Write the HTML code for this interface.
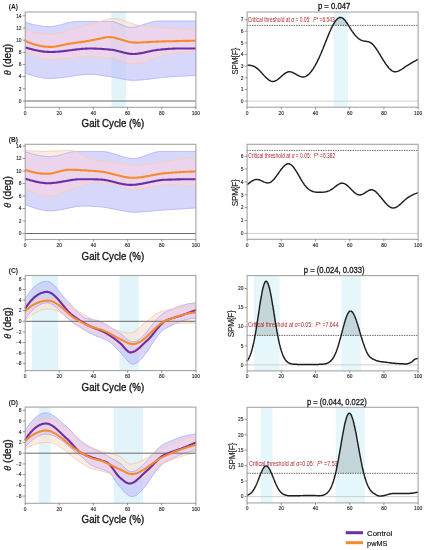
<!DOCTYPE html>
<html><head><meta charset="utf-8"><style>
html,body{margin:0;padding:0;background:#fff;}
body{width:425px;height:550px;overflow:hidden;}
svg{display:block;font-family:"Liberation Sans", sans-serif;filter:blur(0.25px);}
</style></head><body>
<svg width="425" height="550" viewBox="0 0 425 550">
<rect width="425" height="550" fill="#fff"/>
<rect x="111.5" y="12.0" width="14.5" height="95.3" fill="rgb(226,244,250)"/>
<clipPath id="clp1"><polygon points="25.0,22.0 25.7,22.2 26.3,22.5 27.0,22.7 27.7,22.9 28.3,23.1 29.0,23.3 29.7,23.6 30.3,23.7 31.0,23.9 31.7,24.1 32.3,24.3 33.0,24.5 33.6,24.6 34.3,24.8 35.0,24.9 35.6,25.1 36.3,25.2 37.0,25.3 37.6,25.5 38.3,25.6 39.0,25.7 39.6,25.8 40.3,25.9 41.0,26.0 41.6,26.1 42.3,26.2 43.0,26.2 43.6,26.3 44.3,26.4 45.0,26.4 45.6,26.5 46.3,26.5 47.0,26.5 47.6,26.6 48.3,26.6 49.0,26.6 49.6,26.6 50.3,26.6 50.9,26.6 51.6,26.5 52.3,26.5 52.9,26.4 53.6,26.3 54.3,26.2 54.9,26.1 55.6,26.0 56.3,25.9 56.9,25.7 57.6,25.6 58.3,25.4 58.9,25.3 59.6,25.1 60.3,24.9 60.9,24.7 61.6,24.5 62.3,24.3 62.9,24.1 63.6,24.0 64.3,23.8 64.9,23.6 65.6,23.4 66.3,23.2 66.9,23.0 67.6,22.8 68.2,22.7 68.9,22.5 69.6,22.4 70.2,22.2 70.9,22.1 71.6,22.0 72.2,21.9 72.9,21.8 73.6,21.7 74.2,21.6 74.9,21.6 75.6,21.5 76.2,21.5 76.9,21.5 77.6,21.5 78.2,21.5 78.9,21.5 79.6,21.5 80.2,21.5 80.9,21.5 81.6,21.5 82.2,21.5 82.9,21.5 83.6,21.5 84.2,21.5 84.9,21.5 85.5,21.5 86.2,21.5 86.9,21.5 87.5,21.5 88.2,21.5 88.9,21.5 89.5,21.5 90.2,21.5 90.9,21.5 91.5,21.5 92.2,21.5 92.9,21.5 93.5,21.5 94.2,21.5 94.9,21.5 95.5,21.5 96.2,21.5 96.9,21.5 97.5,21.5 98.2,21.5 98.9,21.5 99.5,21.5 100.2,21.5 100.9,21.5 101.5,21.5 102.2,21.5 102.8,21.5 103.5,21.5 104.2,21.5 104.8,21.5 105.5,21.5 106.2,21.5 106.8,21.5 107.5,21.5 108.2,21.5 108.8,21.5 109.5,21.5 110.2,21.5 110.8,21.5 111.5,21.5 112.2,21.6 112.8,21.6 113.5,21.8 114.2,21.9 114.8,22.1 115.5,22.3 116.2,22.5 116.8,22.8 117.5,23.0 118.2,23.3 118.8,23.6 119.5,23.9 120.1,24.2 120.8,24.5 121.5,24.8 122.1,25.1 122.8,25.3 123.5,25.6 124.1,25.9 124.8,26.2 125.5,26.4 126.1,26.6 126.8,26.8 127.5,27.0 128.1,27.1 128.8,27.3 129.5,27.3 130.1,27.4 130.8,27.4 131.5,27.4 132.1,27.3 132.8,27.3 133.5,27.2 134.1,27.1 134.8,27.0 135.5,26.9 136.1,26.8 136.8,26.6 137.4,26.5 138.1,26.3 138.8,26.1 139.4,25.9 140.1,25.7 140.8,25.5 141.4,25.3 142.1,25.1 142.8,24.9 143.4,24.6 144.1,24.4 144.8,24.2 145.4,24.0 146.1,23.7 146.8,23.5 147.4,23.3 148.1,23.1 148.8,22.9 149.4,22.7 150.1,22.5 150.8,22.3 151.4,22.1 152.1,21.9 152.8,21.8 153.4,21.6 154.1,21.5 154.7,21.4 155.4,21.3 156.1,21.2 156.7,21.1 157.4,21.0 158.1,21.0 158.7,21.0 159.4,21.0 160.1,21.0 160.7,21.0 161.4,21.0 162.1,21.0 162.7,21.0 163.4,21.0 164.1,21.0 164.7,21.0 165.4,21.0 166.1,21.0 166.7,21.0 167.4,21.0 168.1,21.0 168.7,21.0 169.4,21.0 170.1,21.0 170.7,21.0 171.4,21.0 172.0,21.0 172.7,21.0 173.4,21.0 174.0,21.0 174.7,21.0 175.4,21.0 176.0,21.0 176.7,21.0 177.4,21.0 178.0,21.0 178.7,21.0 179.4,21.0 180.0,21.0 180.7,21.0 181.4,21.0 182.0,21.0 182.7,21.0 183.4,21.0 184.0,21.0 184.7,21.0 185.4,21.0 186.0,21.0 186.7,21.0 187.4,21.0 188.0,21.0 188.7,21.0 189.3,21.0 190.0,21.0 190.7,21.0 191.3,21.0 192.0,21.0 192.7,21.0 193.3,21.0 194.0,21.0 194.7,21.0 195.3,21.0 196.0,21.0 196.0,75.6 195.3,75.6 194.7,75.6 194.0,75.7 193.3,75.7 192.7,75.7 192.0,75.7 191.3,75.7 190.7,75.8 190.0,75.8 189.3,75.8 188.7,75.8 188.0,75.9 187.4,75.9 186.7,75.9 186.0,76.0 185.4,76.0 184.7,76.0 184.0,76.0 183.4,76.1 182.7,76.1 182.0,76.1 181.4,76.2 180.7,76.2 180.0,76.2 179.4,76.3 178.7,76.3 178.0,76.3 177.4,76.4 176.7,76.4 176.0,76.4 175.4,76.5 174.7,76.5 174.0,76.6 173.4,76.6 172.7,76.6 172.0,76.7 171.4,76.7 170.7,76.8 170.1,76.8 169.4,76.8 168.7,76.9 168.1,76.9 167.4,77.0 166.7,77.0 166.1,77.1 165.4,77.2 164.7,77.2 164.1,77.3 163.4,77.4 162.7,77.4 162.1,77.5 161.4,77.6 160.7,77.7 160.1,77.7 159.4,77.8 158.7,77.9 158.1,78.0 157.4,78.1 156.7,78.2 156.1,78.2 155.4,78.3 154.7,78.4 154.1,78.5 153.4,78.6 152.8,78.7 152.1,78.8 151.4,78.8 150.8,78.9 150.1,79.0 149.4,79.1 148.8,79.2 148.1,79.2 147.4,79.3 146.8,79.4 146.1,79.5 145.4,79.5 144.8,79.6 144.1,79.7 143.4,79.8 142.8,79.8 142.1,79.9 141.4,79.9 140.8,80.0 140.1,80.0 139.4,80.1 138.8,80.1 138.1,80.2 137.4,80.2 136.8,80.2 136.1,80.2 135.5,80.3 134.8,80.3 134.1,80.3 133.5,80.3 132.8,80.3 132.1,80.3 131.5,80.3 130.8,80.2 130.1,80.2 129.5,80.1 128.8,80.1 128.1,80.0 127.5,79.9 126.8,79.8 126.1,79.7 125.5,79.6 124.8,79.5 124.1,79.3 123.5,79.2 122.8,79.1 122.1,78.9 121.5,78.8 120.8,78.7 120.1,78.5 119.5,78.4 118.8,78.2 118.2,78.1 117.5,78.0 116.8,77.8 116.2,77.7 115.5,77.6 114.8,77.4 114.2,77.3 113.5,77.2 112.8,77.1 112.2,77.0 111.5,76.9 110.8,76.8 110.2,76.7 109.5,76.6 108.8,76.5 108.2,76.4 107.5,76.3 106.8,76.2 106.2,76.1 105.5,76.0 104.8,75.9 104.2,75.8 103.5,75.7 102.8,75.6 102.2,75.5 101.5,75.4 100.9,75.3 100.2,75.2 99.5,75.1 98.9,75.0 98.2,75.0 97.5,74.9 96.9,74.8 96.2,74.7 95.5,74.7 94.9,74.6 94.2,74.6 93.5,74.5 92.9,74.5 92.2,74.4 91.5,74.4 90.9,74.4 90.2,74.4 89.5,74.4 88.9,74.4 88.2,74.4 87.5,74.4 86.9,74.5 86.2,74.5 85.5,74.5 84.9,74.6 84.2,74.6 83.6,74.7 82.9,74.7 82.2,74.8 81.6,74.9 80.9,74.9 80.2,75.0 79.6,75.1 78.9,75.2 78.2,75.2 77.6,75.3 76.9,75.4 76.2,75.5 75.6,75.6 74.9,75.7 74.2,75.8 73.6,75.9 72.9,76.0 72.2,76.1 71.6,76.2 70.9,76.3 70.2,76.4 69.6,76.5 68.9,76.6 68.2,76.7 67.6,76.8 66.9,76.9 66.3,77.0 65.6,77.1 64.9,77.1 64.3,77.2 63.6,77.3 62.9,77.4 62.3,77.5 61.6,77.6 60.9,77.7 60.3,77.7 59.6,77.8 58.9,77.9 58.3,78.0 57.6,78.0 56.9,78.1 56.3,78.1 55.6,78.2 54.9,78.2 54.3,78.3 53.6,78.3 52.9,78.3 52.3,78.4 51.6,78.4 50.9,78.4 50.3,78.4 49.6,78.4 49.0,78.4 48.3,78.4 47.6,78.3 47.0,78.3 46.3,78.2 45.6,78.2 45.0,78.1 44.3,78.0 43.6,78.0 43.0,77.9 42.3,77.8 41.6,77.7 41.0,77.5 40.3,77.4 39.6,77.3 39.0,77.1 38.3,77.0 37.6,76.9 37.0,76.7 36.3,76.5 35.6,76.4 35.0,76.2 34.3,76.0 33.6,75.8 33.0,75.7 32.3,75.5 31.7,75.3 31.0,75.1 30.3,74.9 29.7,74.7 29.0,74.5 28.3,74.3 27.7,74.1 27.0,73.8 26.3,73.6 25.7,73.4 25.0,73.2"/></clipPath>
<g opacity="0.65">
<polygon points="25.0,22.0 25.7,22.2 26.3,22.5 27.0,22.7 27.7,22.9 28.3,23.1 29.0,23.3 29.7,23.6 30.3,23.7 31.0,23.9 31.7,24.1 32.3,24.3 33.0,24.5 33.6,24.6 34.3,24.8 35.0,24.9 35.6,25.1 36.3,25.2 37.0,25.3 37.6,25.5 38.3,25.6 39.0,25.7 39.6,25.8 40.3,25.9 41.0,26.0 41.6,26.1 42.3,26.2 43.0,26.2 43.6,26.3 44.3,26.4 45.0,26.4 45.6,26.5 46.3,26.5 47.0,26.5 47.6,26.6 48.3,26.6 49.0,26.6 49.6,26.6 50.3,26.6 50.9,26.6 51.6,26.5 52.3,26.5 52.9,26.4 53.6,26.3 54.3,26.2 54.9,26.1 55.6,26.0 56.3,25.9 56.9,25.7 57.6,25.6 58.3,25.4 58.9,25.3 59.6,25.1 60.3,24.9 60.9,24.7 61.6,24.5 62.3,24.3 62.9,24.1 63.6,24.0 64.3,23.8 64.9,23.6 65.6,23.4 66.3,23.2 66.9,23.0 67.6,22.8 68.2,22.7 68.9,22.5 69.6,22.4 70.2,22.2 70.9,22.1 71.6,22.0 72.2,21.9 72.9,21.8 73.6,21.7 74.2,21.6 74.9,21.6 75.6,21.5 76.2,21.5 76.9,21.5 77.6,21.5 78.2,21.5 78.9,21.5 79.6,21.5 80.2,21.5 80.9,21.5 81.6,21.5 82.2,21.5 82.9,21.5 83.6,21.5 84.2,21.5 84.9,21.5 85.5,21.5 86.2,21.5 86.9,21.5 87.5,21.5 88.2,21.5 88.9,21.5 89.5,21.5 90.2,21.5 90.9,21.5 91.5,21.5 92.2,21.5 92.9,21.5 93.5,21.5 94.2,21.5 94.9,21.5 95.5,21.5 96.2,21.5 96.9,21.5 97.5,21.5 98.2,21.5 98.9,21.5 99.5,21.5 100.2,21.5 100.9,21.5 101.5,21.5 102.2,21.5 102.8,21.5 103.5,21.5 104.2,21.5 104.8,21.5 105.5,21.5 106.2,21.5 106.8,21.5 107.5,21.5 108.2,21.5 108.8,21.5 109.5,21.5 110.2,21.5 110.8,21.5 111.5,21.5 112.2,21.6 112.8,21.6 113.5,21.8 114.2,21.9 114.8,22.1 115.5,22.3 116.2,22.5 116.8,22.8 117.5,23.0 118.2,23.3 118.8,23.6 119.5,23.9 120.1,24.2 120.8,24.5 121.5,24.8 122.1,25.1 122.8,25.3 123.5,25.6 124.1,25.9 124.8,26.2 125.5,26.4 126.1,26.6 126.8,26.8 127.5,27.0 128.1,27.1 128.8,27.3 129.5,27.3 130.1,27.4 130.8,27.4 131.5,27.4 132.1,27.3 132.8,27.3 133.5,27.2 134.1,27.1 134.8,27.0 135.5,26.9 136.1,26.8 136.8,26.6 137.4,26.5 138.1,26.3 138.8,26.1 139.4,25.9 140.1,25.7 140.8,25.5 141.4,25.3 142.1,25.1 142.8,24.9 143.4,24.6 144.1,24.4 144.8,24.2 145.4,24.0 146.1,23.7 146.8,23.5 147.4,23.3 148.1,23.1 148.8,22.9 149.4,22.7 150.1,22.5 150.8,22.3 151.4,22.1 152.1,21.9 152.8,21.8 153.4,21.6 154.1,21.5 154.7,21.4 155.4,21.3 156.1,21.2 156.7,21.1 157.4,21.0 158.1,21.0 158.7,21.0 159.4,21.0 160.1,21.0 160.7,21.0 161.4,21.0 162.1,21.0 162.7,21.0 163.4,21.0 164.1,21.0 164.7,21.0 165.4,21.0 166.1,21.0 166.7,21.0 167.4,21.0 168.1,21.0 168.7,21.0 169.4,21.0 170.1,21.0 170.7,21.0 171.4,21.0 172.0,21.0 172.7,21.0 173.4,21.0 174.0,21.0 174.7,21.0 175.4,21.0 176.0,21.0 176.7,21.0 177.4,21.0 178.0,21.0 178.7,21.0 179.4,21.0 180.0,21.0 180.7,21.0 181.4,21.0 182.0,21.0 182.7,21.0 183.4,21.0 184.0,21.0 184.7,21.0 185.4,21.0 186.0,21.0 186.7,21.0 187.4,21.0 188.0,21.0 188.7,21.0 189.3,21.0 190.0,21.0 190.7,21.0 191.3,21.0 192.0,21.0 192.7,21.0 193.3,21.0 194.0,21.0 194.7,21.0 195.3,21.0 196.0,21.0 196.0,75.6 195.3,75.6 194.7,75.6 194.0,75.7 193.3,75.7 192.7,75.7 192.0,75.7 191.3,75.7 190.7,75.8 190.0,75.8 189.3,75.8 188.7,75.8 188.0,75.9 187.4,75.9 186.7,75.9 186.0,76.0 185.4,76.0 184.7,76.0 184.0,76.0 183.4,76.1 182.7,76.1 182.0,76.1 181.4,76.2 180.7,76.2 180.0,76.2 179.4,76.3 178.7,76.3 178.0,76.3 177.4,76.4 176.7,76.4 176.0,76.4 175.4,76.5 174.7,76.5 174.0,76.6 173.4,76.6 172.7,76.6 172.0,76.7 171.4,76.7 170.7,76.8 170.1,76.8 169.4,76.8 168.7,76.9 168.1,76.9 167.4,77.0 166.7,77.0 166.1,77.1 165.4,77.2 164.7,77.2 164.1,77.3 163.4,77.4 162.7,77.4 162.1,77.5 161.4,77.6 160.7,77.7 160.1,77.7 159.4,77.8 158.7,77.9 158.1,78.0 157.4,78.1 156.7,78.2 156.1,78.2 155.4,78.3 154.7,78.4 154.1,78.5 153.4,78.6 152.8,78.7 152.1,78.8 151.4,78.8 150.8,78.9 150.1,79.0 149.4,79.1 148.8,79.2 148.1,79.2 147.4,79.3 146.8,79.4 146.1,79.5 145.4,79.5 144.8,79.6 144.1,79.7 143.4,79.8 142.8,79.8 142.1,79.9 141.4,79.9 140.8,80.0 140.1,80.0 139.4,80.1 138.8,80.1 138.1,80.2 137.4,80.2 136.8,80.2 136.1,80.2 135.5,80.3 134.8,80.3 134.1,80.3 133.5,80.3 132.8,80.3 132.1,80.3 131.5,80.3 130.8,80.2 130.1,80.2 129.5,80.1 128.8,80.1 128.1,80.0 127.5,79.9 126.8,79.8 126.1,79.7 125.5,79.6 124.8,79.5 124.1,79.3 123.5,79.2 122.8,79.1 122.1,78.9 121.5,78.8 120.8,78.7 120.1,78.5 119.5,78.4 118.8,78.2 118.2,78.1 117.5,78.0 116.8,77.8 116.2,77.7 115.5,77.6 114.8,77.4 114.2,77.3 113.5,77.2 112.8,77.1 112.2,77.0 111.5,76.9 110.8,76.8 110.2,76.7 109.5,76.6 108.8,76.5 108.2,76.4 107.5,76.3 106.8,76.2 106.2,76.1 105.5,76.0 104.8,75.9 104.2,75.8 103.5,75.7 102.8,75.6 102.2,75.5 101.5,75.4 100.9,75.3 100.2,75.2 99.5,75.1 98.9,75.0 98.2,75.0 97.5,74.9 96.9,74.8 96.2,74.7 95.5,74.7 94.9,74.6 94.2,74.6 93.5,74.5 92.9,74.5 92.2,74.4 91.5,74.4 90.9,74.4 90.2,74.4 89.5,74.4 88.9,74.4 88.2,74.4 87.5,74.4 86.9,74.5 86.2,74.5 85.5,74.5 84.9,74.6 84.2,74.6 83.6,74.7 82.9,74.7 82.2,74.8 81.6,74.9 80.9,74.9 80.2,75.0 79.6,75.1 78.9,75.2 78.2,75.2 77.6,75.3 76.9,75.4 76.2,75.5 75.6,75.6 74.9,75.7 74.2,75.8 73.6,75.9 72.9,76.0 72.2,76.1 71.6,76.2 70.9,76.3 70.2,76.4 69.6,76.5 68.9,76.6 68.2,76.7 67.6,76.8 66.9,76.9 66.3,77.0 65.6,77.1 64.9,77.1 64.3,77.2 63.6,77.3 62.9,77.4 62.3,77.5 61.6,77.6 60.9,77.7 60.3,77.7 59.6,77.8 58.9,77.9 58.3,78.0 57.6,78.0 56.9,78.1 56.3,78.1 55.6,78.2 54.9,78.2 54.3,78.3 53.6,78.3 52.9,78.3 52.3,78.4 51.6,78.4 50.9,78.4 50.3,78.4 49.6,78.4 49.0,78.4 48.3,78.4 47.6,78.3 47.0,78.3 46.3,78.2 45.6,78.2 45.0,78.1 44.3,78.0 43.6,78.0 43.0,77.9 42.3,77.8 41.6,77.7 41.0,77.5 40.3,77.4 39.6,77.3 39.0,77.1 38.3,77.0 37.6,76.9 37.0,76.7 36.3,76.5 35.6,76.4 35.0,76.2 34.3,76.0 33.6,75.8 33.0,75.7 32.3,75.5 31.7,75.3 31.0,75.1 30.3,74.9 29.7,74.7 29.0,74.5 28.3,74.3 27.7,74.1 27.0,73.8 26.3,73.6 25.7,73.4 25.0,73.2" fill="rgb(195,195,249)"/>
<polygon points="25.0,29.7 25.7,30.0 26.3,30.2 27.0,30.4 27.7,30.7 28.3,30.9 29.0,31.1 29.7,31.3 30.3,31.5 31.0,31.7 31.7,31.9 32.3,32.1 33.0,32.3 33.6,32.5 34.3,32.6 35.0,32.8 35.6,32.9 36.3,33.0 37.0,33.2 37.6,33.3 38.3,33.4 39.0,33.5 39.6,33.6 40.3,33.7 41.0,33.8 41.6,33.9 42.3,34.0 43.0,34.1 43.6,34.1 44.3,34.2 45.0,34.2 45.6,34.3 46.3,34.3 47.0,34.3 47.6,34.4 48.3,34.4 49.0,34.4 49.6,34.4 50.3,34.4 50.9,34.4 51.6,34.4 52.3,34.3 52.9,34.3 53.6,34.2 54.3,34.1 54.9,34.0 55.6,33.9 56.3,33.8 56.9,33.7 57.6,33.6 58.3,33.4 58.9,33.3 59.6,33.1 60.3,33.0 60.9,32.8 61.6,32.6 62.3,32.4 62.9,32.2 63.6,32.1 64.3,31.9 64.9,31.7 65.6,31.5 66.3,31.3 66.9,31.1 67.6,30.8 68.2,30.6 68.9,30.4 69.6,30.2 70.2,30.0 70.9,29.8 71.6,29.6 72.2,29.4 72.9,29.2 73.6,29.0 74.2,28.8 74.9,28.6 75.6,28.4 76.2,28.3 76.9,28.1 77.6,27.9 78.2,27.7 78.9,27.6 79.6,27.4 80.2,27.2 80.9,27.0 81.6,26.8 82.2,26.6 82.9,26.4 83.6,26.2 84.2,26.0 84.9,25.8 85.5,25.6 86.2,25.4 86.9,25.2 87.5,25.0 88.2,24.8 88.9,24.6 89.5,24.4 90.2,24.2 90.9,24.1 91.5,23.9 92.2,23.7 92.9,23.5 93.5,23.3 94.2,23.1 94.9,22.9 95.5,22.7 96.2,22.5 96.9,22.3 97.5,22.1 98.2,22.0 98.9,21.8 99.5,21.6 100.2,21.5 100.9,21.3 101.5,21.1 102.2,20.9 102.8,20.7 103.5,20.5 104.2,20.3 104.8,20.1 105.5,19.9 106.2,19.7 106.8,19.5 107.5,19.3 108.2,19.1 108.8,19.0 109.5,18.9 110.2,18.7 110.8,18.6 111.5,18.6 112.2,18.5 112.8,18.5 113.5,18.5 114.2,18.5 114.8,18.6 115.5,18.6 116.2,18.7 116.8,18.8 117.5,18.9 118.2,19.1 118.8,19.2 119.5,19.4 120.1,19.6 120.8,19.7 121.5,19.9 122.1,20.1 122.8,20.4 123.5,20.6 124.1,20.8 124.8,21.0 125.5,21.3 126.1,21.5 126.8,21.8 127.5,22.0 128.1,22.2 128.8,22.5 129.5,22.7 130.1,23.0 130.8,23.2 131.5,23.5 132.1,23.7 132.8,23.9 133.5,24.1 134.1,24.3 134.8,24.5 135.5,24.7 136.1,24.9 136.8,25.1 137.4,25.2 138.1,25.4 138.8,25.5 139.4,25.6 140.1,25.7 140.8,25.8 141.4,25.9 142.1,26.0 142.8,26.1 143.4,26.1 144.1,26.2 144.8,26.3 145.4,26.4 146.1,26.4 146.8,26.5 147.4,26.6 148.1,26.6 148.8,26.7 149.4,26.8 150.1,26.8 150.8,26.9 151.4,27.0 152.1,27.0 152.8,27.1 153.4,27.1 154.1,27.2 154.7,27.2 155.4,27.3 156.1,27.4 156.7,27.4 157.4,27.5 158.1,27.5 158.7,27.6 159.4,27.6 160.1,27.7 160.7,27.7 161.4,27.7 162.1,27.8 162.7,27.8 163.4,27.9 164.1,27.9 164.7,28.0 165.4,28.0 166.1,28.1 166.7,28.1 167.4,28.2 168.1,28.2 168.7,28.3 169.4,28.3 170.1,28.3 170.7,28.4 171.4,28.4 172.0,28.5 172.7,28.5 173.4,28.6 174.0,28.6 174.7,28.6 175.4,28.7 176.0,28.7 176.7,28.8 177.4,28.8 178.0,28.8 178.7,28.9 179.4,28.9 180.0,29.0 180.7,29.0 181.4,29.0 182.0,29.1 182.7,29.1 183.4,29.1 184.0,29.2 184.7,29.2 185.4,29.2 186.0,29.3 186.7,29.3 187.4,29.3 188.0,29.4 188.7,29.4 189.3,29.4 190.0,29.5 190.7,29.5 191.3,29.5 192.0,29.5 192.7,29.6 193.3,29.6 194.0,29.6 194.7,29.7 195.3,29.7 196.0,29.7 196.0,50.9 195.3,50.9 194.7,51.0 194.0,51.0 193.3,51.1 192.7,51.1 192.0,51.2 191.3,51.3 190.7,51.3 190.0,51.4 189.3,51.4 188.7,51.5 188.0,51.6 187.4,51.6 186.7,51.7 186.0,51.8 185.4,51.9 184.7,52.0 184.0,52.0 183.4,52.1 182.7,52.2 182.0,52.3 181.4,52.4 180.7,52.5 180.0,52.6 179.4,52.7 178.7,52.8 178.0,52.9 177.4,53.0 176.7,53.1 176.0,53.2 175.4,53.3 174.7,53.4 174.0,53.5 173.4,53.6 172.7,53.7 172.0,53.8 171.4,53.9 170.7,54.0 170.1,54.1 169.4,54.2 168.7,54.3 168.1,54.5 167.4,54.6 166.7,54.7 166.1,54.8 165.4,54.9 164.7,55.0 164.1,55.2 163.4,55.3 162.7,55.5 162.1,55.6 161.4,55.8 160.7,56.0 160.1,56.2 159.4,56.4 158.7,56.6 158.1,56.8 157.4,57.0 156.7,57.3 156.1,57.5 155.4,57.7 154.7,58.0 154.1,58.2 153.4,58.5 152.8,58.7 152.1,59.0 151.4,59.2 150.8,59.5 150.1,59.7 149.4,60.0 148.8,60.2 148.1,60.4 147.4,60.7 146.8,60.9 146.1,61.1 145.4,61.4 144.8,61.6 144.1,61.8 143.4,62.0 142.8,62.2 142.1,62.4 141.4,62.6 140.8,62.7 140.1,62.9 139.4,63.1 138.8,63.2 138.1,63.3 137.4,63.4 136.8,63.5 136.1,63.6 135.5,63.7 134.8,63.7 134.1,63.8 133.5,63.8 132.8,63.8 132.1,63.8 131.5,63.7 130.8,63.7 130.1,63.6 129.5,63.5 128.8,63.3 128.1,63.2 127.5,63.0 126.8,62.8 126.1,62.6 125.5,62.4 124.8,62.2 124.1,62.0 123.5,61.8 122.8,61.5 122.1,61.3 121.5,61.0 120.8,60.8 120.1,60.6 119.5,60.3 118.8,60.1 118.2,59.8 117.5,59.6 116.8,59.4 116.2,59.2 115.5,59.0 114.8,58.8 114.2,58.6 113.5,58.4 112.8,58.3 112.2,58.2 111.5,58.1 110.8,58.0 110.2,57.9 109.5,57.8 108.8,57.7 108.2,57.7 107.5,57.6 106.8,57.5 106.2,57.4 105.5,57.3 104.8,57.3 104.2,57.2 103.5,57.1 102.8,57.1 102.2,57.0 101.5,56.9 100.9,56.9 100.2,56.8 99.5,56.7 98.9,56.7 98.2,56.6 97.5,56.6 96.9,56.5 96.2,56.5 95.5,56.5 94.9,56.4 94.2,56.4 93.5,56.4 92.9,56.3 92.2,56.3 91.5,56.3 90.9,56.3 90.2,56.3 89.5,56.3 88.9,56.3 88.2,56.3 87.5,56.3 86.9,56.4 86.2,56.4 85.5,56.4 84.9,56.4 84.2,56.5 83.6,56.5 82.9,56.6 82.2,56.6 81.6,56.7 80.9,56.7 80.2,56.8 79.6,56.9 78.9,56.9 78.2,57.0 77.6,57.1 76.9,57.1 76.2,57.2 75.6,57.3 74.9,57.4 74.2,57.4 73.6,57.5 72.9,57.6 72.2,57.7 71.6,57.8 70.9,57.8 70.2,57.9 69.6,58.0 68.9,58.1 68.2,58.2 67.6,58.2 66.9,58.3 66.3,58.4 65.6,58.5 64.9,58.6 64.3,58.6 63.6,58.7 62.9,58.8 62.3,58.9 61.6,58.9 60.9,59.0 60.3,59.1 59.6,59.1 58.9,59.2 58.3,59.2 57.6,59.3 56.9,59.3 56.3,59.4 55.6,59.4 54.9,59.5 54.3,59.5 53.6,59.5 52.9,59.5 52.3,59.6 51.6,59.6 50.9,59.6 50.3,59.6 49.6,59.6 49.0,59.6 48.3,59.5 47.6,59.5 47.0,59.4 46.3,59.3 45.6,59.2 45.0,59.1 44.3,59.0 43.6,58.8 43.0,58.7 42.3,58.5 41.6,58.3 41.0,58.1 40.3,57.9 39.6,57.6 39.0,57.4 38.3,57.2 37.6,56.9 37.0,56.6 36.3,56.4 35.6,56.1 35.0,55.8 34.3,55.5 33.6,55.2 33.0,54.9 32.3,54.6 31.7,54.3 31.0,53.9 30.3,53.6 29.7,53.3 29.0,52.9 28.3,52.6 27.7,52.3 27.0,51.9 26.3,51.6 25.7,51.2 25.0,50.9" fill="rgb(250,227,210)"/>
<polygon points="25.0,29.7 25.7,30.0 26.3,30.2 27.0,30.4 27.7,30.7 28.3,30.9 29.0,31.1 29.7,31.3 30.3,31.5 31.0,31.7 31.7,31.9 32.3,32.1 33.0,32.3 33.6,32.5 34.3,32.6 35.0,32.8 35.6,32.9 36.3,33.0 37.0,33.2 37.6,33.3 38.3,33.4 39.0,33.5 39.6,33.6 40.3,33.7 41.0,33.8 41.6,33.9 42.3,34.0 43.0,34.1 43.6,34.1 44.3,34.2 45.0,34.2 45.6,34.3 46.3,34.3 47.0,34.3 47.6,34.4 48.3,34.4 49.0,34.4 49.6,34.4 50.3,34.4 50.9,34.4 51.6,34.4 52.3,34.3 52.9,34.3 53.6,34.2 54.3,34.1 54.9,34.0 55.6,33.9 56.3,33.8 56.9,33.7 57.6,33.6 58.3,33.4 58.9,33.3 59.6,33.1 60.3,33.0 60.9,32.8 61.6,32.6 62.3,32.4 62.9,32.2 63.6,32.1 64.3,31.9 64.9,31.7 65.6,31.5 66.3,31.3 66.9,31.1 67.6,30.8 68.2,30.6 68.9,30.4 69.6,30.2 70.2,30.0 70.9,29.8 71.6,29.6 72.2,29.4 72.9,29.2 73.6,29.0 74.2,28.8 74.9,28.6 75.6,28.4 76.2,28.3 76.9,28.1 77.6,27.9 78.2,27.7 78.9,27.6 79.6,27.4 80.2,27.2 80.9,27.0 81.6,26.8 82.2,26.6 82.9,26.4 83.6,26.2 84.2,26.0 84.9,25.8 85.5,25.6 86.2,25.4 86.9,25.2 87.5,25.0 88.2,24.8 88.9,24.6 89.5,24.4 90.2,24.2 90.9,24.1 91.5,23.9 92.2,23.7 92.9,23.5 93.5,23.3 94.2,23.1 94.9,22.9 95.5,22.7 96.2,22.5 96.9,22.3 97.5,22.1 98.2,22.0 98.9,21.8 99.5,21.6 100.2,21.5 100.9,21.3 101.5,21.1 102.2,20.9 102.8,20.7 103.5,20.5 104.2,20.3 104.8,20.1 105.5,19.9 106.2,19.7 106.8,19.5 107.5,19.3 108.2,19.1 108.8,19.0 109.5,18.9 110.2,18.7 110.8,18.6 111.5,18.6 112.2,18.5 112.8,18.5 113.5,18.5 114.2,18.5 114.8,18.6 115.5,18.6 116.2,18.7 116.8,18.8 117.5,18.9 118.2,19.1 118.8,19.2 119.5,19.4 120.1,19.6 120.8,19.7 121.5,19.9 122.1,20.1 122.8,20.4 123.5,20.6 124.1,20.8 124.8,21.0 125.5,21.3 126.1,21.5 126.8,21.8 127.5,22.0 128.1,22.2 128.8,22.5 129.5,22.7 130.1,23.0 130.8,23.2 131.5,23.5 132.1,23.7 132.8,23.9 133.5,24.1 134.1,24.3 134.8,24.5 135.5,24.7 136.1,24.9 136.8,25.1 137.4,25.2 138.1,25.4 138.8,25.5 139.4,25.6 140.1,25.7 140.8,25.8 141.4,25.9 142.1,26.0 142.8,26.1 143.4,26.1 144.1,26.2 144.8,26.3 145.4,26.4 146.1,26.4 146.8,26.5 147.4,26.6 148.1,26.6 148.8,26.7 149.4,26.8 150.1,26.8 150.8,26.9 151.4,27.0 152.1,27.0 152.8,27.1 153.4,27.1 154.1,27.2 154.7,27.2 155.4,27.3 156.1,27.4 156.7,27.4 157.4,27.5 158.1,27.5 158.7,27.6 159.4,27.6 160.1,27.7 160.7,27.7 161.4,27.7 162.1,27.8 162.7,27.8 163.4,27.9 164.1,27.9 164.7,28.0 165.4,28.0 166.1,28.1 166.7,28.1 167.4,28.2 168.1,28.2 168.7,28.3 169.4,28.3 170.1,28.3 170.7,28.4 171.4,28.4 172.0,28.5 172.7,28.5 173.4,28.6 174.0,28.6 174.7,28.6 175.4,28.7 176.0,28.7 176.7,28.8 177.4,28.8 178.0,28.8 178.7,28.9 179.4,28.9 180.0,29.0 180.7,29.0 181.4,29.0 182.0,29.1 182.7,29.1 183.4,29.1 184.0,29.2 184.7,29.2 185.4,29.2 186.0,29.3 186.7,29.3 187.4,29.3 188.0,29.4 188.7,29.4 189.3,29.4 190.0,29.5 190.7,29.5 191.3,29.5 192.0,29.5 192.7,29.6 193.3,29.6 194.0,29.6 194.7,29.7 195.3,29.7 196.0,29.7 196.0,50.9 195.3,50.9 194.7,51.0 194.0,51.0 193.3,51.1 192.7,51.1 192.0,51.2 191.3,51.3 190.7,51.3 190.0,51.4 189.3,51.4 188.7,51.5 188.0,51.6 187.4,51.6 186.7,51.7 186.0,51.8 185.4,51.9 184.7,52.0 184.0,52.0 183.4,52.1 182.7,52.2 182.0,52.3 181.4,52.4 180.7,52.5 180.0,52.6 179.4,52.7 178.7,52.8 178.0,52.9 177.4,53.0 176.7,53.1 176.0,53.2 175.4,53.3 174.7,53.4 174.0,53.5 173.4,53.6 172.7,53.7 172.0,53.8 171.4,53.9 170.7,54.0 170.1,54.1 169.4,54.2 168.7,54.3 168.1,54.5 167.4,54.6 166.7,54.7 166.1,54.8 165.4,54.9 164.7,55.0 164.1,55.2 163.4,55.3 162.7,55.5 162.1,55.6 161.4,55.8 160.7,56.0 160.1,56.2 159.4,56.4 158.7,56.6 158.1,56.8 157.4,57.0 156.7,57.3 156.1,57.5 155.4,57.7 154.7,58.0 154.1,58.2 153.4,58.5 152.8,58.7 152.1,59.0 151.4,59.2 150.8,59.5 150.1,59.7 149.4,60.0 148.8,60.2 148.1,60.4 147.4,60.7 146.8,60.9 146.1,61.1 145.4,61.4 144.8,61.6 144.1,61.8 143.4,62.0 142.8,62.2 142.1,62.4 141.4,62.6 140.8,62.7 140.1,62.9 139.4,63.1 138.8,63.2 138.1,63.3 137.4,63.4 136.8,63.5 136.1,63.6 135.5,63.7 134.8,63.7 134.1,63.8 133.5,63.8 132.8,63.8 132.1,63.8 131.5,63.7 130.8,63.7 130.1,63.6 129.5,63.5 128.8,63.3 128.1,63.2 127.5,63.0 126.8,62.8 126.1,62.6 125.5,62.4 124.8,62.2 124.1,62.0 123.5,61.8 122.8,61.5 122.1,61.3 121.5,61.0 120.8,60.8 120.1,60.6 119.5,60.3 118.8,60.1 118.2,59.8 117.5,59.6 116.8,59.4 116.2,59.2 115.5,59.0 114.8,58.8 114.2,58.6 113.5,58.4 112.8,58.3 112.2,58.2 111.5,58.1 110.8,58.0 110.2,57.9 109.5,57.8 108.8,57.7 108.2,57.7 107.5,57.6 106.8,57.5 106.2,57.4 105.5,57.3 104.8,57.3 104.2,57.2 103.5,57.1 102.8,57.1 102.2,57.0 101.5,56.9 100.9,56.9 100.2,56.8 99.5,56.7 98.9,56.7 98.2,56.6 97.5,56.6 96.9,56.5 96.2,56.5 95.5,56.5 94.9,56.4 94.2,56.4 93.5,56.4 92.9,56.3 92.2,56.3 91.5,56.3 90.9,56.3 90.2,56.3 89.5,56.3 88.9,56.3 88.2,56.3 87.5,56.3 86.9,56.4 86.2,56.4 85.5,56.4 84.9,56.4 84.2,56.5 83.6,56.5 82.9,56.6 82.2,56.6 81.6,56.7 80.9,56.7 80.2,56.8 79.6,56.9 78.9,56.9 78.2,57.0 77.6,57.1 76.9,57.1 76.2,57.2 75.6,57.3 74.9,57.4 74.2,57.4 73.6,57.5 72.9,57.6 72.2,57.7 71.6,57.8 70.9,57.8 70.2,57.9 69.6,58.0 68.9,58.1 68.2,58.2 67.6,58.2 66.9,58.3 66.3,58.4 65.6,58.5 64.9,58.6 64.3,58.6 63.6,58.7 62.9,58.8 62.3,58.9 61.6,58.9 60.9,59.0 60.3,59.1 59.6,59.1 58.9,59.2 58.3,59.2 57.6,59.3 56.9,59.3 56.3,59.4 55.6,59.4 54.9,59.5 54.3,59.5 53.6,59.5 52.9,59.5 52.3,59.6 51.6,59.6 50.9,59.6 50.3,59.6 49.6,59.6 49.0,59.6 48.3,59.5 47.6,59.5 47.0,59.4 46.3,59.3 45.6,59.2 45.0,59.1 44.3,59.0 43.6,58.8 43.0,58.7 42.3,58.5 41.6,58.3 41.0,58.1 40.3,57.9 39.6,57.6 39.0,57.4 38.3,57.2 37.6,56.9 37.0,56.6 36.3,56.4 35.6,56.1 35.0,55.8 34.3,55.5 33.6,55.2 33.0,54.9 32.3,54.6 31.7,54.3 31.0,53.9 30.3,53.6 29.7,53.3 29.0,52.9 28.3,52.6 27.7,52.3 27.0,51.9 26.3,51.6 25.7,51.2 25.0,50.9" fill="rgb(226,192,226)" clip-path="url(#clp1)"/>
<polyline points="25.0,22.0 25.7,22.2 26.3,22.5 27.0,22.7 27.7,22.9 28.3,23.1 29.0,23.3 29.7,23.6 30.3,23.7 31.0,23.9 31.7,24.1 32.3,24.3 33.0,24.5 33.6,24.6 34.3,24.8 35.0,24.9 35.6,25.1 36.3,25.2 37.0,25.3 37.6,25.5 38.3,25.6 39.0,25.7 39.6,25.8 40.3,25.9 41.0,26.0 41.6,26.1 42.3,26.2 43.0,26.2 43.6,26.3 44.3,26.4 45.0,26.4 45.6,26.5 46.3,26.5 47.0,26.5 47.6,26.6 48.3,26.6 49.0,26.6 49.6,26.6 50.3,26.6 50.9,26.6 51.6,26.5 52.3,26.5 52.9,26.4 53.6,26.3 54.3,26.2 54.9,26.1 55.6,26.0 56.3,25.9 56.9,25.7 57.6,25.6 58.3,25.4 58.9,25.3 59.6,25.1 60.3,24.9 60.9,24.7 61.6,24.5 62.3,24.3 62.9,24.1 63.6,24.0 64.3,23.8 64.9,23.6 65.6,23.4 66.3,23.2 66.9,23.0 67.6,22.8 68.2,22.7 68.9,22.5 69.6,22.4 70.2,22.2 70.9,22.1 71.6,22.0 72.2,21.9 72.9,21.8 73.6,21.7 74.2,21.6 74.9,21.6 75.6,21.5 76.2,21.5 76.9,21.5 77.6,21.5 78.2,21.5 78.9,21.5 79.6,21.5 80.2,21.5 80.9,21.5 81.6,21.5 82.2,21.5 82.9,21.5 83.6,21.5 84.2,21.5 84.9,21.5 85.5,21.5 86.2,21.5 86.9,21.5 87.5,21.5 88.2,21.5 88.9,21.5 89.5,21.5 90.2,21.5 90.9,21.5 91.5,21.5 92.2,21.5 92.9,21.5 93.5,21.5 94.2,21.5 94.9,21.5 95.5,21.5 96.2,21.5 96.9,21.5 97.5,21.5 98.2,21.5 98.9,21.5 99.5,21.5 100.2,21.5 100.9,21.5 101.5,21.5 102.2,21.5 102.8,21.5 103.5,21.5 104.2,21.5 104.8,21.5 105.5,21.5 106.2,21.5 106.8,21.5 107.5,21.5 108.2,21.5 108.8,21.5 109.5,21.5 110.2,21.5 110.8,21.5 111.5,21.5 112.2,21.6 112.8,21.6 113.5,21.8 114.2,21.9 114.8,22.1 115.5,22.3 116.2,22.5 116.8,22.8 117.5,23.0 118.2,23.3 118.8,23.6 119.5,23.9 120.1,24.2 120.8,24.5 121.5,24.8 122.1,25.1 122.8,25.3 123.5,25.6 124.1,25.9 124.8,26.2 125.5,26.4 126.1,26.6 126.8,26.8 127.5,27.0 128.1,27.1 128.8,27.3 129.5,27.3 130.1,27.4 130.8,27.4 131.5,27.4 132.1,27.3 132.8,27.3 133.5,27.2 134.1,27.1 134.8,27.0 135.5,26.9 136.1,26.8 136.8,26.6 137.4,26.5 138.1,26.3 138.8,26.1 139.4,25.9 140.1,25.7 140.8,25.5 141.4,25.3 142.1,25.1 142.8,24.9 143.4,24.6 144.1,24.4 144.8,24.2 145.4,24.0 146.1,23.7 146.8,23.5 147.4,23.3 148.1,23.1 148.8,22.9 149.4,22.7 150.1,22.5 150.8,22.3 151.4,22.1 152.1,21.9 152.8,21.8 153.4,21.6 154.1,21.5 154.7,21.4 155.4,21.3 156.1,21.2 156.7,21.1 157.4,21.0 158.1,21.0 158.7,21.0 159.4,21.0 160.1,21.0 160.7,21.0 161.4,21.0 162.1,21.0 162.7,21.0 163.4,21.0 164.1,21.0 164.7,21.0 165.4,21.0 166.1,21.0 166.7,21.0 167.4,21.0 168.1,21.0 168.7,21.0 169.4,21.0 170.1,21.0 170.7,21.0 171.4,21.0 172.0,21.0 172.7,21.0 173.4,21.0 174.0,21.0 174.7,21.0 175.4,21.0 176.0,21.0 176.7,21.0 177.4,21.0 178.0,21.0 178.7,21.0 179.4,21.0 180.0,21.0 180.7,21.0 181.4,21.0 182.0,21.0 182.7,21.0 183.4,21.0 184.0,21.0 184.7,21.0 185.4,21.0 186.0,21.0 186.7,21.0 187.4,21.0 188.0,21.0 188.7,21.0 189.3,21.0 190.0,21.0 190.7,21.0 191.3,21.0 192.0,21.0 192.7,21.0 193.3,21.0 194.0,21.0 194.7,21.0 195.3,21.0 196.0,21.0" fill="none" stroke="rgb(135,135,246)" stroke-width="0.95"/>
<polyline points="25.0,73.2 25.7,73.4 26.3,73.6 27.0,73.8 27.7,74.1 28.3,74.3 29.0,74.5 29.7,74.7 30.3,74.9 31.0,75.1 31.7,75.3 32.3,75.5 33.0,75.7 33.6,75.8 34.3,76.0 35.0,76.2 35.6,76.4 36.3,76.5 37.0,76.7 37.6,76.9 38.3,77.0 39.0,77.1 39.6,77.3 40.3,77.4 41.0,77.5 41.6,77.7 42.3,77.8 43.0,77.9 43.6,78.0 44.3,78.0 45.0,78.1 45.6,78.2 46.3,78.2 47.0,78.3 47.6,78.3 48.3,78.4 49.0,78.4 49.6,78.4 50.3,78.4 50.9,78.4 51.6,78.4 52.3,78.4 52.9,78.3 53.6,78.3 54.3,78.3 54.9,78.2 55.6,78.2 56.3,78.1 56.9,78.1 57.6,78.0 58.3,78.0 58.9,77.9 59.6,77.8 60.3,77.7 60.9,77.7 61.6,77.6 62.3,77.5 62.9,77.4 63.6,77.3 64.3,77.2 64.9,77.1 65.6,77.1 66.3,77.0 66.9,76.9 67.6,76.8 68.2,76.7 68.9,76.6 69.6,76.5 70.2,76.4 70.9,76.3 71.6,76.2 72.2,76.1 72.9,76.0 73.6,75.9 74.2,75.8 74.9,75.7 75.6,75.6 76.2,75.5 76.9,75.4 77.6,75.3 78.2,75.2 78.9,75.2 79.6,75.1 80.2,75.0 80.9,74.9 81.6,74.9 82.2,74.8 82.9,74.7 83.6,74.7 84.2,74.6 84.9,74.6 85.5,74.5 86.2,74.5 86.9,74.5 87.5,74.4 88.2,74.4 88.9,74.4 89.5,74.4 90.2,74.4 90.9,74.4 91.5,74.4 92.2,74.4 92.9,74.5 93.5,74.5 94.2,74.6 94.9,74.6 95.5,74.7 96.2,74.7 96.9,74.8 97.5,74.9 98.2,75.0 98.9,75.0 99.5,75.1 100.2,75.2 100.9,75.3 101.5,75.4 102.2,75.5 102.8,75.6 103.5,75.7 104.2,75.8 104.8,75.9 105.5,76.0 106.2,76.1 106.8,76.2 107.5,76.3 108.2,76.4 108.8,76.5 109.5,76.6 110.2,76.7 110.8,76.8 111.5,76.9 112.2,77.0 112.8,77.1 113.5,77.2 114.2,77.3 114.8,77.4 115.5,77.6 116.2,77.7 116.8,77.8 117.5,78.0 118.2,78.1 118.8,78.2 119.5,78.4 120.1,78.5 120.8,78.7 121.5,78.8 122.1,78.9 122.8,79.1 123.5,79.2 124.1,79.3 124.8,79.5 125.5,79.6 126.1,79.7 126.8,79.8 127.5,79.9 128.1,80.0 128.8,80.1 129.5,80.1 130.1,80.2 130.8,80.2 131.5,80.3 132.1,80.3 132.8,80.3 133.5,80.3 134.1,80.3 134.8,80.3 135.5,80.3 136.1,80.2 136.8,80.2 137.4,80.2 138.1,80.2 138.8,80.1 139.4,80.1 140.1,80.0 140.8,80.0 141.4,79.9 142.1,79.9 142.8,79.8 143.4,79.8 144.1,79.7 144.8,79.6 145.4,79.5 146.1,79.5 146.8,79.4 147.4,79.3 148.1,79.2 148.8,79.2 149.4,79.1 150.1,79.0 150.8,78.9 151.4,78.8 152.1,78.8 152.8,78.7 153.4,78.6 154.1,78.5 154.7,78.4 155.4,78.3 156.1,78.2 156.7,78.2 157.4,78.1 158.1,78.0 158.7,77.9 159.4,77.8 160.1,77.7 160.7,77.7 161.4,77.6 162.1,77.5 162.7,77.4 163.4,77.4 164.1,77.3 164.7,77.2 165.4,77.2 166.1,77.1 166.7,77.0 167.4,77.0 168.1,76.9 168.7,76.9 169.4,76.8 170.1,76.8 170.7,76.8 171.4,76.7 172.0,76.7 172.7,76.6 173.4,76.6 174.0,76.6 174.7,76.5 175.4,76.5 176.0,76.4 176.7,76.4 177.4,76.4 178.0,76.3 178.7,76.3 179.4,76.3 180.0,76.2 180.7,76.2 181.4,76.2 182.0,76.1 182.7,76.1 183.4,76.1 184.0,76.0 184.7,76.0 185.4,76.0 186.0,76.0 186.7,75.9 187.4,75.9 188.0,75.9 188.7,75.8 189.3,75.8 190.0,75.8 190.7,75.8 191.3,75.7 192.0,75.7 192.7,75.7 193.3,75.7 194.0,75.7 194.7,75.6 195.3,75.6 196.0,75.6" fill="none" stroke="rgb(135,135,246)" stroke-width="0.95"/>
<polyline points="25.0,29.7 25.7,30.0 26.3,30.2 27.0,30.4 27.7,30.7 28.3,30.9 29.0,31.1 29.7,31.3 30.3,31.5 31.0,31.7 31.7,31.9 32.3,32.1 33.0,32.3 33.6,32.5 34.3,32.6 35.0,32.8 35.6,32.9 36.3,33.0 37.0,33.2 37.6,33.3 38.3,33.4 39.0,33.5 39.6,33.6 40.3,33.7 41.0,33.8 41.6,33.9 42.3,34.0 43.0,34.1 43.6,34.1 44.3,34.2 45.0,34.2 45.6,34.3 46.3,34.3 47.0,34.3 47.6,34.4 48.3,34.4 49.0,34.4 49.6,34.4 50.3,34.4 50.9,34.4 51.6,34.4 52.3,34.3 52.9,34.3 53.6,34.2 54.3,34.1 54.9,34.0 55.6,33.9 56.3,33.8 56.9,33.7 57.6,33.6 58.3,33.4 58.9,33.3 59.6,33.1 60.3,33.0 60.9,32.8 61.6,32.6 62.3,32.4 62.9,32.2 63.6,32.1 64.3,31.9 64.9,31.7 65.6,31.5 66.3,31.3 66.9,31.1 67.6,30.8 68.2,30.6 68.9,30.4 69.6,30.2 70.2,30.0 70.9,29.8 71.6,29.6 72.2,29.4 72.9,29.2 73.6,29.0 74.2,28.8 74.9,28.6 75.6,28.4 76.2,28.3 76.9,28.1 77.6,27.9 78.2,27.7 78.9,27.6 79.6,27.4 80.2,27.2 80.9,27.0 81.6,26.8 82.2,26.6 82.9,26.4 83.6,26.2 84.2,26.0 84.9,25.8 85.5,25.6 86.2,25.4 86.9,25.2 87.5,25.0 88.2,24.8 88.9,24.6 89.5,24.4 90.2,24.2 90.9,24.1 91.5,23.9 92.2,23.7 92.9,23.5 93.5,23.3 94.2,23.1 94.9,22.9 95.5,22.7 96.2,22.5 96.9,22.3 97.5,22.1 98.2,22.0 98.9,21.8 99.5,21.6 100.2,21.5 100.9,21.3 101.5,21.1 102.2,20.9 102.8,20.7 103.5,20.5 104.2,20.3 104.8,20.1 105.5,19.9 106.2,19.7 106.8,19.5 107.5,19.3 108.2,19.1 108.8,19.0 109.5,18.9 110.2,18.7 110.8,18.6 111.5,18.6 112.2,18.5 112.8,18.5 113.5,18.5 114.2,18.5 114.8,18.6 115.5,18.6 116.2,18.7 116.8,18.8 117.5,18.9 118.2,19.1 118.8,19.2 119.5,19.4 120.1,19.6 120.8,19.7 121.5,19.9 122.1,20.1 122.8,20.4 123.5,20.6 124.1,20.8 124.8,21.0 125.5,21.3 126.1,21.5 126.8,21.8 127.5,22.0 128.1,22.2 128.8,22.5 129.5,22.7 130.1,23.0 130.8,23.2 131.5,23.5 132.1,23.7 132.8,23.9 133.5,24.1 134.1,24.3 134.8,24.5 135.5,24.7 136.1,24.9 136.8,25.1 137.4,25.2 138.1,25.4 138.8,25.5 139.4,25.6 140.1,25.7 140.8,25.8 141.4,25.9 142.1,26.0 142.8,26.1 143.4,26.1 144.1,26.2 144.8,26.3 145.4,26.4 146.1,26.4 146.8,26.5 147.4,26.6 148.1,26.6 148.8,26.7 149.4,26.8 150.1,26.8 150.8,26.9 151.4,27.0 152.1,27.0 152.8,27.1 153.4,27.1 154.1,27.2 154.7,27.2 155.4,27.3 156.1,27.4 156.7,27.4 157.4,27.5 158.1,27.5 158.7,27.6 159.4,27.6 160.1,27.7 160.7,27.7 161.4,27.7 162.1,27.8 162.7,27.8 163.4,27.9 164.1,27.9 164.7,28.0 165.4,28.0 166.1,28.1 166.7,28.1 167.4,28.2 168.1,28.2 168.7,28.3 169.4,28.3 170.1,28.3 170.7,28.4 171.4,28.4 172.0,28.5 172.7,28.5 173.4,28.6 174.0,28.6 174.7,28.6 175.4,28.7 176.0,28.7 176.7,28.8 177.4,28.8 178.0,28.8 178.7,28.9 179.4,28.9 180.0,29.0 180.7,29.0 181.4,29.0 182.0,29.1 182.7,29.1 183.4,29.1 184.0,29.2 184.7,29.2 185.4,29.2 186.0,29.3 186.7,29.3 187.4,29.3 188.0,29.4 188.7,29.4 189.3,29.4 190.0,29.5 190.7,29.5 191.3,29.5 192.0,29.5 192.7,29.6 193.3,29.6 194.0,29.6 194.7,29.7 195.3,29.7 196.0,29.7" fill="none" stroke="rgb(247,175,135)" stroke-width="0.95"/>
<polyline points="25.0,50.9 25.7,51.2 26.3,51.6 27.0,51.9 27.7,52.3 28.3,52.6 29.0,52.9 29.7,53.3 30.3,53.6 31.0,53.9 31.7,54.3 32.3,54.6 33.0,54.9 33.6,55.2 34.3,55.5 35.0,55.8 35.6,56.1 36.3,56.4 37.0,56.6 37.6,56.9 38.3,57.2 39.0,57.4 39.6,57.6 40.3,57.9 41.0,58.1 41.6,58.3 42.3,58.5 43.0,58.7 43.6,58.8 44.3,59.0 45.0,59.1 45.6,59.2 46.3,59.3 47.0,59.4 47.6,59.5 48.3,59.5 49.0,59.6 49.6,59.6 50.3,59.6 50.9,59.6 51.6,59.6 52.3,59.6 52.9,59.5 53.6,59.5 54.3,59.5 54.9,59.5 55.6,59.4 56.3,59.4 56.9,59.3 57.6,59.3 58.3,59.2 58.9,59.2 59.6,59.1 60.3,59.1 60.9,59.0 61.6,58.9 62.3,58.9 62.9,58.8 63.6,58.7 64.3,58.6 64.9,58.6 65.6,58.5 66.3,58.4 66.9,58.3 67.6,58.2 68.2,58.2 68.9,58.1 69.6,58.0 70.2,57.9 70.9,57.8 71.6,57.8 72.2,57.7 72.9,57.6 73.6,57.5 74.2,57.4 74.9,57.4 75.6,57.3 76.2,57.2 76.9,57.1 77.6,57.1 78.2,57.0 78.9,56.9 79.6,56.9 80.2,56.8 80.9,56.7 81.6,56.7 82.2,56.6 82.9,56.6 83.6,56.5 84.2,56.5 84.9,56.4 85.5,56.4 86.2,56.4 86.9,56.4 87.5,56.3 88.2,56.3 88.9,56.3 89.5,56.3 90.2,56.3 90.9,56.3 91.5,56.3 92.2,56.3 92.9,56.3 93.5,56.4 94.2,56.4 94.9,56.4 95.5,56.5 96.2,56.5 96.9,56.5 97.5,56.6 98.2,56.6 98.9,56.7 99.5,56.7 100.2,56.8 100.9,56.9 101.5,56.9 102.2,57.0 102.8,57.1 103.5,57.1 104.2,57.2 104.8,57.3 105.5,57.3 106.2,57.4 106.8,57.5 107.5,57.6 108.2,57.7 108.8,57.7 109.5,57.8 110.2,57.9 110.8,58.0 111.5,58.1 112.2,58.2 112.8,58.3 113.5,58.4 114.2,58.6 114.8,58.8 115.5,59.0 116.2,59.2 116.8,59.4 117.5,59.6 118.2,59.8 118.8,60.1 119.5,60.3 120.1,60.6 120.8,60.8 121.5,61.0 122.1,61.3 122.8,61.5 123.5,61.8 124.1,62.0 124.8,62.2 125.5,62.4 126.1,62.6 126.8,62.8 127.5,63.0 128.1,63.2 128.8,63.3 129.5,63.5 130.1,63.6 130.8,63.7 131.5,63.7 132.1,63.8 132.8,63.8 133.5,63.8 134.1,63.8 134.8,63.7 135.5,63.7 136.1,63.6 136.8,63.5 137.4,63.4 138.1,63.3 138.8,63.2 139.4,63.1 140.1,62.9 140.8,62.7 141.4,62.6 142.1,62.4 142.8,62.2 143.4,62.0 144.1,61.8 144.8,61.6 145.4,61.4 146.1,61.1 146.8,60.9 147.4,60.7 148.1,60.4 148.8,60.2 149.4,60.0 150.1,59.7 150.8,59.5 151.4,59.2 152.1,59.0 152.8,58.7 153.4,58.5 154.1,58.2 154.7,58.0 155.4,57.7 156.1,57.5 156.7,57.3 157.4,57.0 158.1,56.8 158.7,56.6 159.4,56.4 160.1,56.2 160.7,56.0 161.4,55.8 162.1,55.6 162.7,55.5 163.4,55.3 164.1,55.2 164.7,55.0 165.4,54.9 166.1,54.8 166.7,54.7 167.4,54.6 168.1,54.5 168.7,54.3 169.4,54.2 170.1,54.1 170.7,54.0 171.4,53.9 172.0,53.8 172.7,53.7 173.4,53.6 174.0,53.5 174.7,53.4 175.4,53.3 176.0,53.2 176.7,53.1 177.4,53.0 178.0,52.9 178.7,52.8 179.4,52.7 180.0,52.6 180.7,52.5 181.4,52.4 182.0,52.3 182.7,52.2 183.4,52.1 184.0,52.0 184.7,52.0 185.4,51.9 186.0,51.8 186.7,51.7 187.4,51.6 188.0,51.6 188.7,51.5 189.3,51.4 190.0,51.4 190.7,51.3 191.3,51.3 192.0,51.2 192.7,51.1 193.3,51.1 194.0,51.0 194.7,51.0 195.3,50.9 196.0,50.9" fill="none" stroke="rgb(247,175,135)" stroke-width="0.95"/>
</g>
<line x1="25.2" y1="101.0" x2="195.9" y2="101.0" stroke="#6a6a6a" stroke-width="1.0"/>
<polyline points="25.0,47.4 25.7,47.6 26.3,47.8 27.0,48.0 27.7,48.1 28.3,48.3 29.0,48.5 29.7,48.7 30.3,48.9 31.0,49.0 31.7,49.2 32.3,49.4 33.0,49.5 33.6,49.7 34.3,49.9 35.0,50.0 35.6,50.2 36.3,50.3 37.0,50.4 37.6,50.6 38.3,50.7 39.0,50.8 39.6,51.0 40.3,51.1 41.0,51.2 41.6,51.3 42.3,51.4 43.0,51.5 43.6,51.6 44.3,51.6 45.0,51.7 45.6,51.8 46.3,51.8 47.0,51.9 47.6,51.9 48.3,51.9 49.0,52.0 49.6,52.0 50.3,52.0 50.9,52.0 51.6,52.0 52.3,52.0 52.9,52.0 53.6,51.9 54.3,51.9 54.9,51.9 55.6,51.8 56.3,51.8 56.9,51.8 57.6,51.7 58.3,51.7 58.9,51.6 59.6,51.5 60.3,51.5 60.9,51.4 61.6,51.3 62.3,51.3 62.9,51.2 63.6,51.1 64.3,51.0 64.9,50.9 65.6,50.9 66.3,50.8 66.9,50.7 67.6,50.6 68.2,50.5 68.9,50.4 69.6,50.3 70.2,50.3 70.9,50.2 71.6,50.1 72.2,50.0 72.9,49.9 73.6,49.8 74.2,49.7 74.9,49.6 75.6,49.6 76.2,49.5 76.9,49.4 77.6,49.3 78.2,49.3 78.9,49.2 79.6,49.1 80.2,49.0 80.9,49.0 81.6,48.9 82.2,48.9 82.9,48.8 83.6,48.8 84.2,48.7 84.9,48.7 85.5,48.6 86.2,48.6 86.9,48.6 87.5,48.5 88.2,48.5 88.9,48.5 89.5,48.5 90.2,48.5 90.9,48.5 91.5,48.5 92.2,48.5 92.9,48.5 93.5,48.5 94.2,48.6 94.9,48.6 95.5,48.6 96.2,48.6 96.9,48.7 97.5,48.7 98.2,48.7 98.9,48.8 99.5,48.8 100.2,48.8 100.9,48.9 101.5,48.9 102.2,49.0 102.8,49.0 103.5,49.1 104.2,49.1 104.8,49.2 105.5,49.2 106.2,49.3 106.8,49.3 107.5,49.4 108.2,49.5 108.8,49.5 109.5,49.6 110.2,49.6 110.8,49.7 111.5,49.7 112.2,49.8 112.8,49.9 113.5,50.0 114.2,50.1 114.8,50.3 115.5,50.4 116.2,50.6 116.8,50.7 117.5,50.9 118.2,51.1 118.8,51.2 119.5,51.4 120.1,51.6 120.8,51.8 121.5,52.0 122.1,52.1 122.8,52.3 123.5,52.5 124.1,52.7 124.8,52.8 125.5,53.0 126.1,53.1 126.8,53.3 127.5,53.4 128.1,53.5 128.8,53.6 129.5,53.7 130.1,53.8 130.8,53.9 131.5,53.9 132.1,54.0 132.8,54.0 133.5,54.0 134.1,54.0 134.8,54.0 135.5,53.9 136.1,53.9 136.8,53.8 137.4,53.7 138.1,53.6 138.8,53.5 139.4,53.4 140.1,53.3 140.8,53.2 141.4,53.1 142.1,53.0 142.8,52.8 143.4,52.7 144.1,52.6 144.8,52.4 145.4,52.3 146.1,52.1 146.8,52.0 147.4,51.8 148.1,51.7 148.8,51.5 149.4,51.4 150.1,51.2 150.8,51.1 151.4,50.9 152.1,50.8 152.8,50.6 153.4,50.5 154.1,50.4 154.7,50.3 155.4,50.2 156.1,50.1 156.7,50.0 157.4,49.9 158.1,49.8 158.7,49.7 159.4,49.7 160.1,49.6 160.7,49.5 161.4,49.5 162.1,49.4 162.7,49.4 163.4,49.3 164.1,49.2 164.7,49.2 165.4,49.1 166.1,49.1 166.7,49.0 167.4,49.0 168.1,48.9 168.7,48.9 169.4,48.8 170.1,48.8 170.7,48.7 171.4,48.7 172.0,48.7 172.7,48.6 173.4,48.6 174.0,48.6 174.7,48.6 175.4,48.5 176.0,48.5 176.7,48.5 177.4,48.5 178.0,48.5 178.7,48.5 179.4,48.5 180.0,48.5 180.7,48.5 181.4,48.5 182.0,48.5 182.7,48.5 183.4,48.5 184.0,48.5 184.7,48.5 185.4,48.5 186.0,48.5 186.7,48.5 187.4,48.5 188.0,48.5 188.7,48.5 189.3,48.5 190.0,48.5 190.7,48.5 191.3,48.5 192.0,48.5 192.7,48.5 193.3,48.5 194.0,48.5 194.7,48.5 195.3,48.5 196.0,48.5" fill="none" stroke="#6a2ea6" stroke-width="2.1" stroke-linejoin="round"/>
<polyline points="25.0,40.8 25.7,41.1 26.3,41.4 27.0,41.7 27.7,42.0 28.3,42.3 29.0,42.6 29.7,42.8 30.3,43.1 31.0,43.3 31.7,43.6 32.3,43.8 33.0,44.0 33.6,44.2 34.3,44.4 35.0,44.6 35.6,44.8 36.3,45.0 37.0,45.2 37.6,45.3 38.3,45.5 39.0,45.6 39.6,45.8 40.3,45.9 41.0,46.0 41.6,46.2 42.3,46.3 43.0,46.4 43.6,46.4 44.3,46.5 45.0,46.6 45.6,46.7 46.3,46.7 47.0,46.8 47.6,46.8 48.3,46.9 49.0,46.9 49.6,46.9 50.3,46.9 50.9,46.9 51.6,46.9 52.3,46.8 52.9,46.8 53.6,46.7 54.3,46.7 54.9,46.6 55.6,46.5 56.3,46.4 56.9,46.3 57.6,46.1 58.3,46.0 58.9,45.9 59.6,45.7 60.3,45.6 60.9,45.4 61.6,45.3 62.3,45.1 62.9,45.0 63.6,44.8 64.3,44.7 64.9,44.5 65.6,44.4 66.3,44.3 66.9,44.1 67.6,44.0 68.2,43.9 68.9,43.8 69.6,43.7 70.2,43.6 70.9,43.5 71.6,43.4 72.2,43.3 72.9,43.2 73.6,43.1 74.2,43.0 74.9,42.9 75.6,42.8 76.2,42.7 76.9,42.6 77.6,42.5 78.2,42.4 78.9,42.3 79.6,42.2 80.2,42.1 80.9,42.1 81.6,42.0 82.2,41.9 82.9,41.8 83.6,41.7 84.2,41.6 84.9,41.5 85.5,41.4 86.2,41.2 86.9,41.1 87.5,41.0 88.2,40.9 88.9,40.8 89.5,40.7 90.2,40.5 90.9,40.4 91.5,40.3 92.2,40.1 92.9,40.0 93.5,39.9 94.2,39.7 94.9,39.6 95.5,39.5 96.2,39.4 96.9,39.2 97.5,39.1 98.2,39.0 98.9,38.8 99.5,38.7 100.2,38.5 100.9,38.4 101.5,38.2 102.2,38.1 102.8,37.9 103.5,37.8 104.2,37.6 104.8,37.5 105.5,37.4 106.2,37.3 106.8,37.2 107.5,37.2 108.2,37.1 108.8,37.1 109.5,37.1 110.2,37.1 110.8,37.2 111.5,37.2 112.2,37.3 112.8,37.4 113.5,37.5 114.2,37.7 114.8,37.8 115.5,38.0 116.2,38.1 116.8,38.3 117.5,38.5 118.2,38.7 118.8,38.9 119.5,39.1 120.1,39.3 120.8,39.5 121.5,39.7 122.1,39.9 122.8,40.1 123.5,40.3 124.1,40.5 124.8,40.7 125.5,40.9 126.1,41.1 126.8,41.3 127.5,41.5 128.1,41.7 128.8,41.8 129.5,42.0 130.1,42.1 130.8,42.2 131.5,42.3 132.1,42.4 132.8,42.5 133.5,42.5 134.1,42.6 134.8,42.6 135.5,42.6 136.1,42.6 136.8,42.6 137.4,42.6 138.1,42.6 138.8,42.5 139.4,42.5 140.1,42.5 140.8,42.5 141.4,42.5 142.1,42.4 142.8,42.4 143.4,42.4 144.1,42.3 144.8,42.3 145.4,42.3 146.1,42.2 146.8,42.2 147.4,42.1 148.1,42.1 148.8,42.1 149.4,42.0 150.1,42.0 150.8,41.9 151.4,41.9 152.1,41.9 152.8,41.8 153.4,41.8 154.1,41.8 154.7,41.7 155.4,41.7 156.1,41.6 156.7,41.6 157.4,41.6 158.1,41.6 158.7,41.5 159.4,41.5 160.1,41.5 160.7,41.5 161.4,41.5 162.1,41.4 162.7,41.4 163.4,41.4 164.1,41.4 164.7,41.4 165.4,41.4 166.1,41.3 166.7,41.3 167.4,41.3 168.1,41.3 168.7,41.3 169.4,41.2 170.1,41.2 170.7,41.2 171.4,41.2 172.0,41.2 172.7,41.2 173.4,41.2 174.0,41.1 174.7,41.1 175.4,41.1 176.0,41.1 176.7,41.1 177.4,41.1 178.0,41.0 178.7,41.0 179.4,41.0 180.0,41.0 180.7,41.0 181.4,41.0 182.0,41.0 182.7,41.0 183.4,40.9 184.0,40.9 184.7,40.9 185.4,40.9 186.0,40.9 186.7,40.9 187.4,40.9 188.0,40.9 188.7,40.9 189.3,40.9 190.0,40.8 190.7,40.8 191.3,40.8 192.0,40.8 192.7,40.8 193.3,40.8 194.0,40.8 194.7,40.8 195.3,40.8 196.0,40.8" fill="none" stroke="#f7892e" stroke-width="2.1" stroke-linejoin="round"/>
<rect x="25.2" y="12.0" width="170.70000000000002" height="95.3" fill="none" stroke="#a4a4a4" stroke-width="1.1"/>
<line x1="22.7" y1="101.00" x2="25.2" y2="101.00" stroke="#555" stroke-width="0.6"/>
<text x="21.599999999999998" y="102.75" font-size="4.9" text-anchor="end" font-weight="normal" fill="#333" stroke="#333" stroke-width="0.15" >0</text>
<line x1="22.7" y1="88.83" x2="25.2" y2="88.83" stroke="#555" stroke-width="0.6"/>
<text x="21.599999999999998" y="90.578" font-size="4.9" text-anchor="end" font-weight="normal" fill="#333" stroke="#333" stroke-width="0.15" >2</text>
<line x1="22.7" y1="76.66" x2="25.2" y2="76.66" stroke="#555" stroke-width="0.6"/>
<text x="21.599999999999998" y="78.406" font-size="4.9" text-anchor="end" font-weight="normal" fill="#333" stroke="#333" stroke-width="0.15" >4</text>
<line x1="22.7" y1="64.48" x2="25.2" y2="64.48" stroke="#555" stroke-width="0.6"/>
<text x="21.599999999999998" y="66.234" font-size="4.9" text-anchor="end" font-weight="normal" fill="#333" stroke="#333" stroke-width="0.15" >6</text>
<line x1="22.7" y1="52.31" x2="25.2" y2="52.31" stroke="#555" stroke-width="0.6"/>
<text x="21.599999999999998" y="54.062" font-size="4.9" text-anchor="end" font-weight="normal" fill="#333" stroke="#333" stroke-width="0.15" >8</text>
<line x1="22.7" y1="40.14" x2="25.2" y2="40.14" stroke="#555" stroke-width="0.6"/>
<text x="21.599999999999998" y="41.89" font-size="4.9" text-anchor="end" font-weight="normal" fill="#333" stroke="#333" stroke-width="0.15" >10</text>
<line x1="22.7" y1="27.97" x2="25.2" y2="27.97" stroke="#555" stroke-width="0.6"/>
<text x="21.599999999999998" y="29.71799999999999" font-size="4.9" text-anchor="end" font-weight="normal" fill="#333" stroke="#333" stroke-width="0.15" >12</text>
<line x1="22.7" y1="15.80" x2="25.2" y2="15.80" stroke="#555" stroke-width="0.6"/>
<text x="21.599999999999998" y="17.545999999999992" font-size="4.9" text-anchor="end" font-weight="normal" fill="#333" stroke="#333" stroke-width="0.15" >14</text>
<line x1="25.20" y1="107.3" x2="25.20" y2="109.5" stroke="#555" stroke-width="0.6"/>
<text x="25.2" y="114.7" font-size="4.9" text-anchor="middle" font-weight="normal" fill="#333" stroke="#333" stroke-width="0.15" >0</text>
<line x1="59.34" y1="107.3" x2="59.34" y2="109.5" stroke="#555" stroke-width="0.6"/>
<text x="59.34" y="114.7" font-size="4.9" text-anchor="middle" font-weight="normal" fill="#333" stroke="#333" stroke-width="0.15" >20</text>
<line x1="93.48" y1="107.3" x2="93.48" y2="109.5" stroke="#555" stroke-width="0.6"/>
<text x="93.48000000000002" y="114.7" font-size="4.9" text-anchor="middle" font-weight="normal" fill="#333" stroke="#333" stroke-width="0.15" >40</text>
<line x1="127.62" y1="107.3" x2="127.62" y2="109.5" stroke="#555" stroke-width="0.6"/>
<text x="127.62000000000002" y="114.7" font-size="4.9" text-anchor="middle" font-weight="normal" fill="#333" stroke="#333" stroke-width="0.15" >60</text>
<line x1="161.76" y1="107.3" x2="161.76" y2="109.5" stroke="#555" stroke-width="0.6"/>
<text x="161.76000000000002" y="114.7" font-size="4.9" text-anchor="middle" font-weight="normal" fill="#333" stroke="#333" stroke-width="0.15" >80</text>
<line x1="195.90" y1="107.3" x2="195.90" y2="109.5" stroke="#555" stroke-width="0.6"/>
<text x="195.89999999999998" y="114.7" font-size="4.9" text-anchor="middle" font-weight="normal" fill="#333" stroke="#333" stroke-width="0.15" >100</text>
<text x="112.9" y="127.0" font-size="10.3" text-anchor="middle" font-weight="normal" fill="#1a1a1a" stroke="#1a1a1a" stroke-width="0.35" textLength="62.6" lengthAdjust="spacingAndGlyphs">Gait Cycle (%)</text>
<text x="8.7" y="9.200000000000001" font-size="7.6" text-anchor="start" font-weight="bold" fill="#1a1a1a" textLength="9.3" lengthAdjust="spacingAndGlyphs">(A)</text>
<text transform="translate(11.0,59.5) rotate(-90)" font-size="10.2" text-anchor="middle" fill="#1a1a1a" stroke="#1a1a1a" stroke-width="0.3" textLength="31.5" lengthAdjust="spacingAndGlyphs"><tspan font-style="italic" font-family="Liberation Serif">θ</tspan> (deg)</text>
<clipPath id="clp2"><polygon points="25.0,151.5 25.7,151.8 26.3,152.0 27.0,152.3 27.7,152.5 28.3,152.7 29.0,153.0 29.7,153.2 30.3,153.4 31.0,153.6 31.7,153.8 32.3,154.0 33.0,154.2 33.6,154.4 34.3,154.5 35.0,154.7 35.6,154.9 36.3,155.0 37.0,155.1 37.6,155.3 38.3,155.4 39.0,155.5 39.6,155.7 40.3,155.8 41.0,155.9 41.6,156.0 42.3,156.1 43.0,156.1 43.6,156.2 44.3,156.3 45.0,156.4 45.6,156.4 46.3,156.5 47.0,156.5 47.6,156.5 48.3,156.6 49.0,156.6 49.6,156.6 50.3,156.6 50.9,156.6 51.6,156.6 52.3,156.5 52.9,156.5 53.6,156.4 54.3,156.3 54.9,156.2 55.6,156.1 56.3,156.0 56.9,155.8 57.6,155.7 58.3,155.5 58.9,155.4 59.6,155.2 60.3,155.0 60.9,154.8 61.6,154.6 62.3,154.4 62.9,154.2 63.6,154.0 64.3,153.8 64.9,153.6 65.6,153.5 66.3,153.3 66.9,153.1 67.6,152.9 68.2,152.7 68.9,152.6 69.6,152.4 70.2,152.2 70.9,152.1 71.6,152.0 72.2,151.9 72.9,151.8 73.6,151.7 74.2,151.6 74.9,151.6 75.6,151.5 76.2,151.5 76.9,151.5 77.6,151.5 78.2,151.5 78.9,151.5 79.6,151.5 80.2,151.5 80.9,151.5 81.6,151.5 82.2,151.5 82.9,151.5 83.6,151.5 84.2,151.5 84.9,151.5 85.5,151.5 86.2,151.5 86.9,151.5 87.5,151.5 88.2,151.5 88.9,151.5 89.5,151.5 90.2,151.5 90.9,151.5 91.5,151.5 92.2,151.5 92.9,151.5 93.5,151.5 94.2,151.5 94.9,151.5 95.5,151.5 96.2,151.5 96.9,151.5 97.5,151.5 98.2,151.5 98.9,151.5 99.5,151.5 100.2,151.5 100.9,151.5 101.5,151.5 102.2,151.5 102.8,151.5 103.5,151.5 104.2,151.6 104.8,151.7 105.5,151.7 106.2,151.8 106.8,152.0 107.5,152.1 108.2,152.2 108.8,152.4 109.5,152.5 110.2,152.7 110.8,152.9 111.5,153.1 112.2,153.3 112.8,153.5 113.5,153.7 114.2,153.9 114.8,154.1 115.5,154.3 116.2,154.5 116.8,154.8 117.5,155.0 118.2,155.2 118.8,155.4 119.5,155.7 120.1,155.9 120.8,156.1 121.5,156.3 122.1,156.5 122.8,156.7 123.5,156.9 124.1,157.1 124.8,157.3 125.5,157.5 126.1,157.6 126.8,157.8 127.5,157.9 128.1,158.0 128.8,158.1 129.5,158.2 130.1,158.3 130.8,158.4 131.5,158.4 132.1,158.5 132.8,158.5 133.5,158.5 134.1,158.5 134.8,158.4 135.5,158.3 136.1,158.3 136.8,158.2 137.4,158.0 138.1,157.9 138.8,157.7 139.4,157.6 140.1,157.4 140.8,157.2 141.4,157.0 142.1,156.8 142.8,156.5 143.4,156.3 144.1,156.1 144.8,155.8 145.4,155.6 146.1,155.3 146.8,155.1 147.4,154.8 148.1,154.6 148.8,154.3 149.4,154.1 150.1,153.9 150.8,153.6 151.4,153.4 152.1,153.2 152.8,153.0 153.4,152.8 154.1,152.6 154.7,152.4 155.4,152.2 156.1,152.1 156.7,151.9 157.4,151.8 158.1,151.7 158.7,151.6 159.4,151.6 160.1,151.5 160.7,151.5 161.4,151.5 162.1,151.5 162.7,151.5 163.4,151.5 164.1,151.5 164.7,151.5 165.4,151.5 166.1,151.5 166.7,151.5 167.4,151.5 168.1,151.5 168.7,151.5 169.4,151.5 170.1,151.5 170.7,151.5 171.4,151.5 172.0,151.5 172.7,151.5 173.4,151.5 174.0,151.5 174.7,151.5 175.4,151.5 176.0,151.5 176.7,151.5 177.4,151.5 178.0,151.5 178.7,151.5 179.4,151.5 180.0,151.5 180.7,151.5 181.4,151.5 182.0,151.5 182.7,151.5 183.4,151.5 184.0,151.5 184.7,151.5 185.4,151.5 186.0,151.5 186.7,151.5 187.4,151.5 188.0,151.5 188.7,151.5 189.3,151.5 190.0,151.5 190.7,151.5 191.3,151.5 192.0,151.5 192.7,151.5 193.3,151.5 194.0,151.5 194.7,151.5 195.3,151.5 196.0,151.5 196.0,208.0 195.3,208.0 194.7,208.1 194.0,208.1 193.3,208.1 192.7,208.2 192.0,208.2 191.3,208.3 190.7,208.3 190.0,208.3 189.3,208.4 188.7,208.4 188.0,208.4 187.4,208.5 186.7,208.5 186.0,208.6 185.4,208.6 184.7,208.6 184.0,208.7 183.4,208.7 182.7,208.8 182.0,208.8 181.4,208.8 180.7,208.9 180.0,208.9 179.4,209.0 178.7,209.0 178.0,209.0 177.4,209.1 176.7,209.1 176.0,209.2 175.4,209.2 174.7,209.2 174.0,209.3 173.4,209.3 172.7,209.4 172.0,209.4 171.4,209.5 170.7,209.5 170.1,209.5 169.4,209.6 168.7,209.6 168.1,209.7 167.4,209.7 166.7,209.8 166.1,209.8 165.4,209.8 164.7,209.9 164.1,209.9 163.4,210.0 162.7,210.0 162.1,210.1 161.4,210.2 160.7,210.2 160.1,210.3 159.4,210.3 158.7,210.4 158.1,210.4 157.4,210.5 156.7,210.6 156.1,210.6 155.4,210.7 154.7,210.8 154.1,210.8 153.4,210.9 152.8,211.0 152.1,211.0 151.4,211.1 150.8,211.2 150.1,211.2 149.4,211.3 148.8,211.3 148.1,211.4 147.4,211.5 146.8,211.5 146.1,211.6 145.4,211.6 144.8,211.7 144.1,211.7 143.4,211.8 142.8,211.8 142.1,211.9 141.4,211.9 140.8,212.0 140.1,212.0 139.4,212.0 138.8,212.1 138.1,212.1 137.4,212.1 136.8,212.1 136.1,212.2 135.5,212.2 134.8,212.2 134.1,212.2 133.5,212.2 132.8,212.2 132.1,212.2 131.5,212.2 130.8,212.1 130.1,212.0 129.5,212.0 128.8,211.9 128.1,211.8 127.5,211.7 126.8,211.6 126.1,211.4 125.5,211.3 124.8,211.2 124.1,211.1 123.5,210.9 122.8,210.8 122.1,210.7 121.5,210.6 120.8,210.4 120.1,210.3 119.5,210.2 118.8,210.1 118.2,210.0 117.5,209.9 116.8,209.7 116.2,209.6 115.5,209.5 114.8,209.3 114.2,209.2 113.5,209.1 112.8,208.9 112.2,208.8 111.5,208.7 110.8,208.5 110.2,208.4 109.5,208.2 108.8,208.1 108.2,208.0 107.5,207.8 106.8,207.7 106.2,207.6 105.5,207.5 104.8,207.4 104.2,207.3 103.5,207.2 102.8,207.1 102.2,207.0 101.5,206.9 100.9,206.9 100.2,206.8 99.5,206.8 98.9,206.7 98.2,206.7 97.5,206.6 96.9,206.6 96.2,206.5 95.5,206.5 94.9,206.4 94.2,206.4 93.5,206.3 92.9,206.3 92.2,206.3 91.5,206.2 90.9,206.2 90.2,206.2 89.5,206.1 88.9,206.1 88.2,206.1 87.5,206.1 86.9,206.0 86.2,206.0 85.5,206.0 84.9,206.0 84.2,206.0 83.6,206.0 82.9,206.0 82.2,206.0 81.6,206.0 80.9,206.1 80.2,206.1 79.6,206.2 78.9,206.3 78.2,206.3 77.6,206.4 76.9,206.5 76.2,206.6 75.6,206.7 74.9,206.8 74.2,206.9 73.6,207.0 72.9,207.2 72.2,207.3 71.6,207.4 70.9,207.6 70.2,207.7 69.6,207.9 68.9,208.0 68.2,208.1 67.6,208.3 66.9,208.4 66.3,208.6 65.6,208.7 64.9,208.9 64.3,209.0 63.6,209.1 62.9,209.3 62.3,209.4 61.6,209.5 60.9,209.7 60.3,209.8 59.6,209.9 58.9,210.0 58.3,210.1 57.6,210.2 56.9,210.3 56.3,210.4 55.6,210.5 54.9,210.6 54.3,210.6 53.6,210.7 52.9,210.7 52.3,210.8 51.6,210.8 50.9,210.8 50.3,210.8 49.6,210.8 49.0,210.8 48.3,210.7 47.6,210.7 47.0,210.6 46.3,210.6 45.6,210.5 45.0,210.4 44.3,210.3 43.6,210.2 43.0,210.1 42.3,210.0 41.6,209.9 41.0,209.7 40.3,209.6 39.6,209.4 39.0,209.3 38.3,209.1 37.6,208.9 37.0,208.7 36.3,208.5 35.6,208.3 35.0,208.1 34.3,207.9 33.6,207.7 33.0,207.5 32.3,207.2 31.7,207.0 31.0,206.8 30.3,206.5 29.7,206.3 29.0,206.0 28.3,205.8 27.7,205.5 27.0,205.2 26.3,205.0 25.7,204.7 25.0,204.4"/></clipPath>
<g opacity="0.65">
<polygon points="25.0,151.5 25.7,151.8 26.3,152.0 27.0,152.3 27.7,152.5 28.3,152.7 29.0,153.0 29.7,153.2 30.3,153.4 31.0,153.6 31.7,153.8 32.3,154.0 33.0,154.2 33.6,154.4 34.3,154.5 35.0,154.7 35.6,154.9 36.3,155.0 37.0,155.1 37.6,155.3 38.3,155.4 39.0,155.5 39.6,155.7 40.3,155.8 41.0,155.9 41.6,156.0 42.3,156.1 43.0,156.1 43.6,156.2 44.3,156.3 45.0,156.4 45.6,156.4 46.3,156.5 47.0,156.5 47.6,156.5 48.3,156.6 49.0,156.6 49.6,156.6 50.3,156.6 50.9,156.6 51.6,156.6 52.3,156.5 52.9,156.5 53.6,156.4 54.3,156.3 54.9,156.2 55.6,156.1 56.3,156.0 56.9,155.8 57.6,155.7 58.3,155.5 58.9,155.4 59.6,155.2 60.3,155.0 60.9,154.8 61.6,154.6 62.3,154.4 62.9,154.2 63.6,154.0 64.3,153.8 64.9,153.6 65.6,153.5 66.3,153.3 66.9,153.1 67.6,152.9 68.2,152.7 68.9,152.6 69.6,152.4 70.2,152.2 70.9,152.1 71.6,152.0 72.2,151.9 72.9,151.8 73.6,151.7 74.2,151.6 74.9,151.6 75.6,151.5 76.2,151.5 76.9,151.5 77.6,151.5 78.2,151.5 78.9,151.5 79.6,151.5 80.2,151.5 80.9,151.5 81.6,151.5 82.2,151.5 82.9,151.5 83.6,151.5 84.2,151.5 84.9,151.5 85.5,151.5 86.2,151.5 86.9,151.5 87.5,151.5 88.2,151.5 88.9,151.5 89.5,151.5 90.2,151.5 90.9,151.5 91.5,151.5 92.2,151.5 92.9,151.5 93.5,151.5 94.2,151.5 94.9,151.5 95.5,151.5 96.2,151.5 96.9,151.5 97.5,151.5 98.2,151.5 98.9,151.5 99.5,151.5 100.2,151.5 100.9,151.5 101.5,151.5 102.2,151.5 102.8,151.5 103.5,151.5 104.2,151.6 104.8,151.7 105.5,151.7 106.2,151.8 106.8,152.0 107.5,152.1 108.2,152.2 108.8,152.4 109.5,152.5 110.2,152.7 110.8,152.9 111.5,153.1 112.2,153.3 112.8,153.5 113.5,153.7 114.2,153.9 114.8,154.1 115.5,154.3 116.2,154.5 116.8,154.8 117.5,155.0 118.2,155.2 118.8,155.4 119.5,155.7 120.1,155.9 120.8,156.1 121.5,156.3 122.1,156.5 122.8,156.7 123.5,156.9 124.1,157.1 124.8,157.3 125.5,157.5 126.1,157.6 126.8,157.8 127.5,157.9 128.1,158.0 128.8,158.1 129.5,158.2 130.1,158.3 130.8,158.4 131.5,158.4 132.1,158.5 132.8,158.5 133.5,158.5 134.1,158.5 134.8,158.4 135.5,158.3 136.1,158.3 136.8,158.2 137.4,158.0 138.1,157.9 138.8,157.7 139.4,157.6 140.1,157.4 140.8,157.2 141.4,157.0 142.1,156.8 142.8,156.5 143.4,156.3 144.1,156.1 144.8,155.8 145.4,155.6 146.1,155.3 146.8,155.1 147.4,154.8 148.1,154.6 148.8,154.3 149.4,154.1 150.1,153.9 150.8,153.6 151.4,153.4 152.1,153.2 152.8,153.0 153.4,152.8 154.1,152.6 154.7,152.4 155.4,152.2 156.1,152.1 156.7,151.9 157.4,151.8 158.1,151.7 158.7,151.6 159.4,151.6 160.1,151.5 160.7,151.5 161.4,151.5 162.1,151.5 162.7,151.5 163.4,151.5 164.1,151.5 164.7,151.5 165.4,151.5 166.1,151.5 166.7,151.5 167.4,151.5 168.1,151.5 168.7,151.5 169.4,151.5 170.1,151.5 170.7,151.5 171.4,151.5 172.0,151.5 172.7,151.5 173.4,151.5 174.0,151.5 174.7,151.5 175.4,151.5 176.0,151.5 176.7,151.5 177.4,151.5 178.0,151.5 178.7,151.5 179.4,151.5 180.0,151.5 180.7,151.5 181.4,151.5 182.0,151.5 182.7,151.5 183.4,151.5 184.0,151.5 184.7,151.5 185.4,151.5 186.0,151.5 186.7,151.5 187.4,151.5 188.0,151.5 188.7,151.5 189.3,151.5 190.0,151.5 190.7,151.5 191.3,151.5 192.0,151.5 192.7,151.5 193.3,151.5 194.0,151.5 194.7,151.5 195.3,151.5 196.0,151.5 196.0,208.0 195.3,208.0 194.7,208.1 194.0,208.1 193.3,208.1 192.7,208.2 192.0,208.2 191.3,208.3 190.7,208.3 190.0,208.3 189.3,208.4 188.7,208.4 188.0,208.4 187.4,208.5 186.7,208.5 186.0,208.6 185.4,208.6 184.7,208.6 184.0,208.7 183.4,208.7 182.7,208.8 182.0,208.8 181.4,208.8 180.7,208.9 180.0,208.9 179.4,209.0 178.7,209.0 178.0,209.0 177.4,209.1 176.7,209.1 176.0,209.2 175.4,209.2 174.7,209.2 174.0,209.3 173.4,209.3 172.7,209.4 172.0,209.4 171.4,209.5 170.7,209.5 170.1,209.5 169.4,209.6 168.7,209.6 168.1,209.7 167.4,209.7 166.7,209.8 166.1,209.8 165.4,209.8 164.7,209.9 164.1,209.9 163.4,210.0 162.7,210.0 162.1,210.1 161.4,210.2 160.7,210.2 160.1,210.3 159.4,210.3 158.7,210.4 158.1,210.4 157.4,210.5 156.7,210.6 156.1,210.6 155.4,210.7 154.7,210.8 154.1,210.8 153.4,210.9 152.8,211.0 152.1,211.0 151.4,211.1 150.8,211.2 150.1,211.2 149.4,211.3 148.8,211.3 148.1,211.4 147.4,211.5 146.8,211.5 146.1,211.6 145.4,211.6 144.8,211.7 144.1,211.7 143.4,211.8 142.8,211.8 142.1,211.9 141.4,211.9 140.8,212.0 140.1,212.0 139.4,212.0 138.8,212.1 138.1,212.1 137.4,212.1 136.8,212.1 136.1,212.2 135.5,212.2 134.8,212.2 134.1,212.2 133.5,212.2 132.8,212.2 132.1,212.2 131.5,212.2 130.8,212.1 130.1,212.0 129.5,212.0 128.8,211.9 128.1,211.8 127.5,211.7 126.8,211.6 126.1,211.4 125.5,211.3 124.8,211.2 124.1,211.1 123.5,210.9 122.8,210.8 122.1,210.7 121.5,210.6 120.8,210.4 120.1,210.3 119.5,210.2 118.8,210.1 118.2,210.0 117.5,209.9 116.8,209.7 116.2,209.6 115.5,209.5 114.8,209.3 114.2,209.2 113.5,209.1 112.8,208.9 112.2,208.8 111.5,208.7 110.8,208.5 110.2,208.4 109.5,208.2 108.8,208.1 108.2,208.0 107.5,207.8 106.8,207.7 106.2,207.6 105.5,207.5 104.8,207.4 104.2,207.3 103.5,207.2 102.8,207.1 102.2,207.0 101.5,206.9 100.9,206.9 100.2,206.8 99.5,206.8 98.9,206.7 98.2,206.7 97.5,206.6 96.9,206.6 96.2,206.5 95.5,206.5 94.9,206.4 94.2,206.4 93.5,206.3 92.9,206.3 92.2,206.3 91.5,206.2 90.9,206.2 90.2,206.2 89.5,206.1 88.9,206.1 88.2,206.1 87.5,206.1 86.9,206.0 86.2,206.0 85.5,206.0 84.9,206.0 84.2,206.0 83.6,206.0 82.9,206.0 82.2,206.0 81.6,206.0 80.9,206.1 80.2,206.1 79.6,206.2 78.9,206.3 78.2,206.3 77.6,206.4 76.9,206.5 76.2,206.6 75.6,206.7 74.9,206.8 74.2,206.9 73.6,207.0 72.9,207.2 72.2,207.3 71.6,207.4 70.9,207.6 70.2,207.7 69.6,207.9 68.9,208.0 68.2,208.1 67.6,208.3 66.9,208.4 66.3,208.6 65.6,208.7 64.9,208.9 64.3,209.0 63.6,209.1 62.9,209.3 62.3,209.4 61.6,209.5 60.9,209.7 60.3,209.8 59.6,209.9 58.9,210.0 58.3,210.1 57.6,210.2 56.9,210.3 56.3,210.4 55.6,210.5 54.9,210.6 54.3,210.6 53.6,210.7 52.9,210.7 52.3,210.8 51.6,210.8 50.9,210.8 50.3,210.8 49.6,210.8 49.0,210.8 48.3,210.7 47.6,210.7 47.0,210.6 46.3,210.6 45.6,210.5 45.0,210.4 44.3,210.3 43.6,210.2 43.0,210.1 42.3,210.0 41.6,209.9 41.0,209.7 40.3,209.6 39.6,209.4 39.0,209.3 38.3,209.1 37.6,208.9 37.0,208.7 36.3,208.5 35.6,208.3 35.0,208.1 34.3,207.9 33.6,207.7 33.0,207.5 32.3,207.2 31.7,207.0 31.0,206.8 30.3,206.5 29.7,206.3 29.0,206.0 28.3,205.8 27.7,205.5 27.0,205.2 26.3,205.0 25.7,204.7 25.0,204.4" fill="rgb(195,195,249)"/>
<polygon points="25.0,150.3 25.7,150.4 26.3,150.4 27.0,150.5 27.7,150.6 28.3,150.6 29.0,150.7 29.7,150.8 30.3,150.8 31.0,150.9 31.7,150.9 32.3,151.0 33.0,151.0 33.6,151.1 34.3,151.1 35.0,151.2 35.6,151.2 36.3,151.3 37.0,151.3 37.6,151.3 38.3,151.3 39.0,151.4 39.6,151.4 40.3,151.4 41.0,151.4 41.6,151.5 42.3,151.5 43.0,151.5 43.6,151.5 44.3,151.5 45.0,151.5 45.6,151.5 46.3,151.5 47.0,151.5 47.6,151.5 48.3,151.4 49.0,151.4 49.6,151.4 50.3,151.4 50.9,151.3 51.6,151.3 52.3,151.2 52.9,151.2 53.6,151.2 54.3,151.1 54.9,151.1 55.6,151.0 56.3,151.0 56.9,150.9 57.6,150.9 58.3,150.8 58.9,150.8 59.6,150.7 60.3,150.7 60.9,150.6 61.6,150.6 62.3,150.5 62.9,150.5 63.6,150.5 64.3,150.4 64.9,150.4 65.6,150.4 66.3,150.4 66.9,150.3 67.6,150.3 68.2,150.3 68.9,150.3 69.6,150.3 70.2,150.3 70.9,150.4 71.6,150.5 72.2,150.6 72.9,150.8 73.6,151.0 74.2,151.2 74.9,151.4 75.6,151.7 76.2,152.0 76.9,152.3 77.6,152.6 78.2,152.9 78.9,153.2 79.6,153.6 80.2,153.9 80.9,154.3 81.6,154.7 82.2,155.0 82.9,155.4 83.6,155.7 84.2,156.1 84.9,156.5 85.5,156.8 86.2,157.1 86.9,157.5 87.5,157.8 88.2,158.1 88.9,158.3 89.5,158.6 90.2,158.8 90.9,159.0 91.5,159.2 92.2,159.3 92.9,159.5 93.5,159.6 94.2,159.8 94.9,159.9 95.5,160.0 96.2,160.1 96.9,160.2 97.5,160.4 98.2,160.5 98.9,160.6 99.5,160.7 100.2,160.8 100.9,160.9 101.5,161.0 102.2,161.1 102.8,161.1 103.5,161.2 104.2,161.3 104.8,161.4 105.5,161.5 106.2,161.6 106.8,161.7 107.5,161.7 108.2,161.8 108.8,161.9 109.5,162.0 110.2,162.1 110.8,162.2 111.5,162.2 112.2,162.3 112.8,162.4 113.5,162.5 114.2,162.6 114.8,162.7 115.5,162.7 116.2,162.8 116.8,162.9 117.5,163.0 118.2,163.1 118.8,163.2 119.5,163.3 120.1,163.4 120.8,163.5 121.5,163.7 122.1,163.8 122.8,163.9 123.5,164.1 124.1,164.2 124.8,164.4 125.5,164.5 126.1,164.7 126.8,164.8 127.5,165.0 128.1,165.1 128.8,165.2 129.5,165.3 130.1,165.4 130.8,165.5 131.5,165.5 132.1,165.6 132.8,165.6 133.5,165.6 134.1,165.6 134.8,165.6 135.5,165.6 136.1,165.5 136.8,165.5 137.4,165.5 138.1,165.4 138.8,165.4 139.4,165.3 140.1,165.3 140.8,165.2 141.4,165.1 142.1,165.1 142.8,165.0 143.4,164.9 144.1,164.8 144.8,164.7 145.4,164.6 146.1,164.5 146.8,164.5 147.4,164.4 148.1,164.3 148.8,164.2 149.4,164.0 150.1,163.9 150.8,163.8 151.4,163.7 152.1,163.6 152.8,163.5 153.4,163.4 154.1,163.3 154.7,163.2 155.4,163.1 156.1,162.9 156.7,162.8 157.4,162.7 158.1,162.6 158.7,162.5 159.4,162.4 160.1,162.3 160.7,162.2 161.4,162.1 162.1,162.0 162.7,161.9 163.4,161.8 164.1,161.7 164.7,161.6 165.4,161.5 166.1,161.4 166.7,161.3 167.4,161.2 168.1,161.1 168.7,161.0 169.4,161.0 170.1,160.9 170.7,160.8 171.4,160.7 172.0,160.6 172.7,160.5 173.4,160.4 174.0,160.3 174.7,160.3 175.4,160.2 176.0,160.1 176.7,160.0 177.4,159.9 178.0,159.8 178.7,159.7 179.4,159.6 180.0,159.6 180.7,159.5 181.4,159.4 182.0,159.3 182.7,159.2 183.4,159.1 184.0,159.0 184.7,158.9 185.4,158.8 186.0,158.8 186.7,158.7 187.4,158.6 188.0,158.5 188.7,158.4 189.3,158.3 190.0,158.2 190.7,158.1 191.3,158.0 192.0,157.9 192.7,157.9 193.3,157.8 194.0,157.7 194.7,157.6 195.3,157.5 196.0,157.4 196.0,186.8 195.3,186.7 194.7,186.6 194.0,186.5 193.3,186.4 192.7,186.3 192.0,186.2 191.3,186.1 190.7,186.1 190.0,186.0 189.3,185.9 188.7,185.8 188.0,185.8 187.4,185.7 186.7,185.6 186.0,185.6 185.4,185.5 184.7,185.5 184.0,185.4 183.4,185.4 182.7,185.3 182.0,185.3 181.4,185.3 180.7,185.2 180.0,185.2 179.4,185.2 178.7,185.1 178.0,185.1 177.4,185.1 176.7,185.1 176.0,185.0 175.4,185.0 174.7,185.0 174.0,185.0 173.4,185.0 172.7,185.0 172.0,184.9 171.4,184.9 170.7,184.9 170.1,184.9 169.4,184.9 168.7,184.9 168.1,184.9 167.4,184.9 166.7,184.9 166.1,184.9 165.4,184.9 164.7,184.9 164.1,184.9 163.4,185.0 162.7,185.0 162.1,185.1 161.4,185.1 160.7,185.2 160.1,185.3 159.4,185.4 158.7,185.5 158.1,185.6 157.4,185.7 156.7,185.8 156.1,185.9 155.4,186.0 154.7,186.2 154.1,186.3 153.4,186.4 152.8,186.6 152.1,186.7 151.4,186.8 150.8,187.0 150.1,187.1 149.4,187.3 148.8,187.4 148.1,187.5 147.4,187.7 146.8,187.8 146.1,188.0 145.4,188.1 144.8,188.2 144.1,188.4 143.4,188.5 142.8,188.6 142.1,188.7 141.4,188.8 140.8,188.9 140.1,189.0 139.4,189.1 138.8,189.2 138.1,189.3 137.4,189.4 136.8,189.4 136.1,189.5 135.5,189.5 134.8,189.6 134.1,189.6 133.5,189.6 132.8,189.6 132.1,189.6 131.5,189.5 130.8,189.4 130.1,189.2 129.5,189.0 128.8,188.8 128.1,188.6 127.5,188.3 126.8,188.1 126.1,187.8 125.5,187.5 124.8,187.3 124.1,187.0 123.5,186.7 122.8,186.5 122.1,186.2 121.5,186.0 120.8,185.8 120.1,185.6 119.5,185.5 118.8,185.3 118.2,185.2 117.5,185.0 116.8,184.9 116.2,184.7 115.5,184.6 114.8,184.4 114.2,184.3 113.5,184.1 112.8,184.0 112.2,183.9 111.5,183.7 110.8,183.6 110.2,183.5 109.5,183.3 108.8,183.2 108.2,183.1 107.5,183.0 106.8,182.9 106.2,182.8 105.5,182.7 104.8,182.6 104.2,182.5 103.5,182.4 102.8,182.4 102.2,182.3 101.5,182.3 100.9,182.2 100.2,182.2 99.5,182.2 98.9,182.2 98.2,182.2 97.5,182.2 96.9,182.3 96.2,182.3 95.5,182.4 94.9,182.5 94.2,182.6 93.5,182.7 92.9,182.8 92.2,183.0 91.5,183.1 90.9,183.3 90.2,183.4 89.5,183.6 88.9,183.8 88.2,183.9 87.5,184.1 86.9,184.3 86.2,184.5 85.5,184.7 84.9,184.9 84.2,185.2 83.6,185.4 82.9,185.6 82.2,185.8 81.6,186.0 80.9,186.2 80.2,186.4 79.6,186.7 78.9,186.9 78.2,187.1 77.6,187.3 76.9,187.5 76.2,187.7 75.6,187.8 74.9,188.0 74.2,188.2 73.6,188.4 72.9,188.6 72.2,188.8 71.6,189.1 70.9,189.3 70.2,189.5 69.6,189.8 68.9,190.0 68.2,190.3 67.6,190.6 66.9,190.8 66.3,191.1 65.6,191.4 64.9,191.6 64.3,191.9 63.6,192.2 62.9,192.4 62.3,192.7 61.6,192.9 60.9,193.2 60.3,193.4 59.6,193.7 58.9,193.9 58.3,194.1 57.6,194.3 56.9,194.5 56.3,194.7 55.6,194.9 54.9,195.0 54.3,195.2 53.6,195.3 52.9,195.4 52.3,195.5 51.6,195.6 50.9,195.6 50.3,195.7 49.6,195.7 49.0,195.7 48.3,195.7 47.6,195.7 47.0,195.6 46.3,195.6 45.6,195.5 45.0,195.4 44.3,195.4 43.6,195.3 43.0,195.1 42.3,195.0 41.6,194.9 41.0,194.8 40.3,194.6 39.6,194.4 39.0,194.3 38.3,194.1 37.6,193.9 37.0,193.7 36.3,193.4 35.6,193.2 35.0,193.0 34.3,192.7 33.6,192.4 33.0,192.2 32.3,191.9 31.7,191.6 31.0,191.3 30.3,190.9 29.7,190.6 29.0,190.3 28.3,189.9 27.7,189.6 27.0,189.2 26.3,188.8 25.7,188.4 25.0,188.0" fill="rgb(250,227,210)"/>
<polygon points="25.0,150.3 25.7,150.4 26.3,150.4 27.0,150.5 27.7,150.6 28.3,150.6 29.0,150.7 29.7,150.8 30.3,150.8 31.0,150.9 31.7,150.9 32.3,151.0 33.0,151.0 33.6,151.1 34.3,151.1 35.0,151.2 35.6,151.2 36.3,151.3 37.0,151.3 37.6,151.3 38.3,151.3 39.0,151.4 39.6,151.4 40.3,151.4 41.0,151.4 41.6,151.5 42.3,151.5 43.0,151.5 43.6,151.5 44.3,151.5 45.0,151.5 45.6,151.5 46.3,151.5 47.0,151.5 47.6,151.5 48.3,151.4 49.0,151.4 49.6,151.4 50.3,151.4 50.9,151.3 51.6,151.3 52.3,151.2 52.9,151.2 53.6,151.2 54.3,151.1 54.9,151.1 55.6,151.0 56.3,151.0 56.9,150.9 57.6,150.9 58.3,150.8 58.9,150.8 59.6,150.7 60.3,150.7 60.9,150.6 61.6,150.6 62.3,150.5 62.9,150.5 63.6,150.5 64.3,150.4 64.9,150.4 65.6,150.4 66.3,150.4 66.9,150.3 67.6,150.3 68.2,150.3 68.9,150.3 69.6,150.3 70.2,150.3 70.9,150.4 71.6,150.5 72.2,150.6 72.9,150.8 73.6,151.0 74.2,151.2 74.9,151.4 75.6,151.7 76.2,152.0 76.9,152.3 77.6,152.6 78.2,152.9 78.9,153.2 79.6,153.6 80.2,153.9 80.9,154.3 81.6,154.7 82.2,155.0 82.9,155.4 83.6,155.7 84.2,156.1 84.9,156.5 85.5,156.8 86.2,157.1 86.9,157.5 87.5,157.8 88.2,158.1 88.9,158.3 89.5,158.6 90.2,158.8 90.9,159.0 91.5,159.2 92.2,159.3 92.9,159.5 93.5,159.6 94.2,159.8 94.9,159.9 95.5,160.0 96.2,160.1 96.9,160.2 97.5,160.4 98.2,160.5 98.9,160.6 99.5,160.7 100.2,160.8 100.9,160.9 101.5,161.0 102.2,161.1 102.8,161.1 103.5,161.2 104.2,161.3 104.8,161.4 105.5,161.5 106.2,161.6 106.8,161.7 107.5,161.7 108.2,161.8 108.8,161.9 109.5,162.0 110.2,162.1 110.8,162.2 111.5,162.2 112.2,162.3 112.8,162.4 113.5,162.5 114.2,162.6 114.8,162.7 115.5,162.7 116.2,162.8 116.8,162.9 117.5,163.0 118.2,163.1 118.8,163.2 119.5,163.3 120.1,163.4 120.8,163.5 121.5,163.7 122.1,163.8 122.8,163.9 123.5,164.1 124.1,164.2 124.8,164.4 125.5,164.5 126.1,164.7 126.8,164.8 127.5,165.0 128.1,165.1 128.8,165.2 129.5,165.3 130.1,165.4 130.8,165.5 131.5,165.5 132.1,165.6 132.8,165.6 133.5,165.6 134.1,165.6 134.8,165.6 135.5,165.6 136.1,165.5 136.8,165.5 137.4,165.5 138.1,165.4 138.8,165.4 139.4,165.3 140.1,165.3 140.8,165.2 141.4,165.1 142.1,165.1 142.8,165.0 143.4,164.9 144.1,164.8 144.8,164.7 145.4,164.6 146.1,164.5 146.8,164.5 147.4,164.4 148.1,164.3 148.8,164.2 149.4,164.0 150.1,163.9 150.8,163.8 151.4,163.7 152.1,163.6 152.8,163.5 153.4,163.4 154.1,163.3 154.7,163.2 155.4,163.1 156.1,162.9 156.7,162.8 157.4,162.7 158.1,162.6 158.7,162.5 159.4,162.4 160.1,162.3 160.7,162.2 161.4,162.1 162.1,162.0 162.7,161.9 163.4,161.8 164.1,161.7 164.7,161.6 165.4,161.5 166.1,161.4 166.7,161.3 167.4,161.2 168.1,161.1 168.7,161.0 169.4,161.0 170.1,160.9 170.7,160.8 171.4,160.7 172.0,160.6 172.7,160.5 173.4,160.4 174.0,160.3 174.7,160.3 175.4,160.2 176.0,160.1 176.7,160.0 177.4,159.9 178.0,159.8 178.7,159.7 179.4,159.6 180.0,159.6 180.7,159.5 181.4,159.4 182.0,159.3 182.7,159.2 183.4,159.1 184.0,159.0 184.7,158.9 185.4,158.8 186.0,158.8 186.7,158.7 187.4,158.6 188.0,158.5 188.7,158.4 189.3,158.3 190.0,158.2 190.7,158.1 191.3,158.0 192.0,157.9 192.7,157.9 193.3,157.8 194.0,157.7 194.7,157.6 195.3,157.5 196.0,157.4 196.0,186.8 195.3,186.7 194.7,186.6 194.0,186.5 193.3,186.4 192.7,186.3 192.0,186.2 191.3,186.1 190.7,186.1 190.0,186.0 189.3,185.9 188.7,185.8 188.0,185.8 187.4,185.7 186.7,185.6 186.0,185.6 185.4,185.5 184.7,185.5 184.0,185.4 183.4,185.4 182.7,185.3 182.0,185.3 181.4,185.3 180.7,185.2 180.0,185.2 179.4,185.2 178.7,185.1 178.0,185.1 177.4,185.1 176.7,185.1 176.0,185.0 175.4,185.0 174.7,185.0 174.0,185.0 173.4,185.0 172.7,185.0 172.0,184.9 171.4,184.9 170.7,184.9 170.1,184.9 169.4,184.9 168.7,184.9 168.1,184.9 167.4,184.9 166.7,184.9 166.1,184.9 165.4,184.9 164.7,184.9 164.1,184.9 163.4,185.0 162.7,185.0 162.1,185.1 161.4,185.1 160.7,185.2 160.1,185.3 159.4,185.4 158.7,185.5 158.1,185.6 157.4,185.7 156.7,185.8 156.1,185.9 155.4,186.0 154.7,186.2 154.1,186.3 153.4,186.4 152.8,186.6 152.1,186.7 151.4,186.8 150.8,187.0 150.1,187.1 149.4,187.3 148.8,187.4 148.1,187.5 147.4,187.7 146.8,187.8 146.1,188.0 145.4,188.1 144.8,188.2 144.1,188.4 143.4,188.5 142.8,188.6 142.1,188.7 141.4,188.8 140.8,188.9 140.1,189.0 139.4,189.1 138.8,189.2 138.1,189.3 137.4,189.4 136.8,189.4 136.1,189.5 135.5,189.5 134.8,189.6 134.1,189.6 133.5,189.6 132.8,189.6 132.1,189.6 131.5,189.5 130.8,189.4 130.1,189.2 129.5,189.0 128.8,188.8 128.1,188.6 127.5,188.3 126.8,188.1 126.1,187.8 125.5,187.5 124.8,187.3 124.1,187.0 123.5,186.7 122.8,186.5 122.1,186.2 121.5,186.0 120.8,185.8 120.1,185.6 119.5,185.5 118.8,185.3 118.2,185.2 117.5,185.0 116.8,184.9 116.2,184.7 115.5,184.6 114.8,184.4 114.2,184.3 113.5,184.1 112.8,184.0 112.2,183.9 111.5,183.7 110.8,183.6 110.2,183.5 109.5,183.3 108.8,183.2 108.2,183.1 107.5,183.0 106.8,182.9 106.2,182.8 105.5,182.7 104.8,182.6 104.2,182.5 103.5,182.4 102.8,182.4 102.2,182.3 101.5,182.3 100.9,182.2 100.2,182.2 99.5,182.2 98.9,182.2 98.2,182.2 97.5,182.2 96.9,182.3 96.2,182.3 95.5,182.4 94.9,182.5 94.2,182.6 93.5,182.7 92.9,182.8 92.2,183.0 91.5,183.1 90.9,183.3 90.2,183.4 89.5,183.6 88.9,183.8 88.2,183.9 87.5,184.1 86.9,184.3 86.2,184.5 85.5,184.7 84.9,184.9 84.2,185.2 83.6,185.4 82.9,185.6 82.2,185.8 81.6,186.0 80.9,186.2 80.2,186.4 79.6,186.7 78.9,186.9 78.2,187.1 77.6,187.3 76.9,187.5 76.2,187.7 75.6,187.8 74.9,188.0 74.2,188.2 73.6,188.4 72.9,188.6 72.2,188.8 71.6,189.1 70.9,189.3 70.2,189.5 69.6,189.8 68.9,190.0 68.2,190.3 67.6,190.6 66.9,190.8 66.3,191.1 65.6,191.4 64.9,191.6 64.3,191.9 63.6,192.2 62.9,192.4 62.3,192.7 61.6,192.9 60.9,193.2 60.3,193.4 59.6,193.7 58.9,193.9 58.3,194.1 57.6,194.3 56.9,194.5 56.3,194.7 55.6,194.9 54.9,195.0 54.3,195.2 53.6,195.3 52.9,195.4 52.3,195.5 51.6,195.6 50.9,195.6 50.3,195.7 49.6,195.7 49.0,195.7 48.3,195.7 47.6,195.7 47.0,195.6 46.3,195.6 45.6,195.5 45.0,195.4 44.3,195.4 43.6,195.3 43.0,195.1 42.3,195.0 41.6,194.9 41.0,194.8 40.3,194.6 39.6,194.4 39.0,194.3 38.3,194.1 37.6,193.9 37.0,193.7 36.3,193.4 35.6,193.2 35.0,193.0 34.3,192.7 33.6,192.4 33.0,192.2 32.3,191.9 31.7,191.6 31.0,191.3 30.3,190.9 29.7,190.6 29.0,190.3 28.3,189.9 27.7,189.6 27.0,189.2 26.3,188.8 25.7,188.4 25.0,188.0" fill="rgb(226,192,226)" clip-path="url(#clp2)"/>
<polyline points="25.0,151.5 25.7,151.8 26.3,152.0 27.0,152.3 27.7,152.5 28.3,152.7 29.0,153.0 29.7,153.2 30.3,153.4 31.0,153.6 31.7,153.8 32.3,154.0 33.0,154.2 33.6,154.4 34.3,154.5 35.0,154.7 35.6,154.9 36.3,155.0 37.0,155.1 37.6,155.3 38.3,155.4 39.0,155.5 39.6,155.7 40.3,155.8 41.0,155.9 41.6,156.0 42.3,156.1 43.0,156.1 43.6,156.2 44.3,156.3 45.0,156.4 45.6,156.4 46.3,156.5 47.0,156.5 47.6,156.5 48.3,156.6 49.0,156.6 49.6,156.6 50.3,156.6 50.9,156.6 51.6,156.6 52.3,156.5 52.9,156.5 53.6,156.4 54.3,156.3 54.9,156.2 55.6,156.1 56.3,156.0 56.9,155.8 57.6,155.7 58.3,155.5 58.9,155.4 59.6,155.2 60.3,155.0 60.9,154.8 61.6,154.6 62.3,154.4 62.9,154.2 63.6,154.0 64.3,153.8 64.9,153.6 65.6,153.5 66.3,153.3 66.9,153.1 67.6,152.9 68.2,152.7 68.9,152.6 69.6,152.4 70.2,152.2 70.9,152.1 71.6,152.0 72.2,151.9 72.9,151.8 73.6,151.7 74.2,151.6 74.9,151.6 75.6,151.5 76.2,151.5 76.9,151.5 77.6,151.5 78.2,151.5 78.9,151.5 79.6,151.5 80.2,151.5 80.9,151.5 81.6,151.5 82.2,151.5 82.9,151.5 83.6,151.5 84.2,151.5 84.9,151.5 85.5,151.5 86.2,151.5 86.9,151.5 87.5,151.5 88.2,151.5 88.9,151.5 89.5,151.5 90.2,151.5 90.9,151.5 91.5,151.5 92.2,151.5 92.9,151.5 93.5,151.5 94.2,151.5 94.9,151.5 95.5,151.5 96.2,151.5 96.9,151.5 97.5,151.5 98.2,151.5 98.9,151.5 99.5,151.5 100.2,151.5 100.9,151.5 101.5,151.5 102.2,151.5 102.8,151.5 103.5,151.5 104.2,151.6 104.8,151.7 105.5,151.7 106.2,151.8 106.8,152.0 107.5,152.1 108.2,152.2 108.8,152.4 109.5,152.5 110.2,152.7 110.8,152.9 111.5,153.1 112.2,153.3 112.8,153.5 113.5,153.7 114.2,153.9 114.8,154.1 115.5,154.3 116.2,154.5 116.8,154.8 117.5,155.0 118.2,155.2 118.8,155.4 119.5,155.7 120.1,155.9 120.8,156.1 121.5,156.3 122.1,156.5 122.8,156.7 123.5,156.9 124.1,157.1 124.8,157.3 125.5,157.5 126.1,157.6 126.8,157.8 127.5,157.9 128.1,158.0 128.8,158.1 129.5,158.2 130.1,158.3 130.8,158.4 131.5,158.4 132.1,158.5 132.8,158.5 133.5,158.5 134.1,158.5 134.8,158.4 135.5,158.3 136.1,158.3 136.8,158.2 137.4,158.0 138.1,157.9 138.8,157.7 139.4,157.6 140.1,157.4 140.8,157.2 141.4,157.0 142.1,156.8 142.8,156.5 143.4,156.3 144.1,156.1 144.8,155.8 145.4,155.6 146.1,155.3 146.8,155.1 147.4,154.8 148.1,154.6 148.8,154.3 149.4,154.1 150.1,153.9 150.8,153.6 151.4,153.4 152.1,153.2 152.8,153.0 153.4,152.8 154.1,152.6 154.7,152.4 155.4,152.2 156.1,152.1 156.7,151.9 157.4,151.8 158.1,151.7 158.7,151.6 159.4,151.6 160.1,151.5 160.7,151.5 161.4,151.5 162.1,151.5 162.7,151.5 163.4,151.5 164.1,151.5 164.7,151.5 165.4,151.5 166.1,151.5 166.7,151.5 167.4,151.5 168.1,151.5 168.7,151.5 169.4,151.5 170.1,151.5 170.7,151.5 171.4,151.5 172.0,151.5 172.7,151.5 173.4,151.5 174.0,151.5 174.7,151.5 175.4,151.5 176.0,151.5 176.7,151.5 177.4,151.5 178.0,151.5 178.7,151.5 179.4,151.5 180.0,151.5 180.7,151.5 181.4,151.5 182.0,151.5 182.7,151.5 183.4,151.5 184.0,151.5 184.7,151.5 185.4,151.5 186.0,151.5 186.7,151.5 187.4,151.5 188.0,151.5 188.7,151.5 189.3,151.5 190.0,151.5 190.7,151.5 191.3,151.5 192.0,151.5 192.7,151.5 193.3,151.5 194.0,151.5 194.7,151.5 195.3,151.5 196.0,151.5" fill="none" stroke="rgb(135,135,246)" stroke-width="0.95"/>
<polyline points="25.0,204.4 25.7,204.7 26.3,205.0 27.0,205.2 27.7,205.5 28.3,205.8 29.0,206.0 29.7,206.3 30.3,206.5 31.0,206.8 31.7,207.0 32.3,207.2 33.0,207.5 33.6,207.7 34.3,207.9 35.0,208.1 35.6,208.3 36.3,208.5 37.0,208.7 37.6,208.9 38.3,209.1 39.0,209.3 39.6,209.4 40.3,209.6 41.0,209.7 41.6,209.9 42.3,210.0 43.0,210.1 43.6,210.2 44.3,210.3 45.0,210.4 45.6,210.5 46.3,210.6 47.0,210.6 47.6,210.7 48.3,210.7 49.0,210.8 49.6,210.8 50.3,210.8 50.9,210.8 51.6,210.8 52.3,210.8 52.9,210.7 53.6,210.7 54.3,210.6 54.9,210.6 55.6,210.5 56.3,210.4 56.9,210.3 57.6,210.2 58.3,210.1 58.9,210.0 59.6,209.9 60.3,209.8 60.9,209.7 61.6,209.5 62.3,209.4 62.9,209.3 63.6,209.1 64.3,209.0 64.9,208.9 65.6,208.7 66.3,208.6 66.9,208.4 67.6,208.3 68.2,208.1 68.9,208.0 69.6,207.9 70.2,207.7 70.9,207.6 71.6,207.4 72.2,207.3 72.9,207.2 73.6,207.0 74.2,206.9 74.9,206.8 75.6,206.7 76.2,206.6 76.9,206.5 77.6,206.4 78.2,206.3 78.9,206.3 79.6,206.2 80.2,206.1 80.9,206.1 81.6,206.0 82.2,206.0 82.9,206.0 83.6,206.0 84.2,206.0 84.9,206.0 85.5,206.0 86.2,206.0 86.9,206.0 87.5,206.1 88.2,206.1 88.9,206.1 89.5,206.1 90.2,206.2 90.9,206.2 91.5,206.2 92.2,206.3 92.9,206.3 93.5,206.3 94.2,206.4 94.9,206.4 95.5,206.5 96.2,206.5 96.9,206.6 97.5,206.6 98.2,206.7 98.9,206.7 99.5,206.8 100.2,206.8 100.9,206.9 101.5,206.9 102.2,207.0 102.8,207.1 103.5,207.2 104.2,207.3 104.8,207.4 105.5,207.5 106.2,207.6 106.8,207.7 107.5,207.8 108.2,208.0 108.8,208.1 109.5,208.2 110.2,208.4 110.8,208.5 111.5,208.7 112.2,208.8 112.8,208.9 113.5,209.1 114.2,209.2 114.8,209.3 115.5,209.5 116.2,209.6 116.8,209.7 117.5,209.9 118.2,210.0 118.8,210.1 119.5,210.2 120.1,210.3 120.8,210.4 121.5,210.6 122.1,210.7 122.8,210.8 123.5,210.9 124.1,211.1 124.8,211.2 125.5,211.3 126.1,211.4 126.8,211.6 127.5,211.7 128.1,211.8 128.8,211.9 129.5,212.0 130.1,212.0 130.8,212.1 131.5,212.2 132.1,212.2 132.8,212.2 133.5,212.2 134.1,212.2 134.8,212.2 135.5,212.2 136.1,212.2 136.8,212.1 137.4,212.1 138.1,212.1 138.8,212.1 139.4,212.0 140.1,212.0 140.8,212.0 141.4,211.9 142.1,211.9 142.8,211.8 143.4,211.8 144.1,211.7 144.8,211.7 145.4,211.6 146.1,211.6 146.8,211.5 147.4,211.5 148.1,211.4 148.8,211.3 149.4,211.3 150.1,211.2 150.8,211.2 151.4,211.1 152.1,211.0 152.8,211.0 153.4,210.9 154.1,210.8 154.7,210.8 155.4,210.7 156.1,210.6 156.7,210.6 157.4,210.5 158.1,210.4 158.7,210.4 159.4,210.3 160.1,210.3 160.7,210.2 161.4,210.2 162.1,210.1 162.7,210.0 163.4,210.0 164.1,209.9 164.7,209.9 165.4,209.8 166.1,209.8 166.7,209.8 167.4,209.7 168.1,209.7 168.7,209.6 169.4,209.6 170.1,209.5 170.7,209.5 171.4,209.5 172.0,209.4 172.7,209.4 173.4,209.3 174.0,209.3 174.7,209.2 175.4,209.2 176.0,209.2 176.7,209.1 177.4,209.1 178.0,209.0 178.7,209.0 179.4,209.0 180.0,208.9 180.7,208.9 181.4,208.8 182.0,208.8 182.7,208.8 183.4,208.7 184.0,208.7 184.7,208.6 185.4,208.6 186.0,208.6 186.7,208.5 187.4,208.5 188.0,208.4 188.7,208.4 189.3,208.4 190.0,208.3 190.7,208.3 191.3,208.3 192.0,208.2 192.7,208.2 193.3,208.1 194.0,208.1 194.7,208.1 195.3,208.0 196.0,208.0" fill="none" stroke="rgb(135,135,246)" stroke-width="0.95"/>
<polyline points="25.0,150.3 25.7,150.4 26.3,150.4 27.0,150.5 27.7,150.6 28.3,150.6 29.0,150.7 29.7,150.8 30.3,150.8 31.0,150.9 31.7,150.9 32.3,151.0 33.0,151.0 33.6,151.1 34.3,151.1 35.0,151.2 35.6,151.2 36.3,151.3 37.0,151.3 37.6,151.3 38.3,151.3 39.0,151.4 39.6,151.4 40.3,151.4 41.0,151.4 41.6,151.5 42.3,151.5 43.0,151.5 43.6,151.5 44.3,151.5 45.0,151.5 45.6,151.5 46.3,151.5 47.0,151.5 47.6,151.5 48.3,151.4 49.0,151.4 49.6,151.4 50.3,151.4 50.9,151.3 51.6,151.3 52.3,151.2 52.9,151.2 53.6,151.2 54.3,151.1 54.9,151.1 55.6,151.0 56.3,151.0 56.9,150.9 57.6,150.9 58.3,150.8 58.9,150.8 59.6,150.7 60.3,150.7 60.9,150.6 61.6,150.6 62.3,150.5 62.9,150.5 63.6,150.5 64.3,150.4 64.9,150.4 65.6,150.4 66.3,150.4 66.9,150.3 67.6,150.3 68.2,150.3 68.9,150.3 69.6,150.3 70.2,150.3 70.9,150.4 71.6,150.5 72.2,150.6 72.9,150.8 73.6,151.0 74.2,151.2 74.9,151.4 75.6,151.7 76.2,152.0 76.9,152.3 77.6,152.6 78.2,152.9 78.9,153.2 79.6,153.6 80.2,153.9 80.9,154.3 81.6,154.7 82.2,155.0 82.9,155.4 83.6,155.7 84.2,156.1 84.9,156.5 85.5,156.8 86.2,157.1 86.9,157.5 87.5,157.8 88.2,158.1 88.9,158.3 89.5,158.6 90.2,158.8 90.9,159.0 91.5,159.2 92.2,159.3 92.9,159.5 93.5,159.6 94.2,159.8 94.9,159.9 95.5,160.0 96.2,160.1 96.9,160.2 97.5,160.4 98.2,160.5 98.9,160.6 99.5,160.7 100.2,160.8 100.9,160.9 101.5,161.0 102.2,161.1 102.8,161.1 103.5,161.2 104.2,161.3 104.8,161.4 105.5,161.5 106.2,161.6 106.8,161.7 107.5,161.7 108.2,161.8 108.8,161.9 109.5,162.0 110.2,162.1 110.8,162.2 111.5,162.2 112.2,162.3 112.8,162.4 113.5,162.5 114.2,162.6 114.8,162.7 115.5,162.7 116.2,162.8 116.8,162.9 117.5,163.0 118.2,163.1 118.8,163.2 119.5,163.3 120.1,163.4 120.8,163.5 121.5,163.7 122.1,163.8 122.8,163.9 123.5,164.1 124.1,164.2 124.8,164.4 125.5,164.5 126.1,164.7 126.8,164.8 127.5,165.0 128.1,165.1 128.8,165.2 129.5,165.3 130.1,165.4 130.8,165.5 131.5,165.5 132.1,165.6 132.8,165.6 133.5,165.6 134.1,165.6 134.8,165.6 135.5,165.6 136.1,165.5 136.8,165.5 137.4,165.5 138.1,165.4 138.8,165.4 139.4,165.3 140.1,165.3 140.8,165.2 141.4,165.1 142.1,165.1 142.8,165.0 143.4,164.9 144.1,164.8 144.8,164.7 145.4,164.6 146.1,164.5 146.8,164.5 147.4,164.4 148.1,164.3 148.8,164.2 149.4,164.0 150.1,163.9 150.8,163.8 151.4,163.7 152.1,163.6 152.8,163.5 153.4,163.4 154.1,163.3 154.7,163.2 155.4,163.1 156.1,162.9 156.7,162.8 157.4,162.7 158.1,162.6 158.7,162.5 159.4,162.4 160.1,162.3 160.7,162.2 161.4,162.1 162.1,162.0 162.7,161.9 163.4,161.8 164.1,161.7 164.7,161.6 165.4,161.5 166.1,161.4 166.7,161.3 167.4,161.2 168.1,161.1 168.7,161.0 169.4,161.0 170.1,160.9 170.7,160.8 171.4,160.7 172.0,160.6 172.7,160.5 173.4,160.4 174.0,160.3 174.7,160.3 175.4,160.2 176.0,160.1 176.7,160.0 177.4,159.9 178.0,159.8 178.7,159.7 179.4,159.6 180.0,159.6 180.7,159.5 181.4,159.4 182.0,159.3 182.7,159.2 183.4,159.1 184.0,159.0 184.7,158.9 185.4,158.8 186.0,158.8 186.7,158.7 187.4,158.6 188.0,158.5 188.7,158.4 189.3,158.3 190.0,158.2 190.7,158.1 191.3,158.0 192.0,157.9 192.7,157.9 193.3,157.8 194.0,157.7 194.7,157.6 195.3,157.5 196.0,157.4" fill="none" stroke="rgb(247,175,135)" stroke-width="0.95"/>
<polyline points="25.0,188.0 25.7,188.4 26.3,188.8 27.0,189.2 27.7,189.6 28.3,189.9 29.0,190.3 29.7,190.6 30.3,190.9 31.0,191.3 31.7,191.6 32.3,191.9 33.0,192.2 33.6,192.4 34.3,192.7 35.0,193.0 35.6,193.2 36.3,193.4 37.0,193.7 37.6,193.9 38.3,194.1 39.0,194.3 39.6,194.4 40.3,194.6 41.0,194.8 41.6,194.9 42.3,195.0 43.0,195.1 43.6,195.3 44.3,195.4 45.0,195.4 45.6,195.5 46.3,195.6 47.0,195.6 47.6,195.7 48.3,195.7 49.0,195.7 49.6,195.7 50.3,195.7 50.9,195.6 51.6,195.6 52.3,195.5 52.9,195.4 53.6,195.3 54.3,195.2 54.9,195.0 55.6,194.9 56.3,194.7 56.9,194.5 57.6,194.3 58.3,194.1 58.9,193.9 59.6,193.7 60.3,193.4 60.9,193.2 61.6,192.9 62.3,192.7 62.9,192.4 63.6,192.2 64.3,191.9 64.9,191.6 65.6,191.4 66.3,191.1 66.9,190.8 67.6,190.6 68.2,190.3 68.9,190.0 69.6,189.8 70.2,189.5 70.9,189.3 71.6,189.1 72.2,188.8 72.9,188.6 73.6,188.4 74.2,188.2 74.9,188.0 75.6,187.8 76.2,187.7 76.9,187.5 77.6,187.3 78.2,187.1 78.9,186.9 79.6,186.7 80.2,186.4 80.9,186.2 81.6,186.0 82.2,185.8 82.9,185.6 83.6,185.4 84.2,185.2 84.9,184.9 85.5,184.7 86.2,184.5 86.9,184.3 87.5,184.1 88.2,183.9 88.9,183.8 89.5,183.6 90.2,183.4 90.9,183.3 91.5,183.1 92.2,183.0 92.9,182.8 93.5,182.7 94.2,182.6 94.9,182.5 95.5,182.4 96.2,182.3 96.9,182.3 97.5,182.2 98.2,182.2 98.9,182.2 99.5,182.2 100.2,182.2 100.9,182.2 101.5,182.3 102.2,182.3 102.8,182.4 103.5,182.4 104.2,182.5 104.8,182.6 105.5,182.7 106.2,182.8 106.8,182.9 107.5,183.0 108.2,183.1 108.8,183.2 109.5,183.3 110.2,183.5 110.8,183.6 111.5,183.7 112.2,183.9 112.8,184.0 113.5,184.1 114.2,184.3 114.8,184.4 115.5,184.6 116.2,184.7 116.8,184.9 117.5,185.0 118.2,185.2 118.8,185.3 119.5,185.5 120.1,185.6 120.8,185.8 121.5,186.0 122.1,186.2 122.8,186.5 123.5,186.7 124.1,187.0 124.8,187.3 125.5,187.5 126.1,187.8 126.8,188.1 127.5,188.3 128.1,188.6 128.8,188.8 129.5,189.0 130.1,189.2 130.8,189.4 131.5,189.5 132.1,189.6 132.8,189.6 133.5,189.6 134.1,189.6 134.8,189.6 135.5,189.5 136.1,189.5 136.8,189.4 137.4,189.4 138.1,189.3 138.8,189.2 139.4,189.1 140.1,189.0 140.8,188.9 141.4,188.8 142.1,188.7 142.8,188.6 143.4,188.5 144.1,188.4 144.8,188.2 145.4,188.1 146.1,188.0 146.8,187.8 147.4,187.7 148.1,187.5 148.8,187.4 149.4,187.3 150.1,187.1 150.8,187.0 151.4,186.8 152.1,186.7 152.8,186.6 153.4,186.4 154.1,186.3 154.7,186.2 155.4,186.0 156.1,185.9 156.7,185.8 157.4,185.7 158.1,185.6 158.7,185.5 159.4,185.4 160.1,185.3 160.7,185.2 161.4,185.1 162.1,185.1 162.7,185.0 163.4,185.0 164.1,184.9 164.7,184.9 165.4,184.9 166.1,184.9 166.7,184.9 167.4,184.9 168.1,184.9 168.7,184.9 169.4,184.9 170.1,184.9 170.7,184.9 171.4,184.9 172.0,184.9 172.7,185.0 173.4,185.0 174.0,185.0 174.7,185.0 175.4,185.0 176.0,185.0 176.7,185.1 177.4,185.1 178.0,185.1 178.7,185.1 179.4,185.2 180.0,185.2 180.7,185.2 181.4,185.3 182.0,185.3 182.7,185.3 183.4,185.4 184.0,185.4 184.7,185.5 185.4,185.5 186.0,185.6 186.7,185.6 187.4,185.7 188.0,185.8 188.7,185.8 189.3,185.9 190.0,186.0 190.7,186.1 191.3,186.1 192.0,186.2 192.7,186.3 193.3,186.4 194.0,186.5 194.7,186.6 195.3,186.7 196.0,186.8" fill="none" stroke="rgb(247,175,135)" stroke-width="0.95"/>
</g>
<line x1="25.2" y1="233.5" x2="195.9" y2="233.5" stroke="#6a6a6a" stroke-width="1.0"/>
<polyline points="25.0,178.5 25.7,178.7 26.3,178.9 27.0,179.2 27.7,179.4 28.3,179.6 29.0,179.8 29.7,180.0 30.3,180.2 31.0,180.4 31.7,180.6 32.3,180.8 33.0,180.9 33.6,181.1 34.3,181.3 35.0,181.5 35.6,181.6 36.3,181.8 37.0,181.9 37.6,182.0 38.3,182.2 39.0,182.3 39.6,182.4 40.3,182.5 41.0,182.6 41.6,182.7 42.3,182.8 43.0,182.9 43.6,183.0 44.3,183.0 45.0,183.1 45.6,183.1 46.3,183.2 47.0,183.2 47.6,183.2 48.3,183.2 49.0,183.2 49.6,183.2 50.3,183.2 50.9,183.1 51.6,183.1 52.3,183.0 52.9,183.0 53.6,182.9 54.3,182.8 54.9,182.8 55.6,182.7 56.3,182.6 56.9,182.5 57.6,182.4 58.3,182.3 58.9,182.2 59.6,182.1 60.3,182.0 60.9,181.9 61.6,181.8 62.3,181.6 62.9,181.5 63.6,181.4 64.3,181.3 64.9,181.2 65.6,181.0 66.3,180.9 66.9,180.8 67.6,180.7 68.2,180.6 68.9,180.5 69.6,180.3 70.2,180.2 70.9,180.1 71.6,180.0 72.2,179.9 72.9,179.8 73.6,179.7 74.2,179.7 74.9,179.6 75.6,179.5 76.2,179.4 76.9,179.4 77.6,179.3 78.2,179.3 78.9,179.3 79.6,179.2 80.2,179.2 80.9,179.2 81.6,179.2 82.2,179.2 82.9,179.2 83.6,179.2 84.2,179.2 84.9,179.2 85.5,179.2 86.2,179.2 86.9,179.2 87.5,179.2 88.2,179.2 88.9,179.3 89.5,179.3 90.2,179.3 90.9,179.3 91.5,179.3 92.2,179.3 92.9,179.3 93.5,179.3 94.2,179.4 94.9,179.4 95.5,179.4 96.2,179.4 96.9,179.4 97.5,179.4 98.2,179.5 98.9,179.5 99.5,179.5 100.2,179.5 100.9,179.5 101.5,179.6 102.2,179.6 102.8,179.7 103.5,179.8 104.2,179.9 104.8,180.0 105.5,180.1 106.2,180.2 106.8,180.3 107.5,180.4 108.2,180.6 108.8,180.7 109.5,180.9 110.2,181.0 110.8,181.2 111.5,181.3 112.2,181.5 112.8,181.7 113.5,181.8 114.2,182.0 114.8,182.2 115.5,182.4 116.2,182.5 116.8,182.7 117.5,182.9 118.2,183.0 118.8,183.2 119.5,183.4 120.1,183.5 120.8,183.7 121.5,183.8 122.1,183.9 122.8,184.1 123.5,184.2 124.1,184.3 124.8,184.4 125.5,184.5 126.1,184.6 126.8,184.7 127.5,184.7 128.1,184.8 128.8,184.8 129.5,184.9 130.1,184.9 130.8,184.9 131.5,184.9 132.1,184.9 132.8,184.8 133.5,184.8 134.1,184.8 134.8,184.7 135.5,184.7 136.1,184.6 136.8,184.5 137.4,184.4 138.1,184.3 138.8,184.2 139.4,184.1 140.1,184.0 140.8,183.9 141.4,183.8 142.1,183.7 142.8,183.6 143.4,183.4 144.1,183.3 144.8,183.2 145.4,183.0 146.1,182.9 146.8,182.8 147.4,182.6 148.1,182.5 148.8,182.3 149.4,182.2 150.1,182.0 150.8,181.9 151.4,181.8 152.1,181.6 152.8,181.5 153.4,181.4 154.1,181.2 154.7,181.1 155.4,181.0 156.1,180.8 156.7,180.7 157.4,180.6 158.1,180.5 158.7,180.4 159.4,180.3 160.1,180.2 160.7,180.1 161.4,180.0 162.1,180.0 162.7,179.9 163.4,179.8 164.1,179.8 164.7,179.8 165.4,179.7 166.1,179.7 166.7,179.7 167.4,179.7 168.1,179.6 168.7,179.6 169.4,179.6 170.1,179.6 170.7,179.6 171.4,179.6 172.0,179.5 172.7,179.5 173.4,179.5 174.0,179.5 174.7,179.5 175.4,179.5 176.0,179.4 176.7,179.4 177.4,179.4 178.0,179.4 178.7,179.4 179.4,179.4 180.0,179.4 180.7,179.3 181.4,179.3 182.0,179.3 182.7,179.3 183.4,179.3 184.0,179.3 184.7,179.3 185.4,179.3 186.0,179.3 186.7,179.3 187.4,179.2 188.0,179.2 188.7,179.2 189.3,179.2 190.0,179.2 190.7,179.2 191.3,179.2 192.0,179.2 192.7,179.2 193.3,179.2 194.0,179.2 194.7,179.2 195.3,179.2 196.0,179.2" fill="none" stroke="#6a2ea6" stroke-width="2.1" stroke-linejoin="round"/>
<polyline points="25.0,169.8 25.7,170.0 26.3,170.3 27.0,170.5 27.7,170.7 28.3,170.9 29.0,171.1 29.7,171.3 30.3,171.5 31.0,171.7 31.7,171.8 32.3,172.0 33.0,172.2 33.6,172.3 34.3,172.5 35.0,172.6 35.6,172.7 36.3,172.8 37.0,173.0 37.6,173.1 38.3,173.2 39.0,173.3 39.6,173.3 40.3,173.4 41.0,173.5 41.6,173.6 42.3,173.6 43.0,173.7 43.6,173.7 44.3,173.7 45.0,173.8 45.6,173.8 46.3,173.8 47.0,173.8 47.6,173.8 48.3,173.8 49.0,173.7 49.6,173.6 50.3,173.6 50.9,173.5 51.6,173.4 52.3,173.2 52.9,173.1 53.6,173.0 54.3,172.8 54.9,172.6 55.6,172.5 56.3,172.3 56.9,172.1 57.6,172.0 58.3,171.8 58.9,171.6 59.6,171.4 60.3,171.3 60.9,171.1 61.6,170.9 62.3,170.8 62.9,170.6 63.6,170.5 64.3,170.3 64.9,170.2 65.6,170.1 66.3,170.0 66.9,169.9 67.6,169.9 68.2,169.8 68.9,169.8 69.6,169.8 70.2,169.8 70.9,169.8 71.6,169.8 72.2,169.8 72.9,169.8 73.6,169.8 74.2,169.9 74.9,169.9 75.6,169.9 76.2,169.9 76.9,169.9 77.6,170.0 78.2,170.0 78.9,170.0 79.6,170.0 80.2,170.1 80.9,170.1 81.6,170.1 82.2,170.2 82.9,170.2 83.6,170.3 84.2,170.3 84.9,170.3 85.5,170.4 86.2,170.4 86.9,170.5 87.5,170.5 88.2,170.6 88.9,170.6 89.5,170.7 90.2,170.7 90.9,170.8 91.5,170.8 92.2,170.9 92.9,170.9 93.5,171.0 94.2,171.0 94.9,171.1 95.5,171.1 96.2,171.2 96.9,171.2 97.5,171.3 98.2,171.3 98.9,171.4 99.5,171.5 100.2,171.5 100.9,171.6 101.5,171.7 102.2,171.7 102.8,171.8 103.5,171.9 104.2,172.0 104.8,172.2 105.5,172.3 106.2,172.4 106.8,172.6 107.5,172.7 108.2,172.9 108.8,173.0 109.5,173.2 110.2,173.3 110.8,173.5 111.5,173.7 112.2,173.9 112.8,174.0 113.5,174.2 114.2,174.4 114.8,174.6 115.5,174.7 116.2,174.9 116.8,175.1 117.5,175.3 118.2,175.4 118.8,175.6 119.5,175.8 120.1,175.9 120.8,176.1 121.5,176.3 122.1,176.4 122.8,176.6 123.5,176.7 124.1,176.8 124.8,177.0 125.5,177.1 126.1,177.2 126.8,177.3 127.5,177.4 128.1,177.5 128.8,177.6 129.5,177.6 130.1,177.7 130.8,177.7 131.5,177.8 132.1,177.8 132.8,177.8 133.5,177.8 134.1,177.8 134.8,177.8 135.5,177.7 136.1,177.7 136.8,177.7 137.4,177.6 138.1,177.5 138.8,177.5 139.4,177.4 140.1,177.3 140.8,177.2 141.4,177.2 142.1,177.1 142.8,177.0 143.4,176.9 144.1,176.8 144.8,176.6 145.4,176.5 146.1,176.4 146.8,176.3 147.4,176.2 148.1,176.0 148.8,175.9 149.4,175.8 150.1,175.7 150.8,175.5 151.4,175.4 152.1,175.3 152.8,175.1 153.4,175.0 154.1,174.9 154.7,174.7 155.4,174.6 156.1,174.5 156.7,174.4 157.4,174.3 158.1,174.1 158.7,174.0 159.4,173.9 160.1,173.8 160.7,173.7 161.4,173.6 162.1,173.5 162.7,173.4 163.4,173.4 164.1,173.3 164.7,173.2 165.4,173.1 166.1,173.1 166.7,173.0 167.4,173.0 168.1,172.9 168.7,172.9 169.4,172.8 170.1,172.8 170.7,172.7 171.4,172.7 172.0,172.6 172.7,172.6 173.4,172.5 174.0,172.5 174.7,172.5 175.4,172.4 176.0,172.4 176.7,172.3 177.4,172.3 178.0,172.2 178.7,172.2 179.4,172.1 180.0,172.1 180.7,172.1 181.4,172.0 182.0,172.0 182.7,172.0 183.4,171.9 184.0,171.9 184.7,171.9 185.4,171.8 186.0,171.8 186.7,171.8 187.4,171.7 188.0,171.7 188.7,171.7 189.3,171.7 190.0,171.6 190.7,171.6 191.3,171.6 192.0,171.6 192.7,171.6 193.3,171.5 194.0,171.5 194.7,171.5 195.3,171.5 196.0,171.5" fill="none" stroke="#f7892e" stroke-width="2.1" stroke-linejoin="round"/>
<rect x="25.2" y="144.3" width="170.70000000000002" height="95.19999999999999" fill="none" stroke="#a4a4a4" stroke-width="1.1"/>
<line x1="22.7" y1="233.50" x2="25.2" y2="233.50" stroke="#555" stroke-width="0.6"/>
<text x="21.599999999999998" y="235.25" font-size="4.9" text-anchor="end" font-weight="normal" fill="#333" stroke="#333" stroke-width="0.15" >0</text>
<line x1="22.7" y1="221.00" x2="25.2" y2="221.00" stroke="#555" stroke-width="0.6"/>
<text x="21.599999999999998" y="222.75" font-size="4.9" text-anchor="end" font-weight="normal" fill="#333" stroke="#333" stroke-width="0.15" >2</text>
<line x1="22.7" y1="208.50" x2="25.2" y2="208.50" stroke="#555" stroke-width="0.6"/>
<text x="21.599999999999998" y="210.25" font-size="4.9" text-anchor="end" font-weight="normal" fill="#333" stroke="#333" stroke-width="0.15" >4</text>
<line x1="22.7" y1="196.00" x2="25.2" y2="196.00" stroke="#555" stroke-width="0.6"/>
<text x="21.599999999999998" y="197.75" font-size="4.9" text-anchor="end" font-weight="normal" fill="#333" stroke="#333" stroke-width="0.15" >6</text>
<line x1="22.7" y1="183.50" x2="25.2" y2="183.50" stroke="#555" stroke-width="0.6"/>
<text x="21.599999999999998" y="185.25" font-size="4.9" text-anchor="end" font-weight="normal" fill="#333" stroke="#333" stroke-width="0.15" >8</text>
<line x1="22.7" y1="171.00" x2="25.2" y2="171.00" stroke="#555" stroke-width="0.6"/>
<text x="21.599999999999998" y="172.75" font-size="4.9" text-anchor="end" font-weight="normal" fill="#333" stroke="#333" stroke-width="0.15" >10</text>
<line x1="22.7" y1="158.50" x2="25.2" y2="158.50" stroke="#555" stroke-width="0.6"/>
<text x="21.599999999999998" y="160.25" font-size="4.9" text-anchor="end" font-weight="normal" fill="#333" stroke="#333" stroke-width="0.15" >12</text>
<line x1="22.7" y1="146.00" x2="25.2" y2="146.00" stroke="#555" stroke-width="0.6"/>
<text x="21.599999999999998" y="147.75" font-size="4.9" text-anchor="end" font-weight="normal" fill="#333" stroke="#333" stroke-width="0.15" >14</text>
<line x1="25.20" y1="239.5" x2="25.20" y2="241.7" stroke="#555" stroke-width="0.6"/>
<text x="25.2" y="246.9" font-size="4.9" text-anchor="middle" font-weight="normal" fill="#333" stroke="#333" stroke-width="0.15" >0</text>
<line x1="59.34" y1="239.5" x2="59.34" y2="241.7" stroke="#555" stroke-width="0.6"/>
<text x="59.34" y="246.9" font-size="4.9" text-anchor="middle" font-weight="normal" fill="#333" stroke="#333" stroke-width="0.15" >20</text>
<line x1="93.48" y1="239.5" x2="93.48" y2="241.7" stroke="#555" stroke-width="0.6"/>
<text x="93.48000000000002" y="246.9" font-size="4.9" text-anchor="middle" font-weight="normal" fill="#333" stroke="#333" stroke-width="0.15" >40</text>
<line x1="127.62" y1="239.5" x2="127.62" y2="241.7" stroke="#555" stroke-width="0.6"/>
<text x="127.62000000000002" y="246.9" font-size="4.9" text-anchor="middle" font-weight="normal" fill="#333" stroke="#333" stroke-width="0.15" >60</text>
<line x1="161.76" y1="239.5" x2="161.76" y2="241.7" stroke="#555" stroke-width="0.6"/>
<text x="161.76000000000002" y="246.9" font-size="4.9" text-anchor="middle" font-weight="normal" fill="#333" stroke="#333" stroke-width="0.15" >80</text>
<line x1="195.90" y1="239.5" x2="195.90" y2="241.7" stroke="#555" stroke-width="0.6"/>
<text x="195.89999999999998" y="246.9" font-size="4.9" text-anchor="middle" font-weight="normal" fill="#333" stroke="#333" stroke-width="0.15" >100</text>
<text x="112.9" y="259.6" font-size="10.3" text-anchor="middle" font-weight="normal" fill="#1a1a1a" stroke="#1a1a1a" stroke-width="0.35" textLength="62.6" lengthAdjust="spacingAndGlyphs">Gait Cycle (%)</text>
<text x="8.7" y="142.20000000000002" font-size="7.6" text-anchor="start" font-weight="bold" fill="#1a1a1a" textLength="9.3" lengthAdjust="spacingAndGlyphs">(B)</text>
<text transform="translate(11.0,191.9) rotate(-90)" font-size="10.2" text-anchor="middle" fill="#1a1a1a" stroke="#1a1a1a" stroke-width="0.3" textLength="31.5" lengthAdjust="spacingAndGlyphs"><tspan font-style="italic" font-family="Liberation Serif">θ</tspan> (deg)</text>
<rect x="31.8" y="275.5" width="26.3" height="95.10000000000002" fill="rgb(226,244,250)"/>
<rect x="119.5" y="275.5" width="19.30000000000001" height="95.10000000000002" fill="rgb(226,244,250)"/>
<clipPath id="clp3"><polygon points="25.0,299.4 25.7,298.3 26.3,297.1 27.0,296.1 27.7,295.1 28.3,294.1 29.0,293.1 29.7,292.2 30.3,291.4 31.0,290.5 31.7,289.7 32.3,289.0 33.0,288.3 33.6,287.6 34.3,287.0 35.0,286.4 35.6,285.8 36.3,285.3 37.0,284.8 37.6,284.3 38.3,283.9 39.0,283.5 39.6,283.1 40.3,282.8 41.0,282.5 41.6,282.3 42.3,282.0 43.0,281.8 43.6,281.7 44.3,281.5 45.0,281.4 45.6,281.4 46.3,281.3 47.0,281.3 47.6,281.3 48.3,281.5 49.0,281.7 49.6,281.9 50.3,282.3 50.9,282.7 51.6,283.1 52.3,283.7 52.9,284.2 53.6,284.8 54.3,285.5 54.9,286.2 55.6,286.9 56.3,287.7 56.9,288.5 57.6,289.3 58.3,290.1 58.9,291.0 59.6,291.8 60.3,292.7 60.9,293.6 61.6,294.4 62.3,295.2 62.9,296.1 63.6,296.9 64.3,297.7 64.9,298.4 65.6,299.2 66.3,299.9 66.9,300.5 67.6,301.2 68.2,301.8 68.9,302.5 69.6,303.2 70.2,303.9 70.9,304.7 71.6,305.4 72.2,306.2 72.9,306.9 73.6,307.7 74.2,308.4 74.9,309.2 75.6,309.9 76.2,310.6 76.9,311.4 77.6,312.1 78.2,312.7 78.9,313.4 79.6,314.0 80.2,314.6 80.9,315.2 81.6,315.7 82.2,316.2 82.9,316.7 83.6,317.1 84.2,317.5 84.9,317.8 85.5,318.1 86.2,318.3 86.9,318.5 87.5,318.7 88.2,318.8 88.9,319.0 89.5,319.1 90.2,319.2 90.9,319.3 91.5,319.4 92.2,319.5 92.9,319.6 93.5,319.7 94.2,319.8 94.9,320.0 95.5,320.1 96.2,320.2 96.9,320.4 97.5,320.6 98.2,320.8 98.9,321.0 99.5,321.2 100.2,321.5 100.9,321.8 101.5,322.1 102.2,322.4 102.8,322.7 103.5,323.0 104.2,323.4 104.8,323.8 105.5,324.1 106.2,324.5 106.8,324.9 107.5,325.3 108.2,325.8 108.8,326.2 109.5,326.6 110.2,327.0 110.8,327.5 111.5,327.9 112.2,328.4 112.8,328.8 113.5,329.3 114.2,329.7 114.8,330.2 115.5,330.6 116.2,331.0 116.8,331.5 117.5,331.9 118.2,332.3 118.8,332.8 119.5,333.2 120.1,333.6 120.8,334.0 121.5,334.5 122.1,335.0 122.8,335.5 123.5,336.1 124.1,336.7 124.8,337.2 125.5,337.8 126.1,338.3 126.8,338.9 127.5,339.4 128.1,339.9 128.8,340.3 129.5,340.7 130.1,341.1 130.8,341.4 131.5,341.6 132.1,341.7 132.8,341.8 133.5,341.8 134.1,341.7 134.8,341.6 135.5,341.4 136.1,341.1 136.8,340.8 137.4,340.5 138.1,340.1 138.8,339.7 139.4,339.2 140.1,338.7 140.8,338.1 141.4,337.5 142.1,336.9 142.8,336.2 143.4,335.5 144.1,334.8 144.8,334.0 145.4,333.3 146.1,332.5 146.8,331.7 147.4,330.9 148.1,330.1 148.8,329.2 149.4,328.4 150.1,327.5 150.8,326.7 151.4,325.8 152.1,325.0 152.8,324.1 153.4,323.3 154.1,322.5 154.7,321.7 155.4,320.9 156.1,320.1 156.7,319.3 157.4,318.6 158.1,317.9 158.7,317.2 159.4,316.5 160.1,315.9 160.7,315.3 161.4,314.7 162.1,314.2 162.7,313.7 163.4,313.3 164.1,312.9 164.7,312.5 165.4,312.2 166.1,311.9 166.7,311.6 167.4,311.3 168.1,311.0 168.7,310.7 169.4,310.4 170.1,310.1 170.7,309.8 171.4,309.5 172.0,309.3 172.7,309.0 173.4,308.7 174.0,308.4 174.7,308.1 175.4,307.9 176.0,307.6 176.7,307.3 177.4,307.1 178.0,306.8 178.7,306.6 179.4,306.3 180.0,306.1 180.7,305.9 181.4,305.7 182.0,305.4 182.7,305.2 183.4,305.0 184.0,304.8 184.7,304.7 185.4,304.5 186.0,304.3 186.7,304.1 187.4,304.0 188.0,303.9 188.7,303.7 189.3,303.6 190.0,303.5 190.7,303.4 191.3,303.3 192.0,303.2 192.7,303.2 193.3,303.1 194.0,303.1 194.7,303.0 195.3,303.0 196.0,303.0 196.0,318.2 195.3,318.2 194.7,318.2 194.0,318.3 193.3,318.3 192.7,318.4 192.0,318.4 191.3,318.5 190.7,318.6 190.0,318.7 189.3,318.9 188.7,319.0 188.0,319.2 187.4,319.3 186.7,319.5 186.0,319.7 185.4,319.8 184.7,320.0 184.0,320.2 183.4,320.5 182.7,320.7 182.0,320.9 181.4,321.2 180.7,321.4 180.0,321.7 179.4,321.9 178.7,322.2 178.0,322.5 177.4,322.8 176.7,323.0 176.0,323.3 175.4,323.6 174.7,323.9 174.0,324.3 173.4,324.6 172.7,324.9 172.0,325.2 171.4,325.5 170.7,325.9 170.1,326.2 169.4,326.5 168.7,326.9 168.1,327.2 167.4,327.6 166.7,327.9 166.1,328.2 165.4,328.6 164.7,328.9 164.1,329.3 163.4,329.8 162.7,330.3 162.1,330.9 161.4,331.5 160.7,332.2 160.1,332.9 159.4,333.6 158.7,334.4 158.1,335.3 157.4,336.1 156.7,337.0 156.1,337.9 155.4,338.9 154.7,339.8 154.1,340.8 153.4,341.8 152.8,342.8 152.1,343.8 151.4,344.8 150.8,345.8 150.1,346.9 149.4,347.9 148.8,348.9 148.1,349.9 147.4,350.9 146.8,351.9 146.1,352.8 145.4,353.8 144.8,354.7 144.1,355.6 143.4,356.5 142.8,357.3 142.1,358.1 141.4,358.9 140.8,359.6 140.1,360.3 139.4,360.9 138.8,361.5 138.1,362.0 137.4,362.5 136.8,362.9 136.1,363.3 135.5,363.6 134.8,363.8 134.1,364.0 133.5,364.1 132.8,364.1 132.1,364.0 131.5,363.8 130.8,363.5 130.1,363.1 129.5,362.6 128.8,362.0 128.1,361.4 127.5,360.7 126.8,359.9 126.1,359.2 125.5,358.4 124.8,357.5 124.1,356.7 123.5,355.9 122.8,355.1 122.1,354.3 121.5,353.5 120.8,352.8 120.1,352.1 119.5,351.5 118.8,350.8 118.2,350.2 117.5,349.5 116.8,348.7 116.2,348.0 115.5,347.3 114.8,346.6 114.2,345.9 113.5,345.2 112.8,344.6 112.2,344.0 111.5,343.4 110.8,342.8 110.2,342.3 109.5,341.9 108.8,341.5 108.2,341.1 107.5,340.7 106.8,340.3 106.2,340.0 105.5,339.7 104.8,339.4 104.2,339.1 103.5,338.8 102.8,338.5 102.2,338.2 101.5,338.0 100.9,337.7 100.2,337.5 99.5,337.2 98.9,337.0 98.2,336.7 97.5,336.5 96.9,336.2 96.2,336.0 95.5,335.7 94.9,335.4 94.2,335.2 93.5,334.9 92.9,334.6 92.2,334.3 91.5,334.0 90.9,333.6 90.2,333.3 89.5,332.9 88.9,332.6 88.2,332.2 87.5,331.9 86.9,331.5 86.2,331.1 85.5,330.7 84.9,330.3 84.2,329.9 83.6,329.5 82.9,329.1 82.2,328.7 81.6,328.3 80.9,327.8 80.2,327.4 79.6,327.0 78.9,326.6 78.2,326.1 77.6,325.7 76.9,325.2 76.2,324.8 75.6,324.4 74.9,323.9 74.2,323.5 73.6,323.0 72.9,322.6 72.2,322.1 71.6,321.6 70.9,321.2 70.2,320.7 69.6,320.1 68.9,319.6 68.2,319.0 67.6,318.4 66.9,317.7 66.3,317.1 65.6,316.5 64.9,315.8 64.3,315.1 63.6,314.5 62.9,313.8 62.3,313.1 61.6,312.4 60.9,311.8 60.3,311.1 59.6,310.4 58.9,309.8 58.3,309.2 57.6,308.5 56.9,307.9 56.3,307.4 55.6,306.8 54.9,306.3 54.3,305.8 53.6,305.3 52.9,304.9 52.3,304.5 51.6,304.1 50.9,303.8 50.3,303.5 49.6,303.3 49.0,303.1 48.3,303.0 47.6,302.9 47.0,302.9 46.3,302.9 45.6,303.0 45.0,303.0 44.3,303.2 43.6,303.3 43.0,303.5 42.3,303.7 41.6,303.9 41.0,304.2 40.3,304.5 39.6,304.8 39.0,305.2 38.3,305.6 37.6,306.0 37.0,306.4 36.3,306.9 35.6,307.4 35.0,307.9 34.3,308.5 33.6,309.1 33.0,309.7 32.3,310.4 31.7,311.1 31.0,311.8 30.3,312.5 29.7,313.3 29.0,314.1 28.3,314.9 27.7,315.7 27.0,316.6 26.3,317.5 25.7,318.4 25.0,319.4"/></clipPath>
<g opacity="0.65">
<polygon points="25.0,299.4 25.7,298.3 26.3,297.1 27.0,296.1 27.7,295.1 28.3,294.1 29.0,293.1 29.7,292.2 30.3,291.4 31.0,290.5 31.7,289.7 32.3,289.0 33.0,288.3 33.6,287.6 34.3,287.0 35.0,286.4 35.6,285.8 36.3,285.3 37.0,284.8 37.6,284.3 38.3,283.9 39.0,283.5 39.6,283.1 40.3,282.8 41.0,282.5 41.6,282.3 42.3,282.0 43.0,281.8 43.6,281.7 44.3,281.5 45.0,281.4 45.6,281.4 46.3,281.3 47.0,281.3 47.6,281.3 48.3,281.5 49.0,281.7 49.6,281.9 50.3,282.3 50.9,282.7 51.6,283.1 52.3,283.7 52.9,284.2 53.6,284.8 54.3,285.5 54.9,286.2 55.6,286.9 56.3,287.7 56.9,288.5 57.6,289.3 58.3,290.1 58.9,291.0 59.6,291.8 60.3,292.7 60.9,293.6 61.6,294.4 62.3,295.2 62.9,296.1 63.6,296.9 64.3,297.7 64.9,298.4 65.6,299.2 66.3,299.9 66.9,300.5 67.6,301.2 68.2,301.8 68.9,302.5 69.6,303.2 70.2,303.9 70.9,304.7 71.6,305.4 72.2,306.2 72.9,306.9 73.6,307.7 74.2,308.4 74.9,309.2 75.6,309.9 76.2,310.6 76.9,311.4 77.6,312.1 78.2,312.7 78.9,313.4 79.6,314.0 80.2,314.6 80.9,315.2 81.6,315.7 82.2,316.2 82.9,316.7 83.6,317.1 84.2,317.5 84.9,317.8 85.5,318.1 86.2,318.3 86.9,318.5 87.5,318.7 88.2,318.8 88.9,319.0 89.5,319.1 90.2,319.2 90.9,319.3 91.5,319.4 92.2,319.5 92.9,319.6 93.5,319.7 94.2,319.8 94.9,320.0 95.5,320.1 96.2,320.2 96.9,320.4 97.5,320.6 98.2,320.8 98.9,321.0 99.5,321.2 100.2,321.5 100.9,321.8 101.5,322.1 102.2,322.4 102.8,322.7 103.5,323.0 104.2,323.4 104.8,323.8 105.5,324.1 106.2,324.5 106.8,324.9 107.5,325.3 108.2,325.8 108.8,326.2 109.5,326.6 110.2,327.0 110.8,327.5 111.5,327.9 112.2,328.4 112.8,328.8 113.5,329.3 114.2,329.7 114.8,330.2 115.5,330.6 116.2,331.0 116.8,331.5 117.5,331.9 118.2,332.3 118.8,332.8 119.5,333.2 120.1,333.6 120.8,334.0 121.5,334.5 122.1,335.0 122.8,335.5 123.5,336.1 124.1,336.7 124.8,337.2 125.5,337.8 126.1,338.3 126.8,338.9 127.5,339.4 128.1,339.9 128.8,340.3 129.5,340.7 130.1,341.1 130.8,341.4 131.5,341.6 132.1,341.7 132.8,341.8 133.5,341.8 134.1,341.7 134.8,341.6 135.5,341.4 136.1,341.1 136.8,340.8 137.4,340.5 138.1,340.1 138.8,339.7 139.4,339.2 140.1,338.7 140.8,338.1 141.4,337.5 142.1,336.9 142.8,336.2 143.4,335.5 144.1,334.8 144.8,334.0 145.4,333.3 146.1,332.5 146.8,331.7 147.4,330.9 148.1,330.1 148.8,329.2 149.4,328.4 150.1,327.5 150.8,326.7 151.4,325.8 152.1,325.0 152.8,324.1 153.4,323.3 154.1,322.5 154.7,321.7 155.4,320.9 156.1,320.1 156.7,319.3 157.4,318.6 158.1,317.9 158.7,317.2 159.4,316.5 160.1,315.9 160.7,315.3 161.4,314.7 162.1,314.2 162.7,313.7 163.4,313.3 164.1,312.9 164.7,312.5 165.4,312.2 166.1,311.9 166.7,311.6 167.4,311.3 168.1,311.0 168.7,310.7 169.4,310.4 170.1,310.1 170.7,309.8 171.4,309.5 172.0,309.3 172.7,309.0 173.4,308.7 174.0,308.4 174.7,308.1 175.4,307.9 176.0,307.6 176.7,307.3 177.4,307.1 178.0,306.8 178.7,306.6 179.4,306.3 180.0,306.1 180.7,305.9 181.4,305.7 182.0,305.4 182.7,305.2 183.4,305.0 184.0,304.8 184.7,304.7 185.4,304.5 186.0,304.3 186.7,304.1 187.4,304.0 188.0,303.9 188.7,303.7 189.3,303.6 190.0,303.5 190.7,303.4 191.3,303.3 192.0,303.2 192.7,303.2 193.3,303.1 194.0,303.1 194.7,303.0 195.3,303.0 196.0,303.0 196.0,318.2 195.3,318.2 194.7,318.2 194.0,318.3 193.3,318.3 192.7,318.4 192.0,318.4 191.3,318.5 190.7,318.6 190.0,318.7 189.3,318.9 188.7,319.0 188.0,319.2 187.4,319.3 186.7,319.5 186.0,319.7 185.4,319.8 184.7,320.0 184.0,320.2 183.4,320.5 182.7,320.7 182.0,320.9 181.4,321.2 180.7,321.4 180.0,321.7 179.4,321.9 178.7,322.2 178.0,322.5 177.4,322.8 176.7,323.0 176.0,323.3 175.4,323.6 174.7,323.9 174.0,324.3 173.4,324.6 172.7,324.9 172.0,325.2 171.4,325.5 170.7,325.9 170.1,326.2 169.4,326.5 168.7,326.9 168.1,327.2 167.4,327.6 166.7,327.9 166.1,328.2 165.4,328.6 164.7,328.9 164.1,329.3 163.4,329.8 162.7,330.3 162.1,330.9 161.4,331.5 160.7,332.2 160.1,332.9 159.4,333.6 158.7,334.4 158.1,335.3 157.4,336.1 156.7,337.0 156.1,337.9 155.4,338.9 154.7,339.8 154.1,340.8 153.4,341.8 152.8,342.8 152.1,343.8 151.4,344.8 150.8,345.8 150.1,346.9 149.4,347.9 148.8,348.9 148.1,349.9 147.4,350.9 146.8,351.9 146.1,352.8 145.4,353.8 144.8,354.7 144.1,355.6 143.4,356.5 142.8,357.3 142.1,358.1 141.4,358.9 140.8,359.6 140.1,360.3 139.4,360.9 138.8,361.5 138.1,362.0 137.4,362.5 136.8,362.9 136.1,363.3 135.5,363.6 134.8,363.8 134.1,364.0 133.5,364.1 132.8,364.1 132.1,364.0 131.5,363.8 130.8,363.5 130.1,363.1 129.5,362.6 128.8,362.0 128.1,361.4 127.5,360.7 126.8,359.9 126.1,359.2 125.5,358.4 124.8,357.5 124.1,356.7 123.5,355.9 122.8,355.1 122.1,354.3 121.5,353.5 120.8,352.8 120.1,352.1 119.5,351.5 118.8,350.8 118.2,350.2 117.5,349.5 116.8,348.7 116.2,348.0 115.5,347.3 114.8,346.6 114.2,345.9 113.5,345.2 112.8,344.6 112.2,344.0 111.5,343.4 110.8,342.8 110.2,342.3 109.5,341.9 108.8,341.5 108.2,341.1 107.5,340.7 106.8,340.3 106.2,340.0 105.5,339.7 104.8,339.4 104.2,339.1 103.5,338.8 102.8,338.5 102.2,338.2 101.5,338.0 100.9,337.7 100.2,337.5 99.5,337.2 98.9,337.0 98.2,336.7 97.5,336.5 96.9,336.2 96.2,336.0 95.5,335.7 94.9,335.4 94.2,335.2 93.5,334.9 92.9,334.6 92.2,334.3 91.5,334.0 90.9,333.6 90.2,333.3 89.5,332.9 88.9,332.6 88.2,332.2 87.5,331.9 86.9,331.5 86.2,331.1 85.5,330.7 84.9,330.3 84.2,329.9 83.6,329.5 82.9,329.1 82.2,328.7 81.6,328.3 80.9,327.8 80.2,327.4 79.6,327.0 78.9,326.6 78.2,326.1 77.6,325.7 76.9,325.2 76.2,324.8 75.6,324.4 74.9,323.9 74.2,323.5 73.6,323.0 72.9,322.6 72.2,322.1 71.6,321.6 70.9,321.2 70.2,320.7 69.6,320.1 68.9,319.6 68.2,319.0 67.6,318.4 66.9,317.7 66.3,317.1 65.6,316.5 64.9,315.8 64.3,315.1 63.6,314.5 62.9,313.8 62.3,313.1 61.6,312.4 60.9,311.8 60.3,311.1 59.6,310.4 58.9,309.8 58.3,309.2 57.6,308.5 56.9,307.9 56.3,307.4 55.6,306.8 54.9,306.3 54.3,305.8 53.6,305.3 52.9,304.9 52.3,304.5 51.6,304.1 50.9,303.8 50.3,303.5 49.6,303.3 49.0,303.1 48.3,303.0 47.6,302.9 47.0,302.9 46.3,302.9 45.6,303.0 45.0,303.0 44.3,303.2 43.6,303.3 43.0,303.5 42.3,303.7 41.6,303.9 41.0,304.2 40.3,304.5 39.6,304.8 39.0,305.2 38.3,305.6 37.6,306.0 37.0,306.4 36.3,306.9 35.6,307.4 35.0,307.9 34.3,308.5 33.6,309.1 33.0,309.7 32.3,310.4 31.7,311.1 31.0,311.8 30.3,312.5 29.7,313.3 29.0,314.1 28.3,314.9 27.7,315.7 27.0,316.6 26.3,317.5 25.7,318.4 25.0,319.4" fill="rgb(195,195,249)"/>
<polygon points="25.0,304.1 25.7,303.7 26.3,303.4 27.0,303.1 27.7,302.7 28.3,302.4 29.0,302.1 29.7,301.8 30.3,301.5 31.0,301.3 31.7,301.0 32.3,300.8 33.0,300.5 33.6,300.3 34.3,300.1 35.0,299.8 35.6,299.6 36.3,299.4 37.0,299.3 37.6,299.1 38.3,298.9 39.0,298.8 39.6,298.6 40.3,298.5 41.0,298.4 41.6,298.3 42.3,298.2 43.0,298.1 43.6,298.0 44.3,298.0 45.0,297.9 45.6,297.9 46.3,297.8 47.0,297.8 47.6,297.8 48.3,297.8 49.0,297.8 49.6,297.9 50.3,297.9 50.9,298.0 51.6,298.1 52.3,298.2 52.9,298.3 53.6,298.5 54.3,298.6 54.9,298.8 55.6,299.0 56.3,299.2 56.9,299.4 57.6,299.7 58.3,299.9 58.9,300.2 59.6,300.4 60.3,300.7 60.9,301.0 61.6,301.3 62.3,301.6 62.9,302.0 63.6,302.3 64.3,302.6 64.9,303.0 65.6,303.4 66.3,303.7 66.9,304.1 67.6,304.5 68.2,304.9 68.9,305.3 69.6,305.7 70.2,306.1 70.9,306.5 71.6,306.9 72.2,307.3 72.9,307.7 73.6,308.1 74.2,308.6 74.9,309.0 75.6,309.4 76.2,309.8 76.9,310.3 77.6,310.7 78.2,311.1 78.9,311.6 79.6,312.0 80.2,312.4 80.9,312.8 81.6,313.2 82.2,313.6 82.9,314.0 83.6,314.4 84.2,314.8 84.9,315.2 85.5,315.6 86.2,316.0 86.9,316.4 87.5,316.7 88.2,317.1 88.9,317.4 89.5,317.8 90.2,318.1 90.9,318.4 91.5,318.8 92.2,319.1 92.9,319.5 93.5,319.8 94.2,320.2 94.9,320.5 95.5,320.9 96.2,321.2 96.9,321.6 97.5,321.9 98.2,322.2 98.9,322.5 99.5,322.8 100.2,323.1 100.9,323.4 101.5,323.6 102.2,323.9 102.8,324.2 103.5,324.5 104.2,324.8 104.8,325.1 105.5,325.4 106.2,325.7 106.8,326.0 107.5,326.3 108.2,326.6 108.8,326.9 109.5,327.2 110.2,327.5 110.8,327.8 111.5,328.1 112.2,328.4 112.8,328.7 113.5,328.9 114.2,329.2 114.8,329.5 115.5,329.7 116.2,330.0 116.8,330.2 117.5,330.5 118.2,330.7 118.8,330.9 119.5,331.2 120.1,331.4 120.8,331.6 121.5,331.8 122.1,331.9 122.8,332.1 123.5,332.2 124.1,332.4 124.8,332.5 125.5,332.6 126.1,332.7 126.8,332.8 127.5,332.9 128.1,332.9 128.8,333.0 129.5,333.0 130.1,333.0 130.8,332.9 131.5,332.8 132.1,332.6 132.8,332.4 133.5,332.1 134.1,331.8 134.8,331.4 135.5,330.9 136.1,330.4 136.8,329.9 137.4,329.4 138.1,328.8 138.8,328.2 139.4,327.6 140.1,327.0 140.8,326.4 141.4,325.8 142.1,325.1 142.8,324.5 143.4,323.9 144.1,323.3 144.8,322.7 145.4,322.2 146.1,321.7 146.8,321.2 147.4,320.7 148.1,320.2 148.8,319.7 149.4,319.2 150.1,318.7 150.8,318.1 151.4,317.6 152.1,317.1 152.8,316.5 153.4,316.0 154.1,315.5 154.7,315.0 155.4,314.5 156.1,314.1 156.7,313.6 157.4,313.2 158.1,312.9 158.7,312.5 159.4,312.2 160.1,312.0 160.7,311.7 161.4,311.5 162.1,311.3 162.7,311.1 163.4,310.9 164.1,310.7 164.7,310.5 165.4,310.4 166.1,310.2 166.7,310.0 167.4,309.9 168.1,309.7 168.7,309.6 169.4,309.4 170.1,309.3 170.7,309.1 171.4,309.0 172.0,308.9 172.7,308.8 173.4,308.6 174.0,308.5 174.7,308.4 175.4,308.3 176.0,308.2 176.7,308.1 177.4,307.9 178.0,307.8 178.7,307.7 179.4,307.6 180.0,307.5 180.7,307.4 181.4,307.3 182.0,307.2 182.7,307.1 183.4,307.0 184.0,306.8 184.7,306.7 185.4,306.6 186.0,306.5 186.7,306.4 187.4,306.4 188.0,306.3 188.7,306.2 189.3,306.1 190.0,306.0 190.7,305.9 191.3,305.8 192.0,305.7 192.7,305.7 193.3,305.6 194.0,305.5 194.7,305.4 195.3,305.4 196.0,305.3 196.0,323.0 195.3,323.0 194.7,323.0 194.0,323.0 193.3,323.0 192.7,323.0 192.0,323.0 191.3,323.0 190.7,323.0 190.0,323.0 189.3,323.1 188.7,323.1 188.0,323.1 187.4,323.1 186.7,323.1 186.0,323.1 185.4,323.1 184.7,323.2 184.0,323.2 183.4,323.2 182.7,323.2 182.0,323.2 181.4,323.3 180.7,323.3 180.0,323.3 179.4,323.3 178.7,323.4 178.0,323.4 177.4,323.4 176.7,323.4 176.0,323.5 175.4,323.5 174.7,323.5 174.0,323.6 173.4,323.6 172.7,323.6 172.0,323.7 171.4,323.7 170.7,323.7 170.1,323.8 169.4,323.8 168.7,323.9 168.1,323.9 167.4,323.9 166.7,324.0 166.1,324.0 165.4,324.1 164.7,324.1 164.1,324.2 163.4,324.4 162.7,324.7 162.1,325.0 161.4,325.3 160.7,325.7 160.1,326.2 159.4,326.7 158.7,327.3 158.1,327.9 157.4,328.6 156.7,329.3 156.1,330.0 155.4,330.8 154.7,331.5 154.1,332.4 153.4,333.2 152.8,334.0 152.1,334.9 151.4,335.8 150.8,336.7 150.1,337.6 149.4,338.5 148.8,339.4 148.1,340.3 147.4,341.2 146.8,342.1 146.1,343.0 145.4,343.8 144.8,344.7 144.1,345.5 143.4,346.3 142.8,347.1 142.1,347.8 141.4,348.6 140.8,349.2 140.1,349.9 139.4,350.5 138.8,351.0 138.1,351.5 137.4,352.0 136.8,352.4 136.1,352.7 135.5,353.0 134.8,353.2 134.1,353.4 133.5,353.5 132.8,353.5 132.1,353.4 131.5,353.3 130.8,353.1 130.1,352.9 129.5,352.6 128.8,352.3 128.1,352.0 127.5,351.6 126.8,351.1 126.1,350.7 125.5,350.2 124.8,349.8 124.1,349.3 123.5,348.8 122.8,348.3 122.1,347.9 121.5,347.4 120.8,347.0 120.1,346.6 119.5,346.2 118.8,345.8 118.2,345.4 117.5,344.9 116.8,344.4 116.2,344.0 115.5,343.5 114.8,343.0 114.2,342.5 113.5,342.0 112.8,341.5 112.2,341.0 111.5,340.5 110.8,340.0 110.2,339.5 109.5,339.0 108.8,338.5 108.2,338.1 107.5,337.6 106.8,337.1 106.2,336.7 105.5,336.3 104.8,335.9 104.2,335.5 103.5,335.1 102.8,334.7 102.2,334.4 101.5,334.1 100.9,333.8 100.2,333.6 99.5,333.3 98.9,333.1 98.2,333.0 97.5,332.8 96.9,332.6 96.2,332.5 95.5,332.3 94.9,332.2 94.2,332.0 93.5,331.9 92.9,331.8 92.2,331.6 91.5,331.4 90.9,331.3 90.2,331.1 89.5,330.9 88.9,330.6 88.2,330.4 87.5,330.1 86.9,329.8 86.2,329.5 85.5,329.2 84.9,328.8 84.2,328.5 83.6,328.1 82.9,327.8 82.2,327.4 81.6,327.0 80.9,326.6 80.2,326.1 79.6,325.7 78.9,325.3 78.2,324.8 77.6,324.4 76.9,323.9 76.2,323.4 75.6,323.0 74.9,322.5 74.2,322.0 73.6,321.5 72.9,321.1 72.2,320.6 71.6,320.1 70.9,319.6 70.2,319.1 69.6,318.7 68.9,318.2 68.2,317.7 67.6,317.2 66.9,316.8 66.3,316.3 65.6,315.9 64.9,315.4 64.3,315.0 63.6,314.6 62.9,314.1 62.3,313.7 61.6,313.3 60.9,312.9 60.3,312.6 59.6,312.2 58.9,311.9 58.3,311.5 57.6,311.2 56.9,310.9 56.3,310.6 55.6,310.4 54.9,310.1 54.3,309.9 53.6,309.7 52.9,309.5 52.3,309.3 51.6,309.2 50.9,309.1 50.3,309.0 49.6,308.9 49.0,308.8 48.3,308.8 47.6,308.8 47.0,308.8 46.3,308.9 45.6,309.0 45.0,309.1 44.3,309.2 43.6,309.3 43.0,309.5 42.3,309.7 41.6,309.9 41.0,310.1 40.3,310.4 39.6,310.6 39.0,310.9 38.3,311.2 37.6,311.6 37.0,311.9 36.3,312.3 35.6,312.6 35.0,313.0 34.3,313.5 33.6,313.9 33.0,314.3 32.3,314.8 31.7,315.2 31.0,315.7 30.3,316.2 29.7,316.7 29.0,317.3 28.3,317.8 27.7,318.3 27.0,318.9 26.3,319.4 25.7,320.0 25.0,320.6" fill="rgb(250,227,210)"/>
<polygon points="25.0,304.1 25.7,303.7 26.3,303.4 27.0,303.1 27.7,302.7 28.3,302.4 29.0,302.1 29.7,301.8 30.3,301.5 31.0,301.3 31.7,301.0 32.3,300.8 33.0,300.5 33.6,300.3 34.3,300.1 35.0,299.8 35.6,299.6 36.3,299.4 37.0,299.3 37.6,299.1 38.3,298.9 39.0,298.8 39.6,298.6 40.3,298.5 41.0,298.4 41.6,298.3 42.3,298.2 43.0,298.1 43.6,298.0 44.3,298.0 45.0,297.9 45.6,297.9 46.3,297.8 47.0,297.8 47.6,297.8 48.3,297.8 49.0,297.8 49.6,297.9 50.3,297.9 50.9,298.0 51.6,298.1 52.3,298.2 52.9,298.3 53.6,298.5 54.3,298.6 54.9,298.8 55.6,299.0 56.3,299.2 56.9,299.4 57.6,299.7 58.3,299.9 58.9,300.2 59.6,300.4 60.3,300.7 60.9,301.0 61.6,301.3 62.3,301.6 62.9,302.0 63.6,302.3 64.3,302.6 64.9,303.0 65.6,303.4 66.3,303.7 66.9,304.1 67.6,304.5 68.2,304.9 68.9,305.3 69.6,305.7 70.2,306.1 70.9,306.5 71.6,306.9 72.2,307.3 72.9,307.7 73.6,308.1 74.2,308.6 74.9,309.0 75.6,309.4 76.2,309.8 76.9,310.3 77.6,310.7 78.2,311.1 78.9,311.6 79.6,312.0 80.2,312.4 80.9,312.8 81.6,313.2 82.2,313.6 82.9,314.0 83.6,314.4 84.2,314.8 84.9,315.2 85.5,315.6 86.2,316.0 86.9,316.4 87.5,316.7 88.2,317.1 88.9,317.4 89.5,317.8 90.2,318.1 90.9,318.4 91.5,318.8 92.2,319.1 92.9,319.5 93.5,319.8 94.2,320.2 94.9,320.5 95.5,320.9 96.2,321.2 96.9,321.6 97.5,321.9 98.2,322.2 98.9,322.5 99.5,322.8 100.2,323.1 100.9,323.4 101.5,323.6 102.2,323.9 102.8,324.2 103.5,324.5 104.2,324.8 104.8,325.1 105.5,325.4 106.2,325.7 106.8,326.0 107.5,326.3 108.2,326.6 108.8,326.9 109.5,327.2 110.2,327.5 110.8,327.8 111.5,328.1 112.2,328.4 112.8,328.7 113.5,328.9 114.2,329.2 114.8,329.5 115.5,329.7 116.2,330.0 116.8,330.2 117.5,330.5 118.2,330.7 118.8,330.9 119.5,331.2 120.1,331.4 120.8,331.6 121.5,331.8 122.1,331.9 122.8,332.1 123.5,332.2 124.1,332.4 124.8,332.5 125.5,332.6 126.1,332.7 126.8,332.8 127.5,332.9 128.1,332.9 128.8,333.0 129.5,333.0 130.1,333.0 130.8,332.9 131.5,332.8 132.1,332.6 132.8,332.4 133.5,332.1 134.1,331.8 134.8,331.4 135.5,330.9 136.1,330.4 136.8,329.9 137.4,329.4 138.1,328.8 138.8,328.2 139.4,327.6 140.1,327.0 140.8,326.4 141.4,325.8 142.1,325.1 142.8,324.5 143.4,323.9 144.1,323.3 144.8,322.7 145.4,322.2 146.1,321.7 146.8,321.2 147.4,320.7 148.1,320.2 148.8,319.7 149.4,319.2 150.1,318.7 150.8,318.1 151.4,317.6 152.1,317.1 152.8,316.5 153.4,316.0 154.1,315.5 154.7,315.0 155.4,314.5 156.1,314.1 156.7,313.6 157.4,313.2 158.1,312.9 158.7,312.5 159.4,312.2 160.1,312.0 160.7,311.7 161.4,311.5 162.1,311.3 162.7,311.1 163.4,310.9 164.1,310.7 164.7,310.5 165.4,310.4 166.1,310.2 166.7,310.0 167.4,309.9 168.1,309.7 168.7,309.6 169.4,309.4 170.1,309.3 170.7,309.1 171.4,309.0 172.0,308.9 172.7,308.8 173.4,308.6 174.0,308.5 174.7,308.4 175.4,308.3 176.0,308.2 176.7,308.1 177.4,307.9 178.0,307.8 178.7,307.7 179.4,307.6 180.0,307.5 180.7,307.4 181.4,307.3 182.0,307.2 182.7,307.1 183.4,307.0 184.0,306.8 184.7,306.7 185.4,306.6 186.0,306.5 186.7,306.4 187.4,306.4 188.0,306.3 188.7,306.2 189.3,306.1 190.0,306.0 190.7,305.9 191.3,305.8 192.0,305.7 192.7,305.7 193.3,305.6 194.0,305.5 194.7,305.4 195.3,305.4 196.0,305.3 196.0,323.0 195.3,323.0 194.7,323.0 194.0,323.0 193.3,323.0 192.7,323.0 192.0,323.0 191.3,323.0 190.7,323.0 190.0,323.0 189.3,323.1 188.7,323.1 188.0,323.1 187.4,323.1 186.7,323.1 186.0,323.1 185.4,323.1 184.7,323.2 184.0,323.2 183.4,323.2 182.7,323.2 182.0,323.2 181.4,323.3 180.7,323.3 180.0,323.3 179.4,323.3 178.7,323.4 178.0,323.4 177.4,323.4 176.7,323.4 176.0,323.5 175.4,323.5 174.7,323.5 174.0,323.6 173.4,323.6 172.7,323.6 172.0,323.7 171.4,323.7 170.7,323.7 170.1,323.8 169.4,323.8 168.7,323.9 168.1,323.9 167.4,323.9 166.7,324.0 166.1,324.0 165.4,324.1 164.7,324.1 164.1,324.2 163.4,324.4 162.7,324.7 162.1,325.0 161.4,325.3 160.7,325.7 160.1,326.2 159.4,326.7 158.7,327.3 158.1,327.9 157.4,328.6 156.7,329.3 156.1,330.0 155.4,330.8 154.7,331.5 154.1,332.4 153.4,333.2 152.8,334.0 152.1,334.9 151.4,335.8 150.8,336.7 150.1,337.6 149.4,338.5 148.8,339.4 148.1,340.3 147.4,341.2 146.8,342.1 146.1,343.0 145.4,343.8 144.8,344.7 144.1,345.5 143.4,346.3 142.8,347.1 142.1,347.8 141.4,348.6 140.8,349.2 140.1,349.9 139.4,350.5 138.8,351.0 138.1,351.5 137.4,352.0 136.8,352.4 136.1,352.7 135.5,353.0 134.8,353.2 134.1,353.4 133.5,353.5 132.8,353.5 132.1,353.4 131.5,353.3 130.8,353.1 130.1,352.9 129.5,352.6 128.8,352.3 128.1,352.0 127.5,351.6 126.8,351.1 126.1,350.7 125.5,350.2 124.8,349.8 124.1,349.3 123.5,348.8 122.8,348.3 122.1,347.9 121.5,347.4 120.8,347.0 120.1,346.6 119.5,346.2 118.8,345.8 118.2,345.4 117.5,344.9 116.8,344.4 116.2,344.0 115.5,343.5 114.8,343.0 114.2,342.5 113.5,342.0 112.8,341.5 112.2,341.0 111.5,340.5 110.8,340.0 110.2,339.5 109.5,339.0 108.8,338.5 108.2,338.1 107.5,337.6 106.8,337.1 106.2,336.7 105.5,336.3 104.8,335.9 104.2,335.5 103.5,335.1 102.8,334.7 102.2,334.4 101.5,334.1 100.9,333.8 100.2,333.6 99.5,333.3 98.9,333.1 98.2,333.0 97.5,332.8 96.9,332.6 96.2,332.5 95.5,332.3 94.9,332.2 94.2,332.0 93.5,331.9 92.9,331.8 92.2,331.6 91.5,331.4 90.9,331.3 90.2,331.1 89.5,330.9 88.9,330.6 88.2,330.4 87.5,330.1 86.9,329.8 86.2,329.5 85.5,329.2 84.9,328.8 84.2,328.5 83.6,328.1 82.9,327.8 82.2,327.4 81.6,327.0 80.9,326.6 80.2,326.1 79.6,325.7 78.9,325.3 78.2,324.8 77.6,324.4 76.9,323.9 76.2,323.4 75.6,323.0 74.9,322.5 74.2,322.0 73.6,321.5 72.9,321.1 72.2,320.6 71.6,320.1 70.9,319.6 70.2,319.1 69.6,318.7 68.9,318.2 68.2,317.7 67.6,317.2 66.9,316.8 66.3,316.3 65.6,315.9 64.9,315.4 64.3,315.0 63.6,314.6 62.9,314.1 62.3,313.7 61.6,313.3 60.9,312.9 60.3,312.6 59.6,312.2 58.9,311.9 58.3,311.5 57.6,311.2 56.9,310.9 56.3,310.6 55.6,310.4 54.9,310.1 54.3,309.9 53.6,309.7 52.9,309.5 52.3,309.3 51.6,309.2 50.9,309.1 50.3,309.0 49.6,308.9 49.0,308.8 48.3,308.8 47.6,308.8 47.0,308.8 46.3,308.9 45.6,309.0 45.0,309.1 44.3,309.2 43.6,309.3 43.0,309.5 42.3,309.7 41.6,309.9 41.0,310.1 40.3,310.4 39.6,310.6 39.0,310.9 38.3,311.2 37.6,311.6 37.0,311.9 36.3,312.3 35.6,312.6 35.0,313.0 34.3,313.5 33.6,313.9 33.0,314.3 32.3,314.8 31.7,315.2 31.0,315.7 30.3,316.2 29.7,316.7 29.0,317.3 28.3,317.8 27.7,318.3 27.0,318.9 26.3,319.4 25.7,320.0 25.0,320.6" fill="rgb(226,192,226)" clip-path="url(#clp3)"/>
<polyline points="25.0,299.4 25.7,298.3 26.3,297.1 27.0,296.1 27.7,295.1 28.3,294.1 29.0,293.1 29.7,292.2 30.3,291.4 31.0,290.5 31.7,289.7 32.3,289.0 33.0,288.3 33.6,287.6 34.3,287.0 35.0,286.4 35.6,285.8 36.3,285.3 37.0,284.8 37.6,284.3 38.3,283.9 39.0,283.5 39.6,283.1 40.3,282.8 41.0,282.5 41.6,282.3 42.3,282.0 43.0,281.8 43.6,281.7 44.3,281.5 45.0,281.4 45.6,281.4 46.3,281.3 47.0,281.3 47.6,281.3 48.3,281.5 49.0,281.7 49.6,281.9 50.3,282.3 50.9,282.7 51.6,283.1 52.3,283.7 52.9,284.2 53.6,284.8 54.3,285.5 54.9,286.2 55.6,286.9 56.3,287.7 56.9,288.5 57.6,289.3 58.3,290.1 58.9,291.0 59.6,291.8 60.3,292.7 60.9,293.6 61.6,294.4 62.3,295.2 62.9,296.1 63.6,296.9 64.3,297.7 64.9,298.4 65.6,299.2 66.3,299.9 66.9,300.5 67.6,301.2 68.2,301.8 68.9,302.5 69.6,303.2 70.2,303.9 70.9,304.7 71.6,305.4 72.2,306.2 72.9,306.9 73.6,307.7 74.2,308.4 74.9,309.2 75.6,309.9 76.2,310.6 76.9,311.4 77.6,312.1 78.2,312.7 78.9,313.4 79.6,314.0 80.2,314.6 80.9,315.2 81.6,315.7 82.2,316.2 82.9,316.7 83.6,317.1 84.2,317.5 84.9,317.8 85.5,318.1 86.2,318.3 86.9,318.5 87.5,318.7 88.2,318.8 88.9,319.0 89.5,319.1 90.2,319.2 90.9,319.3 91.5,319.4 92.2,319.5 92.9,319.6 93.5,319.7 94.2,319.8 94.9,320.0 95.5,320.1 96.2,320.2 96.9,320.4 97.5,320.6 98.2,320.8 98.9,321.0 99.5,321.2 100.2,321.5 100.9,321.8 101.5,322.1 102.2,322.4 102.8,322.7 103.5,323.0 104.2,323.4 104.8,323.8 105.5,324.1 106.2,324.5 106.8,324.9 107.5,325.3 108.2,325.8 108.8,326.2 109.5,326.6 110.2,327.0 110.8,327.5 111.5,327.9 112.2,328.4 112.8,328.8 113.5,329.3 114.2,329.7 114.8,330.2 115.5,330.6 116.2,331.0 116.8,331.5 117.5,331.9 118.2,332.3 118.8,332.8 119.5,333.2 120.1,333.6 120.8,334.0 121.5,334.5 122.1,335.0 122.8,335.5 123.5,336.1 124.1,336.7 124.8,337.2 125.5,337.8 126.1,338.3 126.8,338.9 127.5,339.4 128.1,339.9 128.8,340.3 129.5,340.7 130.1,341.1 130.8,341.4 131.5,341.6 132.1,341.7 132.8,341.8 133.5,341.8 134.1,341.7 134.8,341.6 135.5,341.4 136.1,341.1 136.8,340.8 137.4,340.5 138.1,340.1 138.8,339.7 139.4,339.2 140.1,338.7 140.8,338.1 141.4,337.5 142.1,336.9 142.8,336.2 143.4,335.5 144.1,334.8 144.8,334.0 145.4,333.3 146.1,332.5 146.8,331.7 147.4,330.9 148.1,330.1 148.8,329.2 149.4,328.4 150.1,327.5 150.8,326.7 151.4,325.8 152.1,325.0 152.8,324.1 153.4,323.3 154.1,322.5 154.7,321.7 155.4,320.9 156.1,320.1 156.7,319.3 157.4,318.6 158.1,317.9 158.7,317.2 159.4,316.5 160.1,315.9 160.7,315.3 161.4,314.7 162.1,314.2 162.7,313.7 163.4,313.3 164.1,312.9 164.7,312.5 165.4,312.2 166.1,311.9 166.7,311.6 167.4,311.3 168.1,311.0 168.7,310.7 169.4,310.4 170.1,310.1 170.7,309.8 171.4,309.5 172.0,309.3 172.7,309.0 173.4,308.7 174.0,308.4 174.7,308.1 175.4,307.9 176.0,307.6 176.7,307.3 177.4,307.1 178.0,306.8 178.7,306.6 179.4,306.3 180.0,306.1 180.7,305.9 181.4,305.7 182.0,305.4 182.7,305.2 183.4,305.0 184.0,304.8 184.7,304.7 185.4,304.5 186.0,304.3 186.7,304.1 187.4,304.0 188.0,303.9 188.7,303.7 189.3,303.6 190.0,303.5 190.7,303.4 191.3,303.3 192.0,303.2 192.7,303.2 193.3,303.1 194.0,303.1 194.7,303.0 195.3,303.0 196.0,303.0" fill="none" stroke="rgb(135,135,246)" stroke-width="0.95"/>
<polyline points="25.0,319.4 25.7,318.4 26.3,317.5 27.0,316.6 27.7,315.7 28.3,314.9 29.0,314.1 29.7,313.3 30.3,312.5 31.0,311.8 31.7,311.1 32.3,310.4 33.0,309.7 33.6,309.1 34.3,308.5 35.0,307.9 35.6,307.4 36.3,306.9 37.0,306.4 37.6,306.0 38.3,305.6 39.0,305.2 39.6,304.8 40.3,304.5 41.0,304.2 41.6,303.9 42.3,303.7 43.0,303.5 43.6,303.3 44.3,303.2 45.0,303.0 45.6,303.0 46.3,302.9 47.0,302.9 47.6,302.9 48.3,303.0 49.0,303.1 49.6,303.3 50.3,303.5 50.9,303.8 51.6,304.1 52.3,304.5 52.9,304.9 53.6,305.3 54.3,305.8 54.9,306.3 55.6,306.8 56.3,307.4 56.9,307.9 57.6,308.5 58.3,309.2 58.9,309.8 59.6,310.4 60.3,311.1 60.9,311.8 61.6,312.4 62.3,313.1 62.9,313.8 63.6,314.5 64.3,315.1 64.9,315.8 65.6,316.5 66.3,317.1 66.9,317.7 67.6,318.4 68.2,319.0 68.9,319.6 69.6,320.1 70.2,320.7 70.9,321.2 71.6,321.6 72.2,322.1 72.9,322.6 73.6,323.0 74.2,323.5 74.9,323.9 75.6,324.4 76.2,324.8 76.9,325.2 77.6,325.7 78.2,326.1 78.9,326.6 79.6,327.0 80.2,327.4 80.9,327.8 81.6,328.3 82.2,328.7 82.9,329.1 83.6,329.5 84.2,329.9 84.9,330.3 85.5,330.7 86.2,331.1 86.9,331.5 87.5,331.9 88.2,332.2 88.9,332.6 89.5,332.9 90.2,333.3 90.9,333.6 91.5,334.0 92.2,334.3 92.9,334.6 93.5,334.9 94.2,335.2 94.9,335.4 95.5,335.7 96.2,336.0 96.9,336.2 97.5,336.5 98.2,336.7 98.9,337.0 99.5,337.2 100.2,337.5 100.9,337.7 101.5,338.0 102.2,338.2 102.8,338.5 103.5,338.8 104.2,339.1 104.8,339.4 105.5,339.7 106.2,340.0 106.8,340.3 107.5,340.7 108.2,341.1 108.8,341.5 109.5,341.9 110.2,342.3 110.8,342.8 111.5,343.4 112.2,344.0 112.8,344.6 113.5,345.2 114.2,345.9 114.8,346.6 115.5,347.3 116.2,348.0 116.8,348.7 117.5,349.5 118.2,350.2 118.8,350.8 119.5,351.5 120.1,352.1 120.8,352.8 121.5,353.5 122.1,354.3 122.8,355.1 123.5,355.9 124.1,356.7 124.8,357.5 125.5,358.4 126.1,359.2 126.8,359.9 127.5,360.7 128.1,361.4 128.8,362.0 129.5,362.6 130.1,363.1 130.8,363.5 131.5,363.8 132.1,364.0 132.8,364.1 133.5,364.1 134.1,364.0 134.8,363.8 135.5,363.6 136.1,363.3 136.8,362.9 137.4,362.5 138.1,362.0 138.8,361.5 139.4,360.9 140.1,360.3 140.8,359.6 141.4,358.9 142.1,358.1 142.8,357.3 143.4,356.5 144.1,355.6 144.8,354.7 145.4,353.8 146.1,352.8 146.8,351.9 147.4,350.9 148.1,349.9 148.8,348.9 149.4,347.9 150.1,346.9 150.8,345.8 151.4,344.8 152.1,343.8 152.8,342.8 153.4,341.8 154.1,340.8 154.7,339.8 155.4,338.9 156.1,337.9 156.7,337.0 157.4,336.1 158.1,335.3 158.7,334.4 159.4,333.6 160.1,332.9 160.7,332.2 161.4,331.5 162.1,330.9 162.7,330.3 163.4,329.8 164.1,329.3 164.7,328.9 165.4,328.6 166.1,328.2 166.7,327.9 167.4,327.6 168.1,327.2 168.7,326.9 169.4,326.5 170.1,326.2 170.7,325.9 171.4,325.5 172.0,325.2 172.7,324.9 173.4,324.6 174.0,324.3 174.7,323.9 175.4,323.6 176.0,323.3 176.7,323.0 177.4,322.8 178.0,322.5 178.7,322.2 179.4,321.9 180.0,321.7 180.7,321.4 181.4,321.2 182.0,320.9 182.7,320.7 183.4,320.5 184.0,320.2 184.7,320.0 185.4,319.8 186.0,319.7 186.7,319.5 187.4,319.3 188.0,319.2 188.7,319.0 189.3,318.9 190.0,318.7 190.7,318.6 191.3,318.5 192.0,318.4 192.7,318.4 193.3,318.3 194.0,318.3 194.7,318.2 195.3,318.2 196.0,318.2" fill="none" stroke="rgb(135,135,246)" stroke-width="0.95"/>
<polyline points="25.0,304.1 25.7,303.7 26.3,303.4 27.0,303.1 27.7,302.7 28.3,302.4 29.0,302.1 29.7,301.8 30.3,301.5 31.0,301.3 31.7,301.0 32.3,300.8 33.0,300.5 33.6,300.3 34.3,300.1 35.0,299.8 35.6,299.6 36.3,299.4 37.0,299.3 37.6,299.1 38.3,298.9 39.0,298.8 39.6,298.6 40.3,298.5 41.0,298.4 41.6,298.3 42.3,298.2 43.0,298.1 43.6,298.0 44.3,298.0 45.0,297.9 45.6,297.9 46.3,297.8 47.0,297.8 47.6,297.8 48.3,297.8 49.0,297.8 49.6,297.9 50.3,297.9 50.9,298.0 51.6,298.1 52.3,298.2 52.9,298.3 53.6,298.5 54.3,298.6 54.9,298.8 55.6,299.0 56.3,299.2 56.9,299.4 57.6,299.7 58.3,299.9 58.9,300.2 59.6,300.4 60.3,300.7 60.9,301.0 61.6,301.3 62.3,301.6 62.9,302.0 63.6,302.3 64.3,302.6 64.9,303.0 65.6,303.4 66.3,303.7 66.9,304.1 67.6,304.5 68.2,304.9 68.9,305.3 69.6,305.7 70.2,306.1 70.9,306.5 71.6,306.9 72.2,307.3 72.9,307.7 73.6,308.1 74.2,308.6 74.9,309.0 75.6,309.4 76.2,309.8 76.9,310.3 77.6,310.7 78.2,311.1 78.9,311.6 79.6,312.0 80.2,312.4 80.9,312.8 81.6,313.2 82.2,313.6 82.9,314.0 83.6,314.4 84.2,314.8 84.9,315.2 85.5,315.6 86.2,316.0 86.9,316.4 87.5,316.7 88.2,317.1 88.9,317.4 89.5,317.8 90.2,318.1 90.9,318.4 91.5,318.8 92.2,319.1 92.9,319.5 93.5,319.8 94.2,320.2 94.9,320.5 95.5,320.9 96.2,321.2 96.9,321.6 97.5,321.9 98.2,322.2 98.9,322.5 99.5,322.8 100.2,323.1 100.9,323.4 101.5,323.6 102.2,323.9 102.8,324.2 103.5,324.5 104.2,324.8 104.8,325.1 105.5,325.4 106.2,325.7 106.8,326.0 107.5,326.3 108.2,326.6 108.8,326.9 109.5,327.2 110.2,327.5 110.8,327.8 111.5,328.1 112.2,328.4 112.8,328.7 113.5,328.9 114.2,329.2 114.8,329.5 115.5,329.7 116.2,330.0 116.8,330.2 117.5,330.5 118.2,330.7 118.8,330.9 119.5,331.2 120.1,331.4 120.8,331.6 121.5,331.8 122.1,331.9 122.8,332.1 123.5,332.2 124.1,332.4 124.8,332.5 125.5,332.6 126.1,332.7 126.8,332.8 127.5,332.9 128.1,332.9 128.8,333.0 129.5,333.0 130.1,333.0 130.8,332.9 131.5,332.8 132.1,332.6 132.8,332.4 133.5,332.1 134.1,331.8 134.8,331.4 135.5,330.9 136.1,330.4 136.8,329.9 137.4,329.4 138.1,328.8 138.8,328.2 139.4,327.6 140.1,327.0 140.8,326.4 141.4,325.8 142.1,325.1 142.8,324.5 143.4,323.9 144.1,323.3 144.8,322.7 145.4,322.2 146.1,321.7 146.8,321.2 147.4,320.7 148.1,320.2 148.8,319.7 149.4,319.2 150.1,318.7 150.8,318.1 151.4,317.6 152.1,317.1 152.8,316.5 153.4,316.0 154.1,315.5 154.7,315.0 155.4,314.5 156.1,314.1 156.7,313.6 157.4,313.2 158.1,312.9 158.7,312.5 159.4,312.2 160.1,312.0 160.7,311.7 161.4,311.5 162.1,311.3 162.7,311.1 163.4,310.9 164.1,310.7 164.7,310.5 165.4,310.4 166.1,310.2 166.7,310.0 167.4,309.9 168.1,309.7 168.7,309.6 169.4,309.4 170.1,309.3 170.7,309.1 171.4,309.0 172.0,308.9 172.7,308.8 173.4,308.6 174.0,308.5 174.7,308.4 175.4,308.3 176.0,308.2 176.7,308.1 177.4,307.9 178.0,307.8 178.7,307.7 179.4,307.6 180.0,307.5 180.7,307.4 181.4,307.3 182.0,307.2 182.7,307.1 183.4,307.0 184.0,306.8 184.7,306.7 185.4,306.6 186.0,306.5 186.7,306.4 187.4,306.4 188.0,306.3 188.7,306.2 189.3,306.1 190.0,306.0 190.7,305.9 191.3,305.8 192.0,305.7 192.7,305.7 193.3,305.6 194.0,305.5 194.7,305.4 195.3,305.4 196.0,305.3" fill="none" stroke="rgb(247,175,135)" stroke-width="0.95"/>
<polyline points="25.0,320.6 25.7,320.0 26.3,319.4 27.0,318.9 27.7,318.3 28.3,317.8 29.0,317.3 29.7,316.7 30.3,316.2 31.0,315.7 31.7,315.2 32.3,314.8 33.0,314.3 33.6,313.9 34.3,313.5 35.0,313.0 35.6,312.6 36.3,312.3 37.0,311.9 37.6,311.6 38.3,311.2 39.0,310.9 39.6,310.6 40.3,310.4 41.0,310.1 41.6,309.9 42.3,309.7 43.0,309.5 43.6,309.3 44.3,309.2 45.0,309.1 45.6,309.0 46.3,308.9 47.0,308.8 47.6,308.8 48.3,308.8 49.0,308.8 49.6,308.9 50.3,309.0 50.9,309.1 51.6,309.2 52.3,309.3 52.9,309.5 53.6,309.7 54.3,309.9 54.9,310.1 55.6,310.4 56.3,310.6 56.9,310.9 57.6,311.2 58.3,311.5 58.9,311.9 59.6,312.2 60.3,312.6 60.9,312.9 61.6,313.3 62.3,313.7 62.9,314.1 63.6,314.6 64.3,315.0 64.9,315.4 65.6,315.9 66.3,316.3 66.9,316.8 67.6,317.2 68.2,317.7 68.9,318.2 69.6,318.7 70.2,319.1 70.9,319.6 71.6,320.1 72.2,320.6 72.9,321.1 73.6,321.5 74.2,322.0 74.9,322.5 75.6,323.0 76.2,323.4 76.9,323.9 77.6,324.4 78.2,324.8 78.9,325.3 79.6,325.7 80.2,326.1 80.9,326.6 81.6,327.0 82.2,327.4 82.9,327.8 83.6,328.1 84.2,328.5 84.9,328.8 85.5,329.2 86.2,329.5 86.9,329.8 87.5,330.1 88.2,330.4 88.9,330.6 89.5,330.9 90.2,331.1 90.9,331.3 91.5,331.4 92.2,331.6 92.9,331.8 93.5,331.9 94.2,332.0 94.9,332.2 95.5,332.3 96.2,332.5 96.9,332.6 97.5,332.8 98.2,333.0 98.9,333.1 99.5,333.3 100.2,333.6 100.9,333.8 101.5,334.1 102.2,334.4 102.8,334.7 103.5,335.1 104.2,335.5 104.8,335.9 105.5,336.3 106.2,336.7 106.8,337.1 107.5,337.6 108.2,338.1 108.8,338.5 109.5,339.0 110.2,339.5 110.8,340.0 111.5,340.5 112.2,341.0 112.8,341.5 113.5,342.0 114.2,342.5 114.8,343.0 115.5,343.5 116.2,344.0 116.8,344.4 117.5,344.9 118.2,345.4 118.8,345.8 119.5,346.2 120.1,346.6 120.8,347.0 121.5,347.4 122.1,347.9 122.8,348.3 123.5,348.8 124.1,349.3 124.8,349.8 125.5,350.2 126.1,350.7 126.8,351.1 127.5,351.6 128.1,352.0 128.8,352.3 129.5,352.6 130.1,352.9 130.8,353.1 131.5,353.3 132.1,353.4 132.8,353.5 133.5,353.5 134.1,353.4 134.8,353.2 135.5,353.0 136.1,352.7 136.8,352.4 137.4,352.0 138.1,351.5 138.8,351.0 139.4,350.5 140.1,349.9 140.8,349.2 141.4,348.6 142.1,347.8 142.8,347.1 143.4,346.3 144.1,345.5 144.8,344.7 145.4,343.8 146.1,343.0 146.8,342.1 147.4,341.2 148.1,340.3 148.8,339.4 149.4,338.5 150.1,337.6 150.8,336.7 151.4,335.8 152.1,334.9 152.8,334.0 153.4,333.2 154.1,332.4 154.7,331.5 155.4,330.8 156.1,330.0 156.7,329.3 157.4,328.6 158.1,327.9 158.7,327.3 159.4,326.7 160.1,326.2 160.7,325.7 161.4,325.3 162.1,325.0 162.7,324.7 163.4,324.4 164.1,324.2 164.7,324.1 165.4,324.1 166.1,324.0 166.7,324.0 167.4,323.9 168.1,323.9 168.7,323.9 169.4,323.8 170.1,323.8 170.7,323.7 171.4,323.7 172.0,323.7 172.7,323.6 173.4,323.6 174.0,323.6 174.7,323.5 175.4,323.5 176.0,323.5 176.7,323.4 177.4,323.4 178.0,323.4 178.7,323.4 179.4,323.3 180.0,323.3 180.7,323.3 181.4,323.3 182.0,323.2 182.7,323.2 183.4,323.2 184.0,323.2 184.7,323.2 185.4,323.1 186.0,323.1 186.7,323.1 187.4,323.1 188.0,323.1 188.7,323.1 189.3,323.1 190.0,323.0 190.7,323.0 191.3,323.0 192.0,323.0 192.7,323.0 193.3,323.0 194.0,323.0 194.7,323.0 195.3,323.0 196.0,323.0" fill="none" stroke="rgb(247,175,135)" stroke-width="0.95"/>
</g>
<line x1="25.2" y1="321.3" x2="195.9" y2="321.3" stroke="#6a6a6a" stroke-width="1.0"/>
<polyline points="25.0,308.8 25.7,307.8 26.3,306.8 27.0,305.8 27.7,304.9 28.3,304.0 29.0,303.2 29.7,302.3 30.3,301.5 31.0,300.8 31.7,300.0 32.3,299.3 33.0,298.7 33.6,298.0 34.3,297.4 35.0,296.9 35.6,296.3 36.3,295.8 37.0,295.3 37.6,294.9 38.3,294.5 39.0,294.1 39.6,293.8 40.3,293.4 41.0,293.1 41.6,292.9 42.3,292.7 43.0,292.5 43.6,292.3 44.3,292.1 45.0,292.0 45.6,292.0 46.3,291.9 47.0,291.9 47.6,291.9 48.3,292.0 49.0,292.2 49.6,292.4 50.3,292.7 50.9,293.0 51.6,293.4 52.3,293.9 52.9,294.4 53.6,294.9 54.3,295.5 54.9,296.1 55.6,296.7 56.3,297.4 56.9,298.1 57.6,298.8 58.3,299.6 58.9,300.3 59.6,301.1 60.3,301.9 60.9,302.7 61.6,303.5 62.3,304.4 62.9,305.2 63.6,306.0 64.3,306.8 64.9,307.6 65.6,308.4 66.3,309.2 66.9,309.9 67.6,310.7 68.2,311.4 68.9,312.1 69.6,312.7 70.2,313.4 70.9,314.0 71.6,314.5 72.2,315.0 72.9,315.6 73.6,316.1 74.2,316.6 74.9,317.0 75.6,317.5 76.2,318.0 76.9,318.5 77.6,318.9 78.2,319.4 78.9,319.8 79.6,320.3 80.2,320.7 80.9,321.1 81.6,321.5 82.2,321.9 82.9,322.3 83.6,322.7 84.2,323.1 84.9,323.5 85.5,323.9 86.2,324.2 86.9,324.6 87.5,325.0 88.2,325.3 88.9,325.6 89.5,326.0 90.2,326.3 90.9,326.6 91.5,326.9 92.2,327.2 92.9,327.5 93.5,327.8 94.2,328.1 94.9,328.3 95.5,328.6 96.2,328.8 96.9,329.1 97.5,329.3 98.2,329.6 98.9,329.8 99.5,330.1 100.2,330.4 100.9,330.6 101.5,330.9 102.2,331.2 102.8,331.5 103.5,331.8 104.2,332.1 104.8,332.5 105.5,332.8 106.2,333.2 106.8,333.6 107.5,334.0 108.2,334.4 108.8,334.8 109.5,335.2 110.2,335.7 110.8,336.1 111.5,336.6 112.2,337.1 112.8,337.5 113.5,338.0 114.2,338.5 114.8,339.0 115.5,339.5 116.2,340.0 116.8,340.5 117.5,341.0 118.2,341.6 118.8,342.1 119.5,342.6 120.1,343.1 120.8,343.7 121.5,344.4 122.1,345.1 122.8,345.8 123.5,346.6 124.1,347.4 124.8,348.2 125.5,348.9 126.1,349.7 126.8,350.3 127.5,350.9 128.1,351.5 128.8,351.9 129.5,352.2 130.1,352.4 130.8,352.4 131.5,352.3 132.1,352.2 132.8,352.0 133.5,351.8 134.1,351.5 134.8,351.2 135.5,350.8 136.1,350.3 136.8,349.9 137.4,349.4 138.1,348.8 138.8,348.3 139.4,347.7 140.1,347.1 140.8,346.5 141.4,345.8 142.1,345.2 142.8,344.5 143.4,343.9 144.1,343.3 144.8,342.6 145.4,342.0 146.1,341.4 146.8,340.8 147.4,340.2 148.1,339.6 148.8,339.0 149.4,338.3 150.1,337.5 150.8,336.8 151.4,336.0 152.1,335.2 152.8,334.4 153.4,333.6 154.1,332.7 154.7,331.9 155.4,331.1 156.1,330.2 156.7,329.4 157.4,328.6 158.1,327.8 158.7,327.0 159.4,326.2 160.1,325.5 160.7,324.7 161.4,324.1 162.1,323.4 162.7,322.8 163.4,322.2 164.1,321.7 164.7,321.3 165.4,320.9 166.1,320.5 166.7,320.2 167.4,319.9 168.1,319.6 168.7,319.4 169.4,319.1 170.1,318.9 170.7,318.7 171.4,318.5 172.0,318.3 172.7,318.1 173.4,317.9 174.0,317.7 174.7,317.5 175.4,317.3 176.0,317.1 176.7,316.9 177.4,316.7 178.0,316.5 178.7,316.3 179.4,316.1 180.0,315.9 180.7,315.7 181.4,315.4 182.0,315.2 182.7,314.9 183.4,314.7 184.0,314.5 184.7,314.2 185.4,314.0 186.0,313.8 186.7,313.5 187.4,313.3 188.0,313.0 188.7,312.8 189.3,312.5 190.0,312.3 190.7,312.0 191.3,311.8 192.0,311.5 192.7,311.3 193.3,311.0 194.0,310.8 194.7,310.5 195.3,310.3 196.0,310.0" fill="none" stroke="#6a2ea6" stroke-width="2.1" stroke-linejoin="round"/>
<polyline points="25.0,311.2 25.7,310.6 26.3,310.0 27.0,309.4 27.7,308.8 28.3,308.3 29.0,307.7 29.7,307.2 30.3,306.7 31.0,306.3 31.7,305.8 32.3,305.4 33.0,305.0 33.6,304.6 34.3,304.2 35.0,303.9 35.6,303.6 36.3,303.2 37.0,302.9 37.6,302.7 38.3,302.4 39.0,302.2 39.6,301.9 40.3,301.7 41.0,301.6 41.6,301.4 42.3,301.2 43.0,301.1 43.6,301.0 44.3,300.9 45.0,300.8 45.6,300.7 46.3,300.7 47.0,300.6 47.6,300.6 48.3,300.6 49.0,300.6 49.6,300.7 50.3,300.8 50.9,301.0 51.6,301.2 52.3,301.4 52.9,301.6 53.6,301.9 54.3,302.2 54.9,302.6 55.6,303.0 56.3,303.4 56.9,303.8 57.6,304.3 58.3,304.7 58.9,305.2 59.6,305.7 60.3,306.3 60.9,306.8 61.6,307.4 62.3,307.9 62.9,308.5 63.6,309.1 64.3,309.7 64.9,310.3 65.6,310.8 66.3,311.4 66.9,312.0 67.6,312.6 68.2,313.2 68.9,313.8 69.6,314.3 70.2,314.9 70.9,315.5 71.6,316.0 72.2,316.5 72.9,317.0 73.6,317.5 74.2,318.0 74.9,318.4 75.6,318.8 76.2,319.2 76.9,319.6 77.6,320.0 78.2,320.4 78.9,320.8 79.6,321.1 80.2,321.5 80.9,321.9 81.6,322.2 82.2,322.6 82.9,322.9 83.6,323.3 84.2,323.6 84.9,324.0 85.5,324.3 86.2,324.6 86.9,324.9 87.5,325.2 88.2,325.5 88.9,325.8 89.5,326.1 90.2,326.4 90.9,326.6 91.5,326.8 92.2,327.1 92.9,327.3 93.5,327.5 94.2,327.6 94.9,327.8 95.5,328.0 96.2,328.2 96.9,328.3 97.5,328.5 98.2,328.7 98.9,328.9 99.5,329.1 100.2,329.3 100.9,329.5 101.5,329.7 102.2,329.9 102.8,330.2 103.5,330.4 104.2,330.7 104.8,331.0 105.5,331.3 106.2,331.6 106.8,332.0 107.5,332.3 108.2,332.7 108.8,333.0 109.5,333.4 110.2,333.8 110.8,334.1 111.5,334.5 112.2,334.9 112.8,335.3 113.5,335.6 114.2,336.0 114.8,336.4 115.5,336.7 116.2,337.1 116.8,337.5 117.5,337.8 118.2,338.1 118.8,338.5 119.5,338.8 120.1,339.1 120.8,339.4 121.5,339.7 122.1,340.0 122.8,340.4 123.5,340.7 124.1,341.1 124.8,341.4 125.5,341.8 126.1,342.1 126.8,342.4 127.5,342.7 128.1,343.0 128.8,343.3 129.5,343.5 130.1,343.7 130.8,343.8 131.5,344.0 132.1,344.1 132.8,344.1 133.5,344.1 134.1,344.0 134.8,343.9 135.5,343.8 136.1,343.6 136.8,343.4 137.4,343.1 138.1,342.8 138.8,342.5 139.4,342.1 140.1,341.8 140.8,341.3 141.4,340.9 142.1,340.4 142.8,339.9 143.4,339.4 144.1,338.9 144.8,338.3 145.4,337.7 146.1,337.1 146.8,336.5 147.4,335.9 148.1,335.3 148.8,334.6 149.4,334.0 150.1,333.3 150.8,332.7 151.4,332.0 152.1,331.4 152.8,330.7 153.4,330.1 154.1,329.4 154.7,328.8 155.4,328.1 156.1,327.5 156.7,326.9 157.4,326.3 158.1,325.7 158.7,325.2 159.4,324.6 160.1,324.1 160.7,323.6 161.4,323.1 162.1,322.7 162.7,322.2 163.4,321.8 164.1,321.5 164.7,321.1 165.4,320.8 166.1,320.5 166.7,320.3 167.4,320.0 168.1,319.8 168.7,319.5 169.4,319.2 170.1,319.0 170.7,318.7 171.4,318.5 172.0,318.2 172.7,318.0 173.4,317.8 174.0,317.5 174.7,317.3 175.4,317.1 176.0,316.8 176.7,316.6 177.4,316.4 178.0,316.2 178.7,315.9 179.4,315.7 180.0,315.5 180.7,315.3 181.4,315.1 182.0,314.9 182.7,314.8 183.4,314.6 184.0,314.4 184.7,314.2 185.4,314.1 186.0,313.9 186.7,313.8 187.4,313.6 188.0,313.5 188.7,313.3 189.3,313.2 190.0,313.1 190.7,313.0 191.3,312.9 192.0,312.8 192.7,312.7 193.3,312.6 194.0,312.6 194.7,312.5 195.3,312.4 196.0,312.4" fill="none" stroke="#f7892e" stroke-width="2.1" stroke-linejoin="round"/>
<rect x="25.2" y="275.5" width="170.70000000000002" height="95.10000000000002" fill="none" stroke="#a4a4a4" stroke-width="1.1"/>
<line x1="22.7" y1="363.70" x2="25.2" y2="363.70" stroke="#555" stroke-width="0.6"/>
<text x="21.599999999999998" y="365.45" font-size="4.9" text-anchor="end" font-weight="normal" fill="#333" stroke="#333" stroke-width="0.15" >−8</text>
<line x1="22.7" y1="353.10" x2="25.2" y2="353.10" stroke="#555" stroke-width="0.6"/>
<text x="21.599999999999998" y="354.85" font-size="4.9" text-anchor="end" font-weight="normal" fill="#333" stroke="#333" stroke-width="0.15" >−6</text>
<line x1="22.7" y1="342.50" x2="25.2" y2="342.50" stroke="#555" stroke-width="0.6"/>
<text x="21.599999999999998" y="344.25" font-size="4.9" text-anchor="end" font-weight="normal" fill="#333" stroke="#333" stroke-width="0.15" >−4</text>
<line x1="22.7" y1="331.90" x2="25.2" y2="331.90" stroke="#555" stroke-width="0.6"/>
<text x="21.599999999999998" y="333.65000000000003" font-size="4.9" text-anchor="end" font-weight="normal" fill="#333" stroke="#333" stroke-width="0.15" >−2</text>
<line x1="22.7" y1="321.30" x2="25.2" y2="321.30" stroke="#555" stroke-width="0.6"/>
<text x="21.599999999999998" y="323.05" font-size="4.9" text-anchor="end" font-weight="normal" fill="#333" stroke="#333" stroke-width="0.15" >0</text>
<line x1="22.7" y1="310.70" x2="25.2" y2="310.70" stroke="#555" stroke-width="0.6"/>
<text x="21.599999999999998" y="312.45" font-size="4.9" text-anchor="end" font-weight="normal" fill="#333" stroke="#333" stroke-width="0.15" >2</text>
<line x1="22.7" y1="300.10" x2="25.2" y2="300.10" stroke="#555" stroke-width="0.6"/>
<text x="21.599999999999998" y="301.85" font-size="4.9" text-anchor="end" font-weight="normal" fill="#333" stroke="#333" stroke-width="0.15" >4</text>
<line x1="22.7" y1="289.50" x2="25.2" y2="289.50" stroke="#555" stroke-width="0.6"/>
<text x="21.599999999999998" y="291.25" font-size="4.9" text-anchor="end" font-weight="normal" fill="#333" stroke="#333" stroke-width="0.15" >6</text>
<line x1="22.7" y1="278.90" x2="25.2" y2="278.90" stroke="#555" stroke-width="0.6"/>
<text x="21.599999999999998" y="280.65000000000003" font-size="4.9" text-anchor="end" font-weight="normal" fill="#333" stroke="#333" stroke-width="0.15" >8</text>
<line x1="25.20" y1="370.6" x2="25.20" y2="372.8" stroke="#555" stroke-width="0.6"/>
<text x="25.2" y="378.0" font-size="4.9" text-anchor="middle" font-weight="normal" fill="#333" stroke="#333" stroke-width="0.15" >0</text>
<line x1="59.34" y1="370.6" x2="59.34" y2="372.8" stroke="#555" stroke-width="0.6"/>
<text x="59.34" y="378.0" font-size="4.9" text-anchor="middle" font-weight="normal" fill="#333" stroke="#333" stroke-width="0.15" >20</text>
<line x1="93.48" y1="370.6" x2="93.48" y2="372.8" stroke="#555" stroke-width="0.6"/>
<text x="93.48000000000002" y="378.0" font-size="4.9" text-anchor="middle" font-weight="normal" fill="#333" stroke="#333" stroke-width="0.15" >40</text>
<line x1="127.62" y1="370.6" x2="127.62" y2="372.8" stroke="#555" stroke-width="0.6"/>
<text x="127.62000000000002" y="378.0" font-size="4.9" text-anchor="middle" font-weight="normal" fill="#333" stroke="#333" stroke-width="0.15" >60</text>
<line x1="161.76" y1="370.6" x2="161.76" y2="372.8" stroke="#555" stroke-width="0.6"/>
<text x="161.76000000000002" y="378.0" font-size="4.9" text-anchor="middle" font-weight="normal" fill="#333" stroke="#333" stroke-width="0.15" >80</text>
<line x1="195.90" y1="370.6" x2="195.90" y2="372.8" stroke="#555" stroke-width="0.6"/>
<text x="195.89999999999998" y="378.0" font-size="4.9" text-anchor="middle" font-weight="normal" fill="#333" stroke="#333" stroke-width="0.15" >100</text>
<text x="112.9" y="390.6" font-size="10.3" text-anchor="middle" font-weight="normal" fill="#1a1a1a" stroke="#1a1a1a" stroke-width="0.35" textLength="62.6" lengthAdjust="spacingAndGlyphs">Gait Cycle (%)</text>
<text x="8.7" y="272.6" font-size="7.6" text-anchor="start" font-weight="bold" fill="#1a1a1a" textLength="9.3" lengthAdjust="spacingAndGlyphs">(C)</text>
<text transform="translate(11.0,323.0) rotate(-90)" font-size="10.2" text-anchor="middle" fill="#1a1a1a" stroke="#1a1a1a" stroke-width="0.3" textLength="31.5" lengthAdjust="spacingAndGlyphs"><tspan font-style="italic" font-family="Liberation Serif">θ</tspan> (deg)</text>
<rect x="38.8" y="407.1" width="11.800000000000004" height="96.19999999999999" fill="rgb(226,244,250)"/>
<rect x="114.1" y="407.1" width="28.900000000000006" height="96.19999999999999" fill="rgb(226,244,250)"/>
<clipPath id="clp4"><polygon points="25.0,430.6 25.7,429.5 26.3,428.5 27.0,427.5 27.7,426.6 28.3,425.6 29.0,424.7 29.7,423.9 30.3,423.0 31.0,422.2 31.7,421.4 32.3,420.7 33.0,419.9 33.6,419.3 34.3,418.6 35.0,418.0 35.6,417.4 36.3,416.8 37.0,416.3 37.6,415.8 38.3,415.4 39.0,415.0 39.6,414.6 40.3,414.3 41.0,414.0 41.6,413.7 42.3,413.5 43.0,413.3 43.6,413.1 44.3,413.0 45.0,412.9 45.6,412.9 46.3,412.9 47.0,413.0 47.6,413.1 48.3,413.2 49.0,413.4 49.6,413.6 50.3,413.9 50.9,414.2 51.6,414.5 52.3,414.9 52.9,415.3 53.6,415.7 54.3,416.2 54.9,416.7 55.6,417.2 56.3,417.7 56.9,418.2 57.6,418.8 58.3,419.3 58.9,419.9 59.6,420.5 60.3,421.1 60.9,421.7 61.6,422.3 62.3,422.9 62.9,423.5 63.6,424.1 64.3,424.7 64.9,425.3 65.6,425.8 66.3,426.4 66.9,426.9 67.6,427.5 68.2,428.1 68.9,428.7 69.6,429.3 70.2,430.0 70.9,430.7 71.6,431.4 72.2,432.1 72.9,432.9 73.6,433.6 74.2,434.4 74.9,435.1 75.6,435.9 76.2,436.6 76.9,437.4 77.6,438.1 78.2,438.8 78.9,439.5 79.6,440.2 80.2,440.8 80.9,441.4 81.6,442.0 82.2,442.6 82.9,443.1 83.6,443.5 84.2,444.0 84.9,444.4 85.5,444.8 86.2,445.2 86.9,445.6 87.5,445.9 88.2,446.3 88.9,446.6 89.5,447.0 90.2,447.3 90.9,447.6 91.5,447.9 92.2,448.2 92.9,448.6 93.5,448.9 94.2,449.2 94.9,449.5 95.5,449.8 96.2,450.1 96.9,450.4 97.5,450.7 98.2,451.1 98.9,451.4 99.5,451.7 100.2,452.1 100.9,452.5 101.5,452.8 102.2,453.2 102.8,453.5 103.5,453.9 104.2,454.3 104.8,454.6 105.5,455.0 106.2,455.3 106.8,455.7 107.5,456.1 108.2,456.4 108.8,456.8 109.5,457.2 110.2,457.5 110.8,457.9 111.5,458.3 112.2,458.7 112.8,459.1 113.5,459.5 114.2,459.8 114.8,460.2 115.5,460.6 116.2,461.1 116.8,461.5 117.5,461.9 118.2,462.3 118.8,462.7 119.5,463.2 120.1,463.6 120.8,464.1 121.5,464.6 122.1,465.2 122.8,465.9 123.5,466.5 124.1,467.2 124.8,467.9 125.5,468.5 126.1,469.2 126.8,469.8 127.5,470.3 128.1,470.8 128.8,471.2 129.5,471.5 130.1,471.7 130.8,471.8 131.5,471.8 132.1,471.7 132.8,471.6 133.5,471.5 134.1,471.2 134.8,471.0 135.5,470.7 136.1,470.4 136.8,470.0 137.4,469.6 138.1,469.1 138.8,468.6 139.4,468.1 140.1,467.6 140.8,467.0 141.4,466.4 142.1,465.8 142.8,465.1 143.4,464.5 144.1,463.8 144.8,463.1 145.4,462.4 146.1,461.7 146.8,460.9 147.4,460.2 148.1,459.4 148.8,458.7 149.4,457.9 150.1,457.1 150.8,456.4 151.4,455.6 152.1,454.8 152.8,454.1 153.4,453.3 154.1,452.6 154.7,451.9 155.4,451.2 156.1,450.5 156.7,449.8 157.4,449.1 158.1,448.5 158.7,447.9 159.4,447.3 160.1,446.7 160.7,446.2 161.4,445.7 162.1,445.2 162.7,444.7 163.4,444.3 164.1,444.0 164.7,443.6 165.4,443.3 166.1,443.0 166.7,442.7 167.4,442.5 168.1,442.2 168.7,441.9 169.4,441.6 170.1,441.3 170.7,441.0 171.4,440.7 172.0,440.5 172.7,440.2 173.4,439.9 174.0,439.7 174.7,439.4 175.4,439.1 176.0,438.9 176.7,438.6 177.4,438.4 178.0,438.1 178.7,437.9 179.4,437.7 180.0,437.4 180.7,437.2 181.4,437.0 182.0,436.8 182.7,436.6 183.4,436.4 184.0,436.2 184.7,436.0 185.4,435.8 186.0,435.7 186.7,435.5 187.4,435.3 188.0,435.2 188.7,435.1 189.3,434.9 190.0,434.8 190.7,434.7 191.3,434.6 192.0,434.5 192.7,434.4 193.3,434.3 194.0,434.2 194.7,434.2 195.3,434.1 196.0,434.1 196.0,450.6 195.3,450.7 194.7,450.7 194.0,450.8 193.3,450.9 192.7,451.0 192.0,451.1 191.3,451.2 190.7,451.4 190.0,451.5 189.3,451.7 188.7,451.8 188.0,452.0 187.4,452.2 186.7,452.4 186.0,452.6 185.4,452.8 184.7,453.0 184.0,453.3 183.4,453.5 182.7,453.8 182.0,454.0 181.4,454.3 180.7,454.5 180.0,454.8 179.4,455.1 178.7,455.4 178.0,455.7 177.4,456.0 176.7,456.3 176.0,456.6 175.4,456.9 174.7,457.3 174.0,457.6 173.4,457.9 172.7,458.3 172.0,458.6 171.4,459.0 170.7,459.3 170.1,459.7 169.4,460.0 168.7,460.4 168.1,460.7 167.4,461.1 166.7,461.5 166.1,461.8 165.4,462.2 164.7,462.6 164.1,463.0 163.4,463.4 162.7,463.9 162.1,464.5 161.4,465.1 160.7,465.7 160.1,466.4 159.4,467.1 158.7,467.9 158.1,468.6 157.4,469.4 156.7,470.3 156.1,471.1 155.4,472.0 154.7,472.9 154.1,473.8 153.4,474.7 152.8,475.6 152.1,476.5 151.4,477.5 150.8,478.4 150.1,479.4 149.4,480.3 148.8,481.2 148.1,482.2 147.4,483.1 146.8,484.0 146.1,484.9 145.4,485.8 144.8,486.7 144.1,487.5 143.4,488.3 142.8,489.1 142.1,489.9 141.4,490.6 140.8,491.4 140.1,492.0 139.4,492.7 138.8,493.3 138.1,493.8 137.4,494.3 136.8,494.8 136.1,495.2 135.5,495.6 134.8,495.9 134.1,496.1 133.5,496.3 132.8,496.4 132.1,496.5 131.5,496.5 130.8,496.4 130.1,496.2 129.5,495.9 128.8,495.5 128.1,495.1 127.5,494.6 126.8,494.1 126.1,493.5 125.5,492.8 124.8,492.1 124.1,491.4 123.5,490.7 122.8,490.0 122.1,489.3 121.5,488.5 120.8,487.8 120.1,487.1 119.5,486.4 118.8,485.7 118.2,484.8 117.5,483.8 116.8,482.8 116.2,481.8 115.5,480.8 114.8,479.7 114.2,478.7 113.5,477.7 112.8,476.7 112.2,475.8 111.5,474.9 110.8,474.2 110.2,473.5 109.5,473.0 108.8,472.5 108.2,472.1 107.5,471.7 106.8,471.4 106.2,471.0 105.5,470.7 104.8,470.4 104.2,470.1 103.5,469.8 102.8,469.6 102.2,469.3 101.5,469.1 100.9,468.9 100.2,468.7 99.5,468.4 98.9,468.2 98.2,468.0 97.5,467.8 96.9,467.5 96.2,467.3 95.5,467.1 94.9,466.8 94.2,466.5 93.5,466.2 92.9,465.9 92.2,465.6 91.5,465.2 90.9,464.9 90.2,464.5 89.5,464.0 88.9,463.5 88.2,462.9 87.5,462.3 86.9,461.7 86.2,461.1 85.5,460.4 84.9,459.8 84.2,459.2 83.6,458.5 82.9,457.9 82.2,457.3 81.6,456.8 80.9,456.3 80.2,455.8 79.6,455.2 78.9,454.7 78.2,454.2 77.6,453.6 76.9,453.1 76.2,452.5 75.6,451.9 74.9,451.4 74.2,450.8 73.6,450.2 72.9,449.7 72.2,449.1 71.6,448.5 70.9,448.0 70.2,447.4 69.6,446.8 68.9,446.3 68.2,445.7 67.6,445.2 66.9,444.6 66.3,444.1 65.6,443.5 64.9,443.0 64.3,442.5 63.6,442.0 62.9,441.5 62.3,441.0 61.6,440.5 60.9,440.0 60.3,439.5 59.6,439.1 58.9,438.7 58.3,438.3 57.6,437.9 56.9,437.5 56.3,437.1 55.6,436.7 54.9,436.4 54.3,436.1 53.6,435.8 52.9,435.5 52.3,435.3 51.6,435.1 50.9,434.9 50.3,434.7 49.6,434.5 49.0,434.4 48.3,434.3 47.6,434.2 47.0,434.1 46.3,434.1 45.6,434.1 45.0,434.1 44.3,434.2 43.6,434.3 43.0,434.4 42.3,434.6 41.6,434.8 41.0,435.0 40.3,435.2 39.6,435.5 39.0,435.8 38.3,436.1 37.6,436.4 37.0,436.8 36.3,437.2 35.6,437.6 35.0,438.1 34.3,438.5 33.6,439.0 33.0,439.5 32.3,440.0 31.7,440.6 31.0,441.1 30.3,441.7 29.7,442.3 29.0,442.9 28.3,443.6 27.7,444.2 27.0,444.9 26.3,445.6 25.7,446.3 25.0,447.0"/></clipPath>
<g opacity="0.65">
<polygon points="25.0,430.6 25.7,429.5 26.3,428.5 27.0,427.5 27.7,426.6 28.3,425.6 29.0,424.7 29.7,423.9 30.3,423.0 31.0,422.2 31.7,421.4 32.3,420.7 33.0,419.9 33.6,419.3 34.3,418.6 35.0,418.0 35.6,417.4 36.3,416.8 37.0,416.3 37.6,415.8 38.3,415.4 39.0,415.0 39.6,414.6 40.3,414.3 41.0,414.0 41.6,413.7 42.3,413.5 43.0,413.3 43.6,413.1 44.3,413.0 45.0,412.9 45.6,412.9 46.3,412.9 47.0,413.0 47.6,413.1 48.3,413.2 49.0,413.4 49.6,413.6 50.3,413.9 50.9,414.2 51.6,414.5 52.3,414.9 52.9,415.3 53.6,415.7 54.3,416.2 54.9,416.7 55.6,417.2 56.3,417.7 56.9,418.2 57.6,418.8 58.3,419.3 58.9,419.9 59.6,420.5 60.3,421.1 60.9,421.7 61.6,422.3 62.3,422.9 62.9,423.5 63.6,424.1 64.3,424.7 64.9,425.3 65.6,425.8 66.3,426.4 66.9,426.9 67.6,427.5 68.2,428.1 68.9,428.7 69.6,429.3 70.2,430.0 70.9,430.7 71.6,431.4 72.2,432.1 72.9,432.9 73.6,433.6 74.2,434.4 74.9,435.1 75.6,435.9 76.2,436.6 76.9,437.4 77.6,438.1 78.2,438.8 78.9,439.5 79.6,440.2 80.2,440.8 80.9,441.4 81.6,442.0 82.2,442.6 82.9,443.1 83.6,443.5 84.2,444.0 84.9,444.4 85.5,444.8 86.2,445.2 86.9,445.6 87.5,445.9 88.2,446.3 88.9,446.6 89.5,447.0 90.2,447.3 90.9,447.6 91.5,447.9 92.2,448.2 92.9,448.6 93.5,448.9 94.2,449.2 94.9,449.5 95.5,449.8 96.2,450.1 96.9,450.4 97.5,450.7 98.2,451.1 98.9,451.4 99.5,451.7 100.2,452.1 100.9,452.5 101.5,452.8 102.2,453.2 102.8,453.5 103.5,453.9 104.2,454.3 104.8,454.6 105.5,455.0 106.2,455.3 106.8,455.7 107.5,456.1 108.2,456.4 108.8,456.8 109.5,457.2 110.2,457.5 110.8,457.9 111.5,458.3 112.2,458.7 112.8,459.1 113.5,459.5 114.2,459.8 114.8,460.2 115.5,460.6 116.2,461.1 116.8,461.5 117.5,461.9 118.2,462.3 118.8,462.7 119.5,463.2 120.1,463.6 120.8,464.1 121.5,464.6 122.1,465.2 122.8,465.9 123.5,466.5 124.1,467.2 124.8,467.9 125.5,468.5 126.1,469.2 126.8,469.8 127.5,470.3 128.1,470.8 128.8,471.2 129.5,471.5 130.1,471.7 130.8,471.8 131.5,471.8 132.1,471.7 132.8,471.6 133.5,471.5 134.1,471.2 134.8,471.0 135.5,470.7 136.1,470.4 136.8,470.0 137.4,469.6 138.1,469.1 138.8,468.6 139.4,468.1 140.1,467.6 140.8,467.0 141.4,466.4 142.1,465.8 142.8,465.1 143.4,464.5 144.1,463.8 144.8,463.1 145.4,462.4 146.1,461.7 146.8,460.9 147.4,460.2 148.1,459.4 148.8,458.7 149.4,457.9 150.1,457.1 150.8,456.4 151.4,455.6 152.1,454.8 152.8,454.1 153.4,453.3 154.1,452.6 154.7,451.9 155.4,451.2 156.1,450.5 156.7,449.8 157.4,449.1 158.1,448.5 158.7,447.9 159.4,447.3 160.1,446.7 160.7,446.2 161.4,445.7 162.1,445.2 162.7,444.7 163.4,444.3 164.1,444.0 164.7,443.6 165.4,443.3 166.1,443.0 166.7,442.7 167.4,442.5 168.1,442.2 168.7,441.9 169.4,441.6 170.1,441.3 170.7,441.0 171.4,440.7 172.0,440.5 172.7,440.2 173.4,439.9 174.0,439.7 174.7,439.4 175.4,439.1 176.0,438.9 176.7,438.6 177.4,438.4 178.0,438.1 178.7,437.9 179.4,437.7 180.0,437.4 180.7,437.2 181.4,437.0 182.0,436.8 182.7,436.6 183.4,436.4 184.0,436.2 184.7,436.0 185.4,435.8 186.0,435.7 186.7,435.5 187.4,435.3 188.0,435.2 188.7,435.1 189.3,434.9 190.0,434.8 190.7,434.7 191.3,434.6 192.0,434.5 192.7,434.4 193.3,434.3 194.0,434.2 194.7,434.2 195.3,434.1 196.0,434.1 196.0,450.6 195.3,450.7 194.7,450.7 194.0,450.8 193.3,450.9 192.7,451.0 192.0,451.1 191.3,451.2 190.7,451.4 190.0,451.5 189.3,451.7 188.7,451.8 188.0,452.0 187.4,452.2 186.7,452.4 186.0,452.6 185.4,452.8 184.7,453.0 184.0,453.3 183.4,453.5 182.7,453.8 182.0,454.0 181.4,454.3 180.7,454.5 180.0,454.8 179.4,455.1 178.7,455.4 178.0,455.7 177.4,456.0 176.7,456.3 176.0,456.6 175.4,456.9 174.7,457.3 174.0,457.6 173.4,457.9 172.7,458.3 172.0,458.6 171.4,459.0 170.7,459.3 170.1,459.7 169.4,460.0 168.7,460.4 168.1,460.7 167.4,461.1 166.7,461.5 166.1,461.8 165.4,462.2 164.7,462.6 164.1,463.0 163.4,463.4 162.7,463.9 162.1,464.5 161.4,465.1 160.7,465.7 160.1,466.4 159.4,467.1 158.7,467.9 158.1,468.6 157.4,469.4 156.7,470.3 156.1,471.1 155.4,472.0 154.7,472.9 154.1,473.8 153.4,474.7 152.8,475.6 152.1,476.5 151.4,477.5 150.8,478.4 150.1,479.4 149.4,480.3 148.8,481.2 148.1,482.2 147.4,483.1 146.8,484.0 146.1,484.9 145.4,485.8 144.8,486.7 144.1,487.5 143.4,488.3 142.8,489.1 142.1,489.9 141.4,490.6 140.8,491.4 140.1,492.0 139.4,492.7 138.8,493.3 138.1,493.8 137.4,494.3 136.8,494.8 136.1,495.2 135.5,495.6 134.8,495.9 134.1,496.1 133.5,496.3 132.8,496.4 132.1,496.5 131.5,496.5 130.8,496.4 130.1,496.2 129.5,495.9 128.8,495.5 128.1,495.1 127.5,494.6 126.8,494.1 126.1,493.5 125.5,492.8 124.8,492.1 124.1,491.4 123.5,490.7 122.8,490.0 122.1,489.3 121.5,488.5 120.8,487.8 120.1,487.1 119.5,486.4 118.8,485.7 118.2,484.8 117.5,483.8 116.8,482.8 116.2,481.8 115.5,480.8 114.8,479.7 114.2,478.7 113.5,477.7 112.8,476.7 112.2,475.8 111.5,474.9 110.8,474.2 110.2,473.5 109.5,473.0 108.8,472.5 108.2,472.1 107.5,471.7 106.8,471.4 106.2,471.0 105.5,470.7 104.8,470.4 104.2,470.1 103.5,469.8 102.8,469.6 102.2,469.3 101.5,469.1 100.9,468.9 100.2,468.7 99.5,468.4 98.9,468.2 98.2,468.0 97.5,467.8 96.9,467.5 96.2,467.3 95.5,467.1 94.9,466.8 94.2,466.5 93.5,466.2 92.9,465.9 92.2,465.6 91.5,465.2 90.9,464.9 90.2,464.5 89.5,464.0 88.9,463.5 88.2,462.9 87.5,462.3 86.9,461.7 86.2,461.1 85.5,460.4 84.9,459.8 84.2,459.2 83.6,458.5 82.9,457.9 82.2,457.3 81.6,456.8 80.9,456.3 80.2,455.8 79.6,455.2 78.9,454.7 78.2,454.2 77.6,453.6 76.9,453.1 76.2,452.5 75.6,451.9 74.9,451.4 74.2,450.8 73.6,450.2 72.9,449.7 72.2,449.1 71.6,448.5 70.9,448.0 70.2,447.4 69.6,446.8 68.9,446.3 68.2,445.7 67.6,445.2 66.9,444.6 66.3,444.1 65.6,443.5 64.9,443.0 64.3,442.5 63.6,442.0 62.9,441.5 62.3,441.0 61.6,440.5 60.9,440.0 60.3,439.5 59.6,439.1 58.9,438.7 58.3,438.3 57.6,437.9 56.9,437.5 56.3,437.1 55.6,436.7 54.9,436.4 54.3,436.1 53.6,435.8 52.9,435.5 52.3,435.3 51.6,435.1 50.9,434.9 50.3,434.7 49.6,434.5 49.0,434.4 48.3,434.3 47.6,434.2 47.0,434.1 46.3,434.1 45.6,434.1 45.0,434.1 44.3,434.2 43.6,434.3 43.0,434.4 42.3,434.6 41.6,434.8 41.0,435.0 40.3,435.2 39.6,435.5 39.0,435.8 38.3,436.1 37.6,436.4 37.0,436.8 36.3,437.2 35.6,437.6 35.0,438.1 34.3,438.5 33.6,439.0 33.0,439.5 32.3,440.0 31.7,440.6 31.0,441.1 30.3,441.7 29.7,442.3 29.0,442.9 28.3,443.6 27.7,444.2 27.0,444.9 26.3,445.6 25.7,446.3 25.0,447.0" fill="rgb(195,195,249)"/>
<polygon points="25.0,434.1 25.7,433.2 26.3,432.3 27.0,431.5 27.7,430.7 28.3,429.9 29.0,429.1 29.7,428.4 30.3,427.6 31.0,427.0 31.7,426.3 32.3,425.7 33.0,425.1 33.6,424.5 34.3,423.9 35.0,423.4 35.6,422.9 36.3,422.4 37.0,422.0 37.6,421.6 38.3,421.2 39.0,420.8 39.6,420.5 40.3,420.1 41.0,419.9 41.6,419.6 42.3,419.4 43.0,419.1 43.6,419.0 44.3,418.8 45.0,418.7 45.6,418.6 46.3,418.5 47.0,418.4 47.6,418.4 48.3,418.4 49.0,418.5 49.6,418.5 50.3,418.7 50.9,418.9 51.6,419.1 52.3,419.3 52.9,419.6 53.6,420.0 54.3,420.3 54.9,420.7 55.6,421.1 56.3,421.5 56.9,422.0 57.6,422.4 58.3,422.9 58.9,423.4 59.6,423.9 60.3,424.4 60.9,424.9 61.6,425.4 62.3,426.0 62.9,426.5 63.6,427.0 64.3,427.5 64.9,428.0 65.6,428.4 66.3,428.9 66.9,429.3 67.6,429.8 68.2,430.2 68.9,430.7 69.6,431.2 70.2,431.7 70.9,432.2 71.6,432.7 72.2,433.2 72.9,433.8 73.6,434.3 74.2,434.9 74.9,435.4 75.6,436.0 76.2,436.5 76.9,437.1 77.6,437.7 78.2,438.2 78.9,438.8 79.6,439.3 80.2,439.9 80.9,440.4 81.6,441.0 82.2,441.5 82.9,442.0 83.6,442.5 84.2,443.0 84.9,443.5 85.5,444.0 86.2,444.4 86.9,444.9 87.5,445.3 88.2,445.7 88.9,446.1 89.5,446.5 90.2,446.8 90.9,447.1 91.5,447.4 92.2,447.7 92.9,448.0 93.5,448.3 94.2,448.6 94.9,448.8 95.5,449.1 96.2,449.3 96.9,449.5 97.5,449.8 98.2,450.0 98.9,450.2 99.5,450.4 100.2,450.7 100.9,450.9 101.5,451.1 102.2,451.3 102.8,451.5 103.5,451.7 104.2,451.8 104.8,452.0 105.5,452.2 106.2,452.4 106.8,452.5 107.5,452.7 108.2,452.8 108.8,453.0 109.5,453.2 110.2,453.3 110.8,453.5 111.5,453.7 112.2,453.8 112.8,454.0 113.5,454.2 114.2,454.4 114.8,454.6 115.5,454.8 116.2,455.0 116.8,455.2 117.5,455.5 118.2,455.7 118.8,456.0 119.5,456.3 120.1,456.6 120.8,456.9 121.5,457.4 122.1,458.0 122.8,458.6 123.5,459.2 124.1,459.9 124.8,460.6 125.5,461.3 126.1,461.9 126.8,462.5 127.5,463.0 128.1,463.4 128.8,463.8 129.5,463.9 130.1,464.0 130.8,464.0 131.5,463.9 132.1,463.9 132.8,463.8 133.5,463.7 134.1,463.5 134.8,463.4 135.5,463.2 136.1,463.0 136.8,462.8 137.4,462.5 138.1,462.3 138.8,462.0 139.4,461.7 140.1,461.4 140.8,461.1 141.4,460.8 142.1,460.5 142.8,460.1 143.4,459.8 144.1,459.4 144.8,459.0 145.4,458.6 146.1,458.2 146.8,457.8 147.4,457.4 148.1,457.0 148.8,456.6 149.4,456.1 150.1,455.7 150.8,455.3 151.4,454.8 152.1,454.4 152.8,454.0 153.4,453.6 154.1,453.1 154.7,452.7 155.4,452.3 156.1,451.8 156.7,451.4 157.4,451.0 158.1,450.6 158.7,450.2 159.4,449.8 160.1,449.5 160.7,449.1 161.4,448.7 162.1,448.4 162.7,448.0 163.4,447.7 164.1,447.4 164.7,447.1 165.4,446.8 166.1,446.6 166.7,446.3 167.4,446.0 168.1,445.7 168.7,445.4 169.4,445.2 170.1,444.9 170.7,444.6 171.4,444.4 172.0,444.1 172.7,443.8 173.4,443.5 174.0,443.3 174.7,443.0 175.4,442.8 176.0,442.5 176.7,442.2 177.4,442.0 178.0,441.7 178.7,441.5 179.4,441.2 180.0,441.0 180.7,440.7 181.4,440.4 182.0,440.2 182.7,440.0 183.4,439.7 184.0,439.5 184.7,439.2 185.4,439.0 186.0,438.7 186.7,438.5 187.4,438.3 188.0,438.0 188.7,437.8 189.3,437.6 190.0,437.3 190.7,437.1 191.3,436.9 192.0,436.6 192.7,436.4 193.3,436.2 194.0,436.0 194.7,435.7 195.3,435.5 196.0,435.3 196.0,452.9 195.3,453.0 194.7,453.1 194.0,453.3 193.3,453.4 192.7,453.5 192.0,453.7 191.3,453.8 190.7,453.9 190.0,454.1 189.3,454.3 188.7,454.4 188.0,454.6 187.4,454.8 186.7,454.9 186.0,455.1 185.4,455.3 184.7,455.5 184.0,455.7 183.4,455.9 182.7,456.1 182.0,456.3 181.4,456.5 180.7,456.7 180.0,456.9 179.4,457.1 178.7,457.3 178.0,457.5 177.4,457.8 176.7,458.0 176.0,458.2 175.4,458.5 174.7,458.7 174.0,458.9 173.4,459.2 172.7,459.4 172.0,459.7 171.4,459.9 170.7,460.2 170.1,460.4 169.4,460.7 168.7,460.9 168.1,461.2 167.4,461.4 166.7,461.7 166.1,462.0 165.4,462.2 164.7,462.5 164.1,462.8 163.4,463.1 162.7,463.5 162.1,463.8 161.4,464.2 160.7,464.6 160.1,465.0 159.4,465.4 158.7,465.9 158.1,466.4 157.4,466.8 156.7,467.3 156.1,467.8 155.4,468.3 154.7,468.8 154.1,469.4 153.4,469.9 152.8,470.4 152.1,471.0 151.4,471.5 150.8,472.1 150.1,472.6 149.4,473.2 148.8,473.7 148.1,474.2 147.4,474.8 146.8,475.3 146.1,475.8 145.4,476.3 144.8,476.9 144.1,477.4 143.4,477.8 142.8,478.3 142.1,478.8 141.4,479.2 140.8,479.7 140.1,480.1 139.4,480.5 138.8,480.8 138.1,481.2 137.4,481.5 136.8,481.9 136.1,482.1 135.5,482.4 134.8,482.7 134.1,482.9 133.5,483.0 132.8,483.2 132.1,483.3 131.5,483.4 130.8,483.5 130.1,483.5 129.5,483.5 128.8,483.3 128.1,483.1 127.5,482.8 126.8,482.4 126.1,482.0 125.5,481.5 124.8,481.0 124.1,480.4 123.5,479.9 122.8,479.4 122.1,478.9 121.5,478.4 120.8,478.0 120.1,477.7 119.5,477.4 118.8,477.1 118.2,476.8 117.5,476.5 116.8,476.2 116.2,476.0 115.5,475.7 114.8,475.4 114.2,475.2 113.5,474.9 112.8,474.7 112.2,474.4 111.5,474.2 110.8,474.0 110.2,473.8 109.5,473.5 108.8,473.3 108.2,473.1 107.5,472.9 106.8,472.7 106.2,472.4 105.5,472.2 104.8,472.0 104.2,471.8 103.5,471.6 102.8,471.4 102.2,471.2 101.5,471.0 100.9,470.8 100.2,470.7 99.5,470.5 98.9,470.3 98.2,470.1 97.5,470.0 96.9,469.8 96.2,469.7 95.5,469.5 94.9,469.4 94.2,469.2 93.5,469.1 92.9,468.9 92.2,468.7 91.5,468.5 90.9,468.3 90.2,468.1 89.5,467.8 88.9,467.5 88.2,467.2 87.5,466.8 86.9,466.4 86.2,466.0 85.5,465.6 84.9,465.2 84.2,464.8 83.6,464.3 82.9,463.9 82.2,463.4 81.6,463.0 80.9,462.5 80.2,462.1 79.6,461.7 78.9,461.3 78.2,460.9 77.6,460.4 76.9,460.0 76.2,459.5 75.6,459.1 74.9,458.6 74.2,458.1 73.6,457.6 72.9,457.1 72.2,456.6 71.6,456.0 70.9,455.5 70.2,455.0 69.6,454.4 68.9,453.9 68.2,453.4 67.6,452.8 66.9,452.3 66.3,451.7 65.6,451.2 64.9,450.7 64.3,450.2 63.6,449.6 62.9,449.1 62.3,448.6 61.6,448.1 60.9,447.7 60.3,447.2 59.6,446.8 58.9,446.3 58.3,445.9 57.6,445.5 56.9,445.1 56.3,444.8 55.6,444.4 54.9,444.1 54.3,443.8 53.6,443.5 52.9,443.3 52.3,443.1 51.6,442.9 50.9,442.7 50.3,442.6 49.6,442.5 49.0,442.4 48.3,442.4 47.6,442.4 47.0,442.4 46.3,442.4 45.6,442.5 45.0,442.5 44.3,442.5 43.6,442.6 43.0,442.7 42.3,442.7 41.6,442.8 41.0,442.9 40.3,443.0 39.6,443.2 39.0,443.3 38.3,443.4 37.6,443.6 37.0,443.8 36.3,444.0 35.6,444.2 35.0,444.4 34.3,444.6 33.6,444.8 33.0,445.1 32.3,445.4 31.7,445.6 31.0,445.9 30.3,446.3 29.7,446.6 29.0,446.9 28.3,447.3 27.7,447.7 27.0,448.1 26.3,448.5 25.7,448.9 25.0,449.4" fill="rgb(250,227,210)"/>
<polygon points="25.0,434.1 25.7,433.2 26.3,432.3 27.0,431.5 27.7,430.7 28.3,429.9 29.0,429.1 29.7,428.4 30.3,427.6 31.0,427.0 31.7,426.3 32.3,425.7 33.0,425.1 33.6,424.5 34.3,423.9 35.0,423.4 35.6,422.9 36.3,422.4 37.0,422.0 37.6,421.6 38.3,421.2 39.0,420.8 39.6,420.5 40.3,420.1 41.0,419.9 41.6,419.6 42.3,419.4 43.0,419.1 43.6,419.0 44.3,418.8 45.0,418.7 45.6,418.6 46.3,418.5 47.0,418.4 47.6,418.4 48.3,418.4 49.0,418.5 49.6,418.5 50.3,418.7 50.9,418.9 51.6,419.1 52.3,419.3 52.9,419.6 53.6,420.0 54.3,420.3 54.9,420.7 55.6,421.1 56.3,421.5 56.9,422.0 57.6,422.4 58.3,422.9 58.9,423.4 59.6,423.9 60.3,424.4 60.9,424.9 61.6,425.4 62.3,426.0 62.9,426.5 63.6,427.0 64.3,427.5 64.9,428.0 65.6,428.4 66.3,428.9 66.9,429.3 67.6,429.8 68.2,430.2 68.9,430.7 69.6,431.2 70.2,431.7 70.9,432.2 71.6,432.7 72.2,433.2 72.9,433.8 73.6,434.3 74.2,434.9 74.9,435.4 75.6,436.0 76.2,436.5 76.9,437.1 77.6,437.7 78.2,438.2 78.9,438.8 79.6,439.3 80.2,439.9 80.9,440.4 81.6,441.0 82.2,441.5 82.9,442.0 83.6,442.5 84.2,443.0 84.9,443.5 85.5,444.0 86.2,444.4 86.9,444.9 87.5,445.3 88.2,445.7 88.9,446.1 89.5,446.5 90.2,446.8 90.9,447.1 91.5,447.4 92.2,447.7 92.9,448.0 93.5,448.3 94.2,448.6 94.9,448.8 95.5,449.1 96.2,449.3 96.9,449.5 97.5,449.8 98.2,450.0 98.9,450.2 99.5,450.4 100.2,450.7 100.9,450.9 101.5,451.1 102.2,451.3 102.8,451.5 103.5,451.7 104.2,451.8 104.8,452.0 105.5,452.2 106.2,452.4 106.8,452.5 107.5,452.7 108.2,452.8 108.8,453.0 109.5,453.2 110.2,453.3 110.8,453.5 111.5,453.7 112.2,453.8 112.8,454.0 113.5,454.2 114.2,454.4 114.8,454.6 115.5,454.8 116.2,455.0 116.8,455.2 117.5,455.5 118.2,455.7 118.8,456.0 119.5,456.3 120.1,456.6 120.8,456.9 121.5,457.4 122.1,458.0 122.8,458.6 123.5,459.2 124.1,459.9 124.8,460.6 125.5,461.3 126.1,461.9 126.8,462.5 127.5,463.0 128.1,463.4 128.8,463.8 129.5,463.9 130.1,464.0 130.8,464.0 131.5,463.9 132.1,463.9 132.8,463.8 133.5,463.7 134.1,463.5 134.8,463.4 135.5,463.2 136.1,463.0 136.8,462.8 137.4,462.5 138.1,462.3 138.8,462.0 139.4,461.7 140.1,461.4 140.8,461.1 141.4,460.8 142.1,460.5 142.8,460.1 143.4,459.8 144.1,459.4 144.8,459.0 145.4,458.6 146.1,458.2 146.8,457.8 147.4,457.4 148.1,457.0 148.8,456.6 149.4,456.1 150.1,455.7 150.8,455.3 151.4,454.8 152.1,454.4 152.8,454.0 153.4,453.6 154.1,453.1 154.7,452.7 155.4,452.3 156.1,451.8 156.7,451.4 157.4,451.0 158.1,450.6 158.7,450.2 159.4,449.8 160.1,449.5 160.7,449.1 161.4,448.7 162.1,448.4 162.7,448.0 163.4,447.7 164.1,447.4 164.7,447.1 165.4,446.8 166.1,446.6 166.7,446.3 167.4,446.0 168.1,445.7 168.7,445.4 169.4,445.2 170.1,444.9 170.7,444.6 171.4,444.4 172.0,444.1 172.7,443.8 173.4,443.5 174.0,443.3 174.7,443.0 175.4,442.8 176.0,442.5 176.7,442.2 177.4,442.0 178.0,441.7 178.7,441.5 179.4,441.2 180.0,441.0 180.7,440.7 181.4,440.4 182.0,440.2 182.7,440.0 183.4,439.7 184.0,439.5 184.7,439.2 185.4,439.0 186.0,438.7 186.7,438.5 187.4,438.3 188.0,438.0 188.7,437.8 189.3,437.6 190.0,437.3 190.7,437.1 191.3,436.9 192.0,436.6 192.7,436.4 193.3,436.2 194.0,436.0 194.7,435.7 195.3,435.5 196.0,435.3 196.0,452.9 195.3,453.0 194.7,453.1 194.0,453.3 193.3,453.4 192.7,453.5 192.0,453.7 191.3,453.8 190.7,453.9 190.0,454.1 189.3,454.3 188.7,454.4 188.0,454.6 187.4,454.8 186.7,454.9 186.0,455.1 185.4,455.3 184.7,455.5 184.0,455.7 183.4,455.9 182.7,456.1 182.0,456.3 181.4,456.5 180.7,456.7 180.0,456.9 179.4,457.1 178.7,457.3 178.0,457.5 177.4,457.8 176.7,458.0 176.0,458.2 175.4,458.5 174.7,458.7 174.0,458.9 173.4,459.2 172.7,459.4 172.0,459.7 171.4,459.9 170.7,460.2 170.1,460.4 169.4,460.7 168.7,460.9 168.1,461.2 167.4,461.4 166.7,461.7 166.1,462.0 165.4,462.2 164.7,462.5 164.1,462.8 163.4,463.1 162.7,463.5 162.1,463.8 161.4,464.2 160.7,464.6 160.1,465.0 159.4,465.4 158.7,465.9 158.1,466.4 157.4,466.8 156.7,467.3 156.1,467.8 155.4,468.3 154.7,468.8 154.1,469.4 153.4,469.9 152.8,470.4 152.1,471.0 151.4,471.5 150.8,472.1 150.1,472.6 149.4,473.2 148.8,473.7 148.1,474.2 147.4,474.8 146.8,475.3 146.1,475.8 145.4,476.3 144.8,476.9 144.1,477.4 143.4,477.8 142.8,478.3 142.1,478.8 141.4,479.2 140.8,479.7 140.1,480.1 139.4,480.5 138.8,480.8 138.1,481.2 137.4,481.5 136.8,481.9 136.1,482.1 135.5,482.4 134.8,482.7 134.1,482.9 133.5,483.0 132.8,483.2 132.1,483.3 131.5,483.4 130.8,483.5 130.1,483.5 129.5,483.5 128.8,483.3 128.1,483.1 127.5,482.8 126.8,482.4 126.1,482.0 125.5,481.5 124.8,481.0 124.1,480.4 123.5,479.9 122.8,479.4 122.1,478.9 121.5,478.4 120.8,478.0 120.1,477.7 119.5,477.4 118.8,477.1 118.2,476.8 117.5,476.5 116.8,476.2 116.2,476.0 115.5,475.7 114.8,475.4 114.2,475.2 113.5,474.9 112.8,474.7 112.2,474.4 111.5,474.2 110.8,474.0 110.2,473.8 109.5,473.5 108.8,473.3 108.2,473.1 107.5,472.9 106.8,472.7 106.2,472.4 105.5,472.2 104.8,472.0 104.2,471.8 103.5,471.6 102.8,471.4 102.2,471.2 101.5,471.0 100.9,470.8 100.2,470.7 99.5,470.5 98.9,470.3 98.2,470.1 97.5,470.0 96.9,469.8 96.2,469.7 95.5,469.5 94.9,469.4 94.2,469.2 93.5,469.1 92.9,468.9 92.2,468.7 91.5,468.5 90.9,468.3 90.2,468.1 89.5,467.8 88.9,467.5 88.2,467.2 87.5,466.8 86.9,466.4 86.2,466.0 85.5,465.6 84.9,465.2 84.2,464.8 83.6,464.3 82.9,463.9 82.2,463.4 81.6,463.0 80.9,462.5 80.2,462.1 79.6,461.7 78.9,461.3 78.2,460.9 77.6,460.4 76.9,460.0 76.2,459.5 75.6,459.1 74.9,458.6 74.2,458.1 73.6,457.6 72.9,457.1 72.2,456.6 71.6,456.0 70.9,455.5 70.2,455.0 69.6,454.4 68.9,453.9 68.2,453.4 67.6,452.8 66.9,452.3 66.3,451.7 65.6,451.2 64.9,450.7 64.3,450.2 63.6,449.6 62.9,449.1 62.3,448.6 61.6,448.1 60.9,447.7 60.3,447.2 59.6,446.8 58.9,446.3 58.3,445.9 57.6,445.5 56.9,445.1 56.3,444.8 55.6,444.4 54.9,444.1 54.3,443.8 53.6,443.5 52.9,443.3 52.3,443.1 51.6,442.9 50.9,442.7 50.3,442.6 49.6,442.5 49.0,442.4 48.3,442.4 47.6,442.4 47.0,442.4 46.3,442.4 45.6,442.5 45.0,442.5 44.3,442.5 43.6,442.6 43.0,442.7 42.3,442.7 41.6,442.8 41.0,442.9 40.3,443.0 39.6,443.2 39.0,443.3 38.3,443.4 37.6,443.6 37.0,443.8 36.3,444.0 35.6,444.2 35.0,444.4 34.3,444.6 33.6,444.8 33.0,445.1 32.3,445.4 31.7,445.6 31.0,445.9 30.3,446.3 29.7,446.6 29.0,446.9 28.3,447.3 27.7,447.7 27.0,448.1 26.3,448.5 25.7,448.9 25.0,449.4" fill="rgb(226,192,226)" clip-path="url(#clp4)"/>
<polyline points="25.0,430.6 25.7,429.5 26.3,428.5 27.0,427.5 27.7,426.6 28.3,425.6 29.0,424.7 29.7,423.9 30.3,423.0 31.0,422.2 31.7,421.4 32.3,420.7 33.0,419.9 33.6,419.3 34.3,418.6 35.0,418.0 35.6,417.4 36.3,416.8 37.0,416.3 37.6,415.8 38.3,415.4 39.0,415.0 39.6,414.6 40.3,414.3 41.0,414.0 41.6,413.7 42.3,413.5 43.0,413.3 43.6,413.1 44.3,413.0 45.0,412.9 45.6,412.9 46.3,412.9 47.0,413.0 47.6,413.1 48.3,413.2 49.0,413.4 49.6,413.6 50.3,413.9 50.9,414.2 51.6,414.5 52.3,414.9 52.9,415.3 53.6,415.7 54.3,416.2 54.9,416.7 55.6,417.2 56.3,417.7 56.9,418.2 57.6,418.8 58.3,419.3 58.9,419.9 59.6,420.5 60.3,421.1 60.9,421.7 61.6,422.3 62.3,422.9 62.9,423.5 63.6,424.1 64.3,424.7 64.9,425.3 65.6,425.8 66.3,426.4 66.9,426.9 67.6,427.5 68.2,428.1 68.9,428.7 69.6,429.3 70.2,430.0 70.9,430.7 71.6,431.4 72.2,432.1 72.9,432.9 73.6,433.6 74.2,434.4 74.9,435.1 75.6,435.9 76.2,436.6 76.9,437.4 77.6,438.1 78.2,438.8 78.9,439.5 79.6,440.2 80.2,440.8 80.9,441.4 81.6,442.0 82.2,442.6 82.9,443.1 83.6,443.5 84.2,444.0 84.9,444.4 85.5,444.8 86.2,445.2 86.9,445.6 87.5,445.9 88.2,446.3 88.9,446.6 89.5,447.0 90.2,447.3 90.9,447.6 91.5,447.9 92.2,448.2 92.9,448.6 93.5,448.9 94.2,449.2 94.9,449.5 95.5,449.8 96.2,450.1 96.9,450.4 97.5,450.7 98.2,451.1 98.9,451.4 99.5,451.7 100.2,452.1 100.9,452.5 101.5,452.8 102.2,453.2 102.8,453.5 103.5,453.9 104.2,454.3 104.8,454.6 105.5,455.0 106.2,455.3 106.8,455.7 107.5,456.1 108.2,456.4 108.8,456.8 109.5,457.2 110.2,457.5 110.8,457.9 111.5,458.3 112.2,458.7 112.8,459.1 113.5,459.5 114.2,459.8 114.8,460.2 115.5,460.6 116.2,461.1 116.8,461.5 117.5,461.9 118.2,462.3 118.8,462.7 119.5,463.2 120.1,463.6 120.8,464.1 121.5,464.6 122.1,465.2 122.8,465.9 123.5,466.5 124.1,467.2 124.8,467.9 125.5,468.5 126.1,469.2 126.8,469.8 127.5,470.3 128.1,470.8 128.8,471.2 129.5,471.5 130.1,471.7 130.8,471.8 131.5,471.8 132.1,471.7 132.8,471.6 133.5,471.5 134.1,471.2 134.8,471.0 135.5,470.7 136.1,470.4 136.8,470.0 137.4,469.6 138.1,469.1 138.8,468.6 139.4,468.1 140.1,467.6 140.8,467.0 141.4,466.4 142.1,465.8 142.8,465.1 143.4,464.5 144.1,463.8 144.8,463.1 145.4,462.4 146.1,461.7 146.8,460.9 147.4,460.2 148.1,459.4 148.8,458.7 149.4,457.9 150.1,457.1 150.8,456.4 151.4,455.6 152.1,454.8 152.8,454.1 153.4,453.3 154.1,452.6 154.7,451.9 155.4,451.2 156.1,450.5 156.7,449.8 157.4,449.1 158.1,448.5 158.7,447.9 159.4,447.3 160.1,446.7 160.7,446.2 161.4,445.7 162.1,445.2 162.7,444.7 163.4,444.3 164.1,444.0 164.7,443.6 165.4,443.3 166.1,443.0 166.7,442.7 167.4,442.5 168.1,442.2 168.7,441.9 169.4,441.6 170.1,441.3 170.7,441.0 171.4,440.7 172.0,440.5 172.7,440.2 173.4,439.9 174.0,439.7 174.7,439.4 175.4,439.1 176.0,438.9 176.7,438.6 177.4,438.4 178.0,438.1 178.7,437.9 179.4,437.7 180.0,437.4 180.7,437.2 181.4,437.0 182.0,436.8 182.7,436.6 183.4,436.4 184.0,436.2 184.7,436.0 185.4,435.8 186.0,435.7 186.7,435.5 187.4,435.3 188.0,435.2 188.7,435.1 189.3,434.9 190.0,434.8 190.7,434.7 191.3,434.6 192.0,434.5 192.7,434.4 193.3,434.3 194.0,434.2 194.7,434.2 195.3,434.1 196.0,434.1" fill="none" stroke="rgb(135,135,246)" stroke-width="0.95"/>
<polyline points="25.0,447.0 25.7,446.3 26.3,445.6 27.0,444.9 27.7,444.2 28.3,443.6 29.0,442.9 29.7,442.3 30.3,441.7 31.0,441.1 31.7,440.6 32.3,440.0 33.0,439.5 33.6,439.0 34.3,438.5 35.0,438.1 35.6,437.6 36.3,437.2 37.0,436.8 37.6,436.4 38.3,436.1 39.0,435.8 39.6,435.5 40.3,435.2 41.0,435.0 41.6,434.8 42.3,434.6 43.0,434.4 43.6,434.3 44.3,434.2 45.0,434.1 45.6,434.1 46.3,434.1 47.0,434.1 47.6,434.2 48.3,434.3 49.0,434.4 49.6,434.5 50.3,434.7 50.9,434.9 51.6,435.1 52.3,435.3 52.9,435.5 53.6,435.8 54.3,436.1 54.9,436.4 55.6,436.7 56.3,437.1 56.9,437.5 57.6,437.9 58.3,438.3 58.9,438.7 59.6,439.1 60.3,439.5 60.9,440.0 61.6,440.5 62.3,441.0 62.9,441.5 63.6,442.0 64.3,442.5 64.9,443.0 65.6,443.5 66.3,444.1 66.9,444.6 67.6,445.2 68.2,445.7 68.9,446.3 69.6,446.8 70.2,447.4 70.9,448.0 71.6,448.5 72.2,449.1 72.9,449.7 73.6,450.2 74.2,450.8 74.9,451.4 75.6,451.9 76.2,452.5 76.9,453.1 77.6,453.6 78.2,454.2 78.9,454.7 79.6,455.2 80.2,455.8 80.9,456.3 81.6,456.8 82.2,457.3 82.9,457.9 83.6,458.5 84.2,459.2 84.9,459.8 85.5,460.4 86.2,461.1 86.9,461.7 87.5,462.3 88.2,462.9 88.9,463.5 89.5,464.0 90.2,464.5 90.9,464.9 91.5,465.2 92.2,465.6 92.9,465.9 93.5,466.2 94.2,466.5 94.9,466.8 95.5,467.1 96.2,467.3 96.9,467.5 97.5,467.8 98.2,468.0 98.9,468.2 99.5,468.4 100.2,468.7 100.9,468.9 101.5,469.1 102.2,469.3 102.8,469.6 103.5,469.8 104.2,470.1 104.8,470.4 105.5,470.7 106.2,471.0 106.8,471.4 107.5,471.7 108.2,472.1 108.8,472.5 109.5,473.0 110.2,473.5 110.8,474.2 111.5,474.9 112.2,475.8 112.8,476.7 113.5,477.7 114.2,478.7 114.8,479.7 115.5,480.8 116.2,481.8 116.8,482.8 117.5,483.8 118.2,484.8 118.8,485.7 119.5,486.4 120.1,487.1 120.8,487.8 121.5,488.5 122.1,489.3 122.8,490.0 123.5,490.7 124.1,491.4 124.8,492.1 125.5,492.8 126.1,493.5 126.8,494.1 127.5,494.6 128.1,495.1 128.8,495.5 129.5,495.9 130.1,496.2 130.8,496.4 131.5,496.5 132.1,496.5 132.8,496.4 133.5,496.3 134.1,496.1 134.8,495.9 135.5,495.6 136.1,495.2 136.8,494.8 137.4,494.3 138.1,493.8 138.8,493.3 139.4,492.7 140.1,492.0 140.8,491.4 141.4,490.6 142.1,489.9 142.8,489.1 143.4,488.3 144.1,487.5 144.8,486.7 145.4,485.8 146.1,484.9 146.8,484.0 147.4,483.1 148.1,482.2 148.8,481.2 149.4,480.3 150.1,479.4 150.8,478.4 151.4,477.5 152.1,476.5 152.8,475.6 153.4,474.7 154.1,473.8 154.7,472.9 155.4,472.0 156.1,471.1 156.7,470.3 157.4,469.4 158.1,468.6 158.7,467.9 159.4,467.1 160.1,466.4 160.7,465.7 161.4,465.1 162.1,464.5 162.7,463.9 163.4,463.4 164.1,463.0 164.7,462.6 165.4,462.2 166.1,461.8 166.7,461.5 167.4,461.1 168.1,460.7 168.7,460.4 169.4,460.0 170.1,459.7 170.7,459.3 171.4,459.0 172.0,458.6 172.7,458.3 173.4,457.9 174.0,457.6 174.7,457.3 175.4,456.9 176.0,456.6 176.7,456.3 177.4,456.0 178.0,455.7 178.7,455.4 179.4,455.1 180.0,454.8 180.7,454.5 181.4,454.3 182.0,454.0 182.7,453.8 183.4,453.5 184.0,453.3 184.7,453.0 185.4,452.8 186.0,452.6 186.7,452.4 187.4,452.2 188.0,452.0 188.7,451.8 189.3,451.7 190.0,451.5 190.7,451.4 191.3,451.2 192.0,451.1 192.7,451.0 193.3,450.9 194.0,450.8 194.7,450.7 195.3,450.7 196.0,450.6" fill="none" stroke="rgb(135,135,246)" stroke-width="0.95"/>
<polyline points="25.0,434.1 25.7,433.2 26.3,432.3 27.0,431.5 27.7,430.7 28.3,429.9 29.0,429.1 29.7,428.4 30.3,427.6 31.0,427.0 31.7,426.3 32.3,425.7 33.0,425.1 33.6,424.5 34.3,423.9 35.0,423.4 35.6,422.9 36.3,422.4 37.0,422.0 37.6,421.6 38.3,421.2 39.0,420.8 39.6,420.5 40.3,420.1 41.0,419.9 41.6,419.6 42.3,419.4 43.0,419.1 43.6,419.0 44.3,418.8 45.0,418.7 45.6,418.6 46.3,418.5 47.0,418.4 47.6,418.4 48.3,418.4 49.0,418.5 49.6,418.5 50.3,418.7 50.9,418.9 51.6,419.1 52.3,419.3 52.9,419.6 53.6,420.0 54.3,420.3 54.9,420.7 55.6,421.1 56.3,421.5 56.9,422.0 57.6,422.4 58.3,422.9 58.9,423.4 59.6,423.9 60.3,424.4 60.9,424.9 61.6,425.4 62.3,426.0 62.9,426.5 63.6,427.0 64.3,427.5 64.9,428.0 65.6,428.4 66.3,428.9 66.9,429.3 67.6,429.8 68.2,430.2 68.9,430.7 69.6,431.2 70.2,431.7 70.9,432.2 71.6,432.7 72.2,433.2 72.9,433.8 73.6,434.3 74.2,434.9 74.9,435.4 75.6,436.0 76.2,436.5 76.9,437.1 77.6,437.7 78.2,438.2 78.9,438.8 79.6,439.3 80.2,439.9 80.9,440.4 81.6,441.0 82.2,441.5 82.9,442.0 83.6,442.5 84.2,443.0 84.9,443.5 85.5,444.0 86.2,444.4 86.9,444.9 87.5,445.3 88.2,445.7 88.9,446.1 89.5,446.5 90.2,446.8 90.9,447.1 91.5,447.4 92.2,447.7 92.9,448.0 93.5,448.3 94.2,448.6 94.9,448.8 95.5,449.1 96.2,449.3 96.9,449.5 97.5,449.8 98.2,450.0 98.9,450.2 99.5,450.4 100.2,450.7 100.9,450.9 101.5,451.1 102.2,451.3 102.8,451.5 103.5,451.7 104.2,451.8 104.8,452.0 105.5,452.2 106.2,452.4 106.8,452.5 107.5,452.7 108.2,452.8 108.8,453.0 109.5,453.2 110.2,453.3 110.8,453.5 111.5,453.7 112.2,453.8 112.8,454.0 113.5,454.2 114.2,454.4 114.8,454.6 115.5,454.8 116.2,455.0 116.8,455.2 117.5,455.5 118.2,455.7 118.8,456.0 119.5,456.3 120.1,456.6 120.8,456.9 121.5,457.4 122.1,458.0 122.8,458.6 123.5,459.2 124.1,459.9 124.8,460.6 125.5,461.3 126.1,461.9 126.8,462.5 127.5,463.0 128.1,463.4 128.8,463.8 129.5,463.9 130.1,464.0 130.8,464.0 131.5,463.9 132.1,463.9 132.8,463.8 133.5,463.7 134.1,463.5 134.8,463.4 135.5,463.2 136.1,463.0 136.8,462.8 137.4,462.5 138.1,462.3 138.8,462.0 139.4,461.7 140.1,461.4 140.8,461.1 141.4,460.8 142.1,460.5 142.8,460.1 143.4,459.8 144.1,459.4 144.8,459.0 145.4,458.6 146.1,458.2 146.8,457.8 147.4,457.4 148.1,457.0 148.8,456.6 149.4,456.1 150.1,455.7 150.8,455.3 151.4,454.8 152.1,454.4 152.8,454.0 153.4,453.6 154.1,453.1 154.7,452.7 155.4,452.3 156.1,451.8 156.7,451.4 157.4,451.0 158.1,450.6 158.7,450.2 159.4,449.8 160.1,449.5 160.7,449.1 161.4,448.7 162.1,448.4 162.7,448.0 163.4,447.7 164.1,447.4 164.7,447.1 165.4,446.8 166.1,446.6 166.7,446.3 167.4,446.0 168.1,445.7 168.7,445.4 169.4,445.2 170.1,444.9 170.7,444.6 171.4,444.4 172.0,444.1 172.7,443.8 173.4,443.5 174.0,443.3 174.7,443.0 175.4,442.8 176.0,442.5 176.7,442.2 177.4,442.0 178.0,441.7 178.7,441.5 179.4,441.2 180.0,441.0 180.7,440.7 181.4,440.4 182.0,440.2 182.7,440.0 183.4,439.7 184.0,439.5 184.7,439.2 185.4,439.0 186.0,438.7 186.7,438.5 187.4,438.3 188.0,438.0 188.7,437.8 189.3,437.6 190.0,437.3 190.7,437.1 191.3,436.9 192.0,436.6 192.7,436.4 193.3,436.2 194.0,436.0 194.7,435.7 195.3,435.5 196.0,435.3" fill="none" stroke="rgb(247,175,135)" stroke-width="0.95"/>
<polyline points="25.0,449.4 25.7,448.9 26.3,448.5 27.0,448.1 27.7,447.7 28.3,447.3 29.0,446.9 29.7,446.6 30.3,446.3 31.0,445.9 31.7,445.6 32.3,445.4 33.0,445.1 33.6,444.8 34.3,444.6 35.0,444.4 35.6,444.2 36.3,444.0 37.0,443.8 37.6,443.6 38.3,443.4 39.0,443.3 39.6,443.2 40.3,443.0 41.0,442.9 41.6,442.8 42.3,442.7 43.0,442.7 43.6,442.6 44.3,442.5 45.0,442.5 45.6,442.5 46.3,442.4 47.0,442.4 47.6,442.4 48.3,442.4 49.0,442.4 49.6,442.5 50.3,442.6 50.9,442.7 51.6,442.9 52.3,443.1 52.9,443.3 53.6,443.5 54.3,443.8 54.9,444.1 55.6,444.4 56.3,444.8 56.9,445.1 57.6,445.5 58.3,445.9 58.9,446.3 59.6,446.8 60.3,447.2 60.9,447.7 61.6,448.1 62.3,448.6 62.9,449.1 63.6,449.6 64.3,450.2 64.9,450.7 65.6,451.2 66.3,451.7 66.9,452.3 67.6,452.8 68.2,453.4 68.9,453.9 69.6,454.4 70.2,455.0 70.9,455.5 71.6,456.0 72.2,456.6 72.9,457.1 73.6,457.6 74.2,458.1 74.9,458.6 75.6,459.1 76.2,459.5 76.9,460.0 77.6,460.4 78.2,460.9 78.9,461.3 79.6,461.7 80.2,462.1 80.9,462.5 81.6,463.0 82.2,463.4 82.9,463.9 83.6,464.3 84.2,464.8 84.9,465.2 85.5,465.6 86.2,466.0 86.9,466.4 87.5,466.8 88.2,467.2 88.9,467.5 89.5,467.8 90.2,468.1 90.9,468.3 91.5,468.5 92.2,468.7 92.9,468.9 93.5,469.1 94.2,469.2 94.9,469.4 95.5,469.5 96.2,469.7 96.9,469.8 97.5,470.0 98.2,470.1 98.9,470.3 99.5,470.5 100.2,470.7 100.9,470.8 101.5,471.0 102.2,471.2 102.8,471.4 103.5,471.6 104.2,471.8 104.8,472.0 105.5,472.2 106.2,472.4 106.8,472.7 107.5,472.9 108.2,473.1 108.8,473.3 109.5,473.5 110.2,473.8 110.8,474.0 111.5,474.2 112.2,474.4 112.8,474.7 113.5,474.9 114.2,475.2 114.8,475.4 115.5,475.7 116.2,476.0 116.8,476.2 117.5,476.5 118.2,476.8 118.8,477.1 119.5,477.4 120.1,477.7 120.8,478.0 121.5,478.4 122.1,478.9 122.8,479.4 123.5,479.9 124.1,480.4 124.8,481.0 125.5,481.5 126.1,482.0 126.8,482.4 127.5,482.8 128.1,483.1 128.8,483.3 129.5,483.5 130.1,483.5 130.8,483.5 131.5,483.4 132.1,483.3 132.8,483.2 133.5,483.0 134.1,482.9 134.8,482.7 135.5,482.4 136.1,482.1 136.8,481.9 137.4,481.5 138.1,481.2 138.8,480.8 139.4,480.5 140.1,480.1 140.8,479.7 141.4,479.2 142.1,478.8 142.8,478.3 143.4,477.8 144.1,477.4 144.8,476.9 145.4,476.3 146.1,475.8 146.8,475.3 147.4,474.8 148.1,474.2 148.8,473.7 149.4,473.2 150.1,472.6 150.8,472.1 151.4,471.5 152.1,471.0 152.8,470.4 153.4,469.9 154.1,469.4 154.7,468.8 155.4,468.3 156.1,467.8 156.7,467.3 157.4,466.8 158.1,466.4 158.7,465.9 159.4,465.4 160.1,465.0 160.7,464.6 161.4,464.2 162.1,463.8 162.7,463.5 163.4,463.1 164.1,462.8 164.7,462.5 165.4,462.2 166.1,462.0 166.7,461.7 167.4,461.4 168.1,461.2 168.7,460.9 169.4,460.7 170.1,460.4 170.7,460.2 171.4,459.9 172.0,459.7 172.7,459.4 173.4,459.2 174.0,458.9 174.7,458.7 175.4,458.5 176.0,458.2 176.7,458.0 177.4,457.8 178.0,457.5 178.7,457.3 179.4,457.1 180.0,456.9 180.7,456.7 181.4,456.5 182.0,456.3 182.7,456.1 183.4,455.9 184.0,455.7 184.7,455.5 185.4,455.3 186.0,455.1 186.7,454.9 187.4,454.8 188.0,454.6 188.7,454.4 189.3,454.3 190.0,454.1 190.7,453.9 191.3,453.8 192.0,453.7 192.7,453.5 193.3,453.4 194.0,453.3 194.7,453.1 195.3,453.0 196.0,452.9" fill="none" stroke="rgb(247,175,135)" stroke-width="0.95"/>
</g>
<line x1="25.2" y1="453.2" x2="195.9" y2="453.2" stroke="#6a6a6a" stroke-width="1.0"/>
<polyline points="25.0,440.0 25.7,439.0 26.3,438.0 27.0,437.1 27.7,436.1 28.3,435.2 29.0,434.4 29.7,433.6 30.3,432.8 31.0,432.0 31.7,431.3 32.3,430.6 33.0,429.9 33.6,429.3 34.3,428.7 35.0,428.1 35.6,427.6 36.3,427.1 37.0,426.6 37.6,426.1 38.3,425.7 39.0,425.4 39.6,425.0 40.3,424.7 41.0,424.5 41.6,424.2 42.3,424.0 43.0,423.8 43.6,423.7 44.3,423.6 45.0,423.5 45.6,423.5 46.3,423.5 47.0,423.6 47.6,423.7 48.3,423.8 49.0,424.0 49.6,424.3 50.3,424.6 50.9,424.9 51.6,425.3 52.3,425.7 52.9,426.2 53.6,426.6 54.3,427.1 54.9,427.6 55.6,428.2 56.3,428.8 56.9,429.3 57.6,430.0 58.3,430.6 58.9,431.2 59.6,431.8 60.3,432.5 60.9,433.1 61.6,433.8 62.3,434.4 62.9,435.1 63.6,435.7 64.3,436.3 64.9,437.0 65.6,437.6 66.3,438.2 66.9,438.7 67.6,439.3 68.2,439.9 68.9,440.6 69.6,441.3 70.2,442.0 70.9,442.7 71.6,443.5 72.2,444.2 72.9,445.0 73.6,445.8 74.2,446.5 74.9,447.3 75.6,448.0 76.2,448.7 76.9,449.4 77.6,450.1 78.2,450.7 78.9,451.3 79.6,451.8 80.2,452.3 80.9,452.7 81.6,453.1 82.2,453.5 82.9,453.8 83.6,454.1 84.2,454.4 84.9,454.7 85.5,455.0 86.2,455.3 86.9,455.6 87.5,455.8 88.2,456.1 88.9,456.3 89.5,456.6 90.2,456.8 90.9,457.0 91.5,457.2 92.2,457.5 92.9,457.7 93.5,457.9 94.2,458.1 94.9,458.3 95.5,458.5 96.2,458.7 96.9,458.9 97.5,459.2 98.2,459.4 98.9,459.6 99.5,459.8 100.2,460.1 100.9,460.3 101.5,460.5 102.2,460.7 102.8,460.9 103.5,461.1 104.2,461.3 104.8,461.5 105.5,461.7 106.2,462.0 106.8,462.3 107.5,462.7 108.2,463.2 108.8,463.7 109.5,464.4 110.2,465.1 110.8,465.9 111.5,466.7 112.2,467.6 112.8,468.6 113.5,469.5 114.2,470.5 114.8,471.4 115.5,472.3 116.2,473.3 116.8,474.2 117.5,475.0 118.2,475.8 118.8,476.5 119.5,477.2 120.1,477.7 120.8,478.3 121.5,478.8 122.1,479.4 122.8,480.0 123.5,480.5 124.1,481.1 124.8,481.6 125.5,482.0 126.1,482.5 126.8,482.8 127.5,483.1 128.1,483.3 128.8,483.5 129.5,483.5 130.1,483.5 130.8,483.4 131.5,483.2 132.1,483.0 132.8,482.7 133.5,482.4 134.1,482.0 134.8,481.6 135.5,481.1 136.1,480.6 136.8,480.1 137.4,479.5 138.1,478.9 138.8,478.3 139.4,477.7 140.1,477.1 140.8,476.4 141.4,475.8 142.1,475.1 142.8,474.5 143.4,473.8 144.1,473.2 144.8,472.6 145.4,472.0 146.1,471.4 146.8,470.8 147.4,470.2 148.1,469.7 148.8,469.1 149.4,468.4 150.1,467.8 150.8,467.1 151.4,466.4 152.1,465.7 152.8,465.0 153.4,464.3 154.1,463.6 154.7,462.9 155.4,462.2 156.1,461.5 156.7,460.8 157.4,460.2 158.1,459.5 158.7,458.9 159.4,458.3 160.1,457.7 160.7,457.2 161.4,456.7 162.1,456.2 162.7,455.7 163.4,455.4 164.1,455.0 164.7,454.7 165.4,454.3 166.1,454.0 166.7,453.7 167.4,453.5 168.1,453.2 168.7,452.9 169.4,452.7 170.1,452.4 170.7,452.2 171.4,451.9 172.0,451.7 172.7,451.5 173.4,451.3 174.0,451.1 174.7,450.9 175.4,450.6 176.0,450.4 176.7,450.2 177.4,450.0 178.0,449.8 178.7,449.6 179.4,449.3 180.0,449.1 180.7,448.9 181.4,448.6 182.0,448.3 182.7,448.1 183.4,447.8 184.0,447.5 184.7,447.3 185.4,447.0 186.0,446.7 186.7,446.4 187.4,446.2 188.0,445.9 188.7,445.6 189.3,445.3 190.0,445.0 190.7,444.7 191.3,444.5 192.0,444.2 192.7,443.9 193.3,443.6 194.0,443.3 194.7,443.0 195.3,442.7 196.0,442.4" fill="none" stroke="#6a2ea6" stroke-width="2.1" stroke-linejoin="round"/>
<polyline points="25.0,441.2 25.7,440.6 26.3,440.0 27.0,439.4 27.7,438.8 28.3,438.2 29.0,437.7 29.7,437.2 30.3,436.7 31.0,436.2 31.7,435.7 32.3,435.3 33.0,434.8 33.6,434.4 34.3,434.0 35.0,433.7 35.6,433.3 36.3,433.0 37.0,432.7 37.6,432.4 38.3,432.1 39.0,431.9 39.6,431.6 40.3,431.4 41.0,431.2 41.6,431.1 42.3,430.9 43.0,430.8 43.6,430.7 44.3,430.7 45.0,430.6 45.6,430.6 46.3,430.6 47.0,430.6 47.6,430.7 48.3,430.8 49.0,431.0 49.6,431.1 50.3,431.3 50.9,431.5 51.6,431.8 52.3,432.1 52.9,432.4 53.6,432.7 54.3,433.0 54.9,433.4 55.6,433.8 56.3,434.2 56.9,434.6 57.6,435.1 58.3,435.5 58.9,436.0 59.6,436.5 60.3,437.0 60.9,437.5 61.6,438.0 62.3,438.5 62.9,439.1 63.6,439.6 64.3,440.2 64.9,440.7 65.6,441.3 66.3,441.8 66.9,442.4 67.6,442.9 68.2,443.5 68.9,444.1 69.6,444.6 70.2,445.2 70.9,445.7 71.6,446.2 72.2,446.8 72.9,447.3 73.6,447.8 74.2,448.3 74.9,448.8 75.6,449.2 76.2,449.7 76.9,450.1 77.6,450.6 78.2,451.0 78.9,451.4 79.6,451.7 80.2,452.1 80.9,452.5 81.6,452.9 82.2,453.3 82.9,453.7 83.6,454.1 84.2,454.4 84.9,454.8 85.5,455.2 86.2,455.5 86.9,455.9 87.5,456.2 88.2,456.6 88.9,456.9 89.5,457.2 90.2,457.4 90.9,457.7 91.5,457.9 92.2,458.2 92.9,458.4 93.5,458.6 94.2,458.8 94.9,459.0 95.5,459.2 96.2,459.4 96.9,459.5 97.5,459.7 98.2,459.9 98.9,460.1 99.5,460.3 100.2,460.5 100.9,460.7 101.5,460.9 102.2,461.1 102.8,461.4 103.5,461.6 104.2,461.9 104.8,462.2 105.5,462.5 106.2,462.7 106.8,463.0 107.5,463.4 108.2,463.7 108.8,464.0 109.5,464.3 110.2,464.6 110.8,465.0 111.5,465.3 112.2,465.6 112.8,466.0 113.5,466.3 114.2,466.6 114.8,467.0 115.5,467.3 116.2,467.6 116.8,468.0 117.5,468.3 118.2,468.6 118.8,468.9 119.5,469.2 120.1,469.5 120.8,469.8 121.5,470.1 122.1,470.4 122.8,470.8 123.5,471.1 124.1,471.5 124.8,471.8 125.5,472.2 126.1,472.5 126.8,472.8 127.5,473.1 128.1,473.4 128.8,473.6 129.5,473.8 130.1,473.9 130.8,474.0 131.5,474.1 132.1,474.1 132.8,474.1 133.5,474.0 134.1,473.9 134.8,473.8 135.5,473.6 136.1,473.4 136.8,473.2 137.4,473.0 138.1,472.7 138.8,472.4 139.4,472.1 140.1,471.8 140.8,471.5 141.4,471.1 142.1,470.7 142.8,470.3 143.4,469.9 144.1,469.5 144.8,469.1 145.4,468.6 146.1,468.1 146.8,467.7 147.4,467.2 148.1,466.7 148.8,466.2 149.4,465.7 150.1,465.2 150.8,464.7 151.4,464.3 152.1,463.8 152.8,463.3 153.4,462.8 154.1,462.3 154.7,461.8 155.4,461.3 156.1,460.9 156.7,460.4 157.4,459.9 158.1,459.5 158.7,459.1 159.4,458.7 160.1,458.3 160.7,457.9 161.4,457.5 162.1,457.2 162.7,456.9 163.4,456.5 164.1,456.3 164.7,456.0 165.4,455.7 166.1,455.4 166.7,455.1 167.4,454.8 168.1,454.5 168.7,454.3 169.4,454.0 170.1,453.7 170.7,453.4 171.4,453.2 172.0,452.9 172.7,452.6 173.4,452.3 174.0,452.1 174.7,451.8 175.4,451.6 176.0,451.3 176.7,451.0 177.4,450.8 178.0,450.5 178.7,450.3 179.4,450.0 180.0,449.8 180.7,449.5 181.4,449.3 182.0,449.1 182.7,448.8 183.4,448.6 184.0,448.4 184.7,448.1 185.4,447.9 186.0,447.7 186.7,447.5 187.4,447.3 188.0,447.0 188.7,446.8 189.3,446.6 190.0,446.4 190.7,446.2 191.3,446.0 192.0,445.8 192.7,445.6 193.3,445.4 194.0,445.2 194.7,445.1 195.3,444.9 196.0,444.7" fill="none" stroke="#f7892e" stroke-width="2.1" stroke-linejoin="round"/>
<rect x="25.2" y="407.1" width="170.70000000000002" height="96.19999999999999" fill="none" stroke="#a4a4a4" stroke-width="1.1"/>
<line x1="22.7" y1="496.08" x2="25.2" y2="496.08" stroke="#555" stroke-width="0.6"/>
<text x="21.599999999999998" y="497.83" font-size="4.9" text-anchor="end" font-weight="normal" fill="#333" stroke="#333" stroke-width="0.15" >−8</text>
<line x1="22.7" y1="485.36" x2="25.2" y2="485.36" stroke="#555" stroke-width="0.6"/>
<text x="21.599999999999998" y="487.11" font-size="4.9" text-anchor="end" font-weight="normal" fill="#333" stroke="#333" stroke-width="0.15" >−6</text>
<line x1="22.7" y1="474.64" x2="25.2" y2="474.64" stroke="#555" stroke-width="0.6"/>
<text x="21.599999999999998" y="476.39" font-size="4.9" text-anchor="end" font-weight="normal" fill="#333" stroke="#333" stroke-width="0.15" >−4</text>
<line x1="22.7" y1="463.92" x2="25.2" y2="463.92" stroke="#555" stroke-width="0.6"/>
<text x="21.599999999999998" y="465.67" font-size="4.9" text-anchor="end" font-weight="normal" fill="#333" stroke="#333" stroke-width="0.15" >−2</text>
<line x1="22.7" y1="453.20" x2="25.2" y2="453.20" stroke="#555" stroke-width="0.6"/>
<text x="21.599999999999998" y="454.95" font-size="4.9" text-anchor="end" font-weight="normal" fill="#333" stroke="#333" stroke-width="0.15" >0</text>
<line x1="22.7" y1="442.48" x2="25.2" y2="442.48" stroke="#555" stroke-width="0.6"/>
<text x="21.599999999999998" y="444.22999999999996" font-size="4.9" text-anchor="end" font-weight="normal" fill="#333" stroke="#333" stroke-width="0.15" >2</text>
<line x1="22.7" y1="431.76" x2="25.2" y2="431.76" stroke="#555" stroke-width="0.6"/>
<text x="21.599999999999998" y="433.51" font-size="4.9" text-anchor="end" font-weight="normal" fill="#333" stroke="#333" stroke-width="0.15" >4</text>
<line x1="22.7" y1="421.04" x2="25.2" y2="421.04" stroke="#555" stroke-width="0.6"/>
<text x="21.599999999999998" y="422.78999999999996" font-size="4.9" text-anchor="end" font-weight="normal" fill="#333" stroke="#333" stroke-width="0.15" >6</text>
<line x1="22.7" y1="410.32" x2="25.2" y2="410.32" stroke="#555" stroke-width="0.6"/>
<text x="21.599999999999998" y="412.07" font-size="4.9" text-anchor="end" font-weight="normal" fill="#333" stroke="#333" stroke-width="0.15" >8</text>
<line x1="25.20" y1="503.3" x2="25.20" y2="505.5" stroke="#555" stroke-width="0.6"/>
<text x="25.2" y="510.7" font-size="4.9" text-anchor="middle" font-weight="normal" fill="#333" stroke="#333" stroke-width="0.15" >0</text>
<line x1="59.34" y1="503.3" x2="59.34" y2="505.5" stroke="#555" stroke-width="0.6"/>
<text x="59.34" y="510.7" font-size="4.9" text-anchor="middle" font-weight="normal" fill="#333" stroke="#333" stroke-width="0.15" >20</text>
<line x1="93.48" y1="503.3" x2="93.48" y2="505.5" stroke="#555" stroke-width="0.6"/>
<text x="93.48000000000002" y="510.7" font-size="4.9" text-anchor="middle" font-weight="normal" fill="#333" stroke="#333" stroke-width="0.15" >40</text>
<line x1="127.62" y1="503.3" x2="127.62" y2="505.5" stroke="#555" stroke-width="0.6"/>
<text x="127.62000000000002" y="510.7" font-size="4.9" text-anchor="middle" font-weight="normal" fill="#333" stroke="#333" stroke-width="0.15" >60</text>
<line x1="161.76" y1="503.3" x2="161.76" y2="505.5" stroke="#555" stroke-width="0.6"/>
<text x="161.76000000000002" y="510.7" font-size="4.9" text-anchor="middle" font-weight="normal" fill="#333" stroke="#333" stroke-width="0.15" >80</text>
<line x1="195.90" y1="503.3" x2="195.90" y2="505.5" stroke="#555" stroke-width="0.6"/>
<text x="195.89999999999998" y="510.7" font-size="4.9" text-anchor="middle" font-weight="normal" fill="#333" stroke="#333" stroke-width="0.15" >100</text>
<text x="112.9" y="523.2" font-size="10.3" text-anchor="middle" font-weight="normal" fill="#1a1a1a" stroke="#1a1a1a" stroke-width="0.35" textLength="62.6" lengthAdjust="spacingAndGlyphs">Gait Cycle (%)</text>
<text x="8.7" y="405.2" font-size="7.6" text-anchor="start" font-weight="bold" fill="#1a1a1a" textLength="9.3" lengthAdjust="spacingAndGlyphs">(D)</text>
<text transform="translate(11.0,455.0) rotate(-90)" font-size="10.2" text-anchor="middle" fill="#1a1a1a" stroke="#1a1a1a" stroke-width="0.3" textLength="31.5" lengthAdjust="spacingAndGlyphs"><tspan font-style="italic" font-family="Liberation Serif">θ</tspan> (deg)</text>
<rect x="333.6" y="12.0" width="14.299999999999955" height="95.2" fill="rgba(160,225,240,0.28)"/>
<polygon points="332.9,25.4 332.9,25.2 333.6,24.0 334.3,22.9 334.9,21.9 335.6,20.9 336.3,20.0 336.9,19.3 337.6,18.7 338.3,18.1 338.9,17.8 339.6,17.5 340.3,17.4 340.9,17.4 341.6,17.6 342.2,17.9 342.9,18.3 343.6,18.9 344.2,19.5 344.9,20.3 345.6,21.1 346.2,22.0 346.9,23.0 347.6,24.0 348.2,25.0 348.2,25.4" fill="rgba(70,85,90,0.2)"/>
<line x1="247.1" y1="101.1" x2="418.1" y2="101.1" stroke="#c8c8c8" stroke-width="0.9"/>
<line x1="247.1" y1="25.40" x2="418.1" y2="25.40" stroke="#3a3a3a" stroke-width="0.8" stroke-dasharray="1.4,1.05"/>
<text x="247.8" y="22.3" font-size="6.4" fill="#b3282d" textLength="87.0" lengthAdjust="spacingAndGlyphs" xml:space="preserve">Critical threshold at <tspan font-style="italic">α</tspan> = 0.05:  <tspan font-style="italic">F</tspan>* =6.543</text>
<polyline points="247.1,65.0 247.8,65.1 248.4,65.1 249.1,65.2 249.8,65.3 250.4,65.4 251.1,65.5 251.8,65.6 252.4,65.8 253.1,66.0 253.8,66.3 254.4,66.6 255.1,66.9 255.7,67.3 256.4,67.8 257.1,68.3 257.7,68.9 258.4,69.5 259.1,70.1 259.7,70.8 260.4,71.5 261.1,72.2 261.7,72.9 262.4,73.7 263.1,74.4 263.7,75.1 264.4,75.9 265.1,76.6 265.7,77.3 266.4,77.9 267.1,78.5 267.7,79.1 268.4,79.6 269.1,80.1 269.7,80.5 270.4,80.9 271.1,81.2 271.7,81.4 272.4,81.5 273.0,81.5 273.7,81.4 274.4,81.3 275.0,81.1 275.7,80.7 276.4,80.4 277.0,80.0 277.7,79.5 278.4,79.0 279.0,78.4 279.7,77.9 280.4,77.3 281.0,76.7 281.7,76.1 282.4,75.5 283.0,75.0 283.7,74.4 284.4,73.9 285.0,73.4 285.7,73.0 286.4,72.6 287.0,72.3 287.7,72.0 288.4,71.8 289.0,71.7 289.7,71.7 290.3,71.8 291.0,71.9 291.7,72.1 292.3,72.3 293.0,72.6 293.7,72.9 294.3,73.3 295.0,73.6 295.7,74.0 296.3,74.4 297.0,74.8 297.7,75.2 298.3,75.5 299.0,75.9 299.7,76.2 300.3,76.4 301.0,76.7 301.7,76.9 302.3,77.0 303.0,77.0 303.7,77.0 304.3,76.9 305.0,76.7 305.7,76.4 306.3,76.1 307.0,75.7 307.6,75.2 308.3,74.7 309.0,74.1 309.6,73.4 310.3,72.6 311.0,71.8 311.6,71.0 312.3,70.0 313.0,69.1 313.6,68.0 314.3,66.9 315.0,65.8 315.6,64.6 316.3,63.4 317.0,62.1 317.6,60.7 318.3,59.4 319.0,57.9 319.6,56.5 320.3,55.0 321.0,53.5 321.6,51.9 322.3,50.3 323.0,48.7 323.6,47.0 324.3,45.4 324.9,43.7 325.6,42.0 326.3,40.4 326.9,38.7 327.6,37.1 328.3,35.4 328.9,33.8 329.6,32.3 330.3,30.8 330.9,29.3 331.6,27.9 332.3,26.5 332.9,25.2 333.6,24.0 334.3,22.9 334.9,21.9 335.6,20.9 336.3,20.0 336.9,19.3 337.6,18.7 338.3,18.1 338.9,17.8 339.6,17.5 340.3,17.4 340.9,17.4 341.6,17.6 342.2,17.9 342.9,18.3 343.6,18.9 344.2,19.5 344.9,20.3 345.6,21.1 346.2,22.0 346.9,23.0 347.6,24.0 348.2,25.0 348.9,26.1 349.6,27.2 350.2,28.2 350.9,29.3 351.6,30.3 352.2,31.3 352.9,32.3 353.6,33.2 354.2,34.1 354.9,34.9 355.6,35.7 356.2,36.4 356.9,37.1 357.6,37.7 358.2,38.3 358.9,38.8 359.5,39.2 360.2,39.7 360.9,40.0 361.5,40.3 362.2,40.6 362.9,40.8 363.5,40.9 364.2,41.1 364.9,41.2 365.5,41.3 366.2,41.3 366.9,41.5 367.5,41.6 368.2,41.7 368.9,41.9 369.5,42.2 370.2,42.5 370.9,42.9 371.5,43.4 372.2,43.9 372.9,44.6 373.5,45.3 374.2,46.1 374.9,46.9 375.5,47.8 376.2,48.7 376.8,49.7 377.5,50.7 378.2,51.7 378.8,52.8 379.5,53.9 380.2,55.0 380.8,56.1 381.5,57.2 382.2,58.3 382.8,59.4 383.5,60.5 384.2,61.5 384.8,62.5 385.5,63.6 386.2,64.5 386.8,65.5 387.5,66.3 388.2,67.2 388.8,68.0 389.5,68.7 390.2,69.3 390.8,69.9 391.5,70.4 392.2,70.9 392.8,71.2 393.5,71.5 394.1,71.7 394.8,71.7 395.5,71.8 396.1,71.7 396.8,71.6 397.5,71.4 398.1,71.2 398.8,70.9 399.5,70.6 400.1,70.2 400.8,69.8 401.5,69.4 402.1,69.0 402.8,68.5 403.5,68.1 404.1,67.6 404.8,67.1 405.5,66.7 406.1,66.2 406.8,65.8 407.5,65.4 408.1,65.0 408.8,64.6 409.5,64.2 410.1,63.8 410.8,63.4 411.4,63.0 412.1,62.6 412.8,62.2 413.4,61.8 414.1,61.5 414.8,61.1 415.4,60.7 416.1,60.4 416.8,60.0 417.4,59.7 418.1,59.3" fill="none" stroke="#1e1e1e" stroke-width="1.45" stroke-linejoin="round"/>
<rect x="247.1" y="12.0" width="171.00000000000003" height="95.2" fill="none" stroke="#a4a4a4" stroke-width="1.1"/>
<line x1="244.6" y1="101.10" x2="247.1" y2="101.10" stroke="#555" stroke-width="0.6"/>
<text x="243.5" y="102.85" font-size="4.9" text-anchor="end" font-weight="normal" fill="#333" stroke="#333" stroke-width="0.15" >0</text>
<line x1="244.6" y1="89.46" x2="247.1" y2="89.46" stroke="#555" stroke-width="0.6"/>
<text x="243.5" y="91.21" font-size="4.9" text-anchor="end" font-weight="normal" fill="#333" stroke="#333" stroke-width="0.15" >1</text>
<line x1="244.6" y1="77.82" x2="247.1" y2="77.82" stroke="#555" stroke-width="0.6"/>
<text x="243.5" y="79.57" font-size="4.9" text-anchor="end" font-weight="normal" fill="#333" stroke="#333" stroke-width="0.15" >2</text>
<line x1="244.6" y1="66.18" x2="247.1" y2="66.18" stroke="#555" stroke-width="0.6"/>
<text x="243.5" y="67.92999999999999" font-size="4.9" text-anchor="end" font-weight="normal" fill="#333" stroke="#333" stroke-width="0.15" >3</text>
<line x1="244.6" y1="54.54" x2="247.1" y2="54.54" stroke="#555" stroke-width="0.6"/>
<text x="243.5" y="56.28999999999999" font-size="4.9" text-anchor="end" font-weight="normal" fill="#333" stroke="#333" stroke-width="0.15" >4</text>
<line x1="244.6" y1="42.90" x2="247.1" y2="42.90" stroke="#555" stroke-width="0.6"/>
<text x="243.5" y="44.64999999999999" font-size="4.9" text-anchor="end" font-weight="normal" fill="#333" stroke="#333" stroke-width="0.15" >5</text>
<line x1="244.6" y1="31.26" x2="247.1" y2="31.26" stroke="#555" stroke-width="0.6"/>
<text x="243.5" y="33.00999999999999" font-size="4.9" text-anchor="end" font-weight="normal" fill="#333" stroke="#333" stroke-width="0.15" >6</text>
<line x1="244.6" y1="19.62" x2="247.1" y2="19.62" stroke="#555" stroke-width="0.6"/>
<text x="243.5" y="21.36999999999999" font-size="4.9" text-anchor="end" font-weight="normal" fill="#333" stroke="#333" stroke-width="0.15" >7</text>
<line x1="247.10" y1="107.2" x2="247.10" y2="109.4" stroke="#555" stroke-width="0.6"/>
<text x="247.1" y="114.60000000000001" font-size="4.9" text-anchor="middle" font-weight="normal" fill="#333" stroke="#333" stroke-width="0.15" >0</text>
<line x1="281.30" y1="107.2" x2="281.30" y2="109.4" stroke="#555" stroke-width="0.6"/>
<text x="281.3" y="114.60000000000001" font-size="4.9" text-anchor="middle" font-weight="normal" fill="#333" stroke="#333" stroke-width="0.15" >20</text>
<line x1="315.50" y1="107.2" x2="315.50" y2="109.4" stroke="#555" stroke-width="0.6"/>
<text x="315.5" y="114.60000000000001" font-size="4.9" text-anchor="middle" font-weight="normal" fill="#333" stroke="#333" stroke-width="0.15" >40</text>
<line x1="349.70" y1="107.2" x2="349.70" y2="109.4" stroke="#555" stroke-width="0.6"/>
<text x="349.70000000000005" y="114.60000000000001" font-size="4.9" text-anchor="middle" font-weight="normal" fill="#333" stroke="#333" stroke-width="0.15" >60</text>
<line x1="383.90" y1="107.2" x2="383.90" y2="109.4" stroke="#555" stroke-width="0.6"/>
<text x="383.9" y="114.60000000000001" font-size="4.9" text-anchor="middle" font-weight="normal" fill="#333" stroke="#333" stroke-width="0.15" >80</text>
<line x1="418.10" y1="107.2" x2="418.10" y2="109.4" stroke="#555" stroke-width="0.6"/>
<text x="418.1" y="114.60000000000001" font-size="4.9" text-anchor="middle" font-weight="normal" fill="#333" stroke="#333" stroke-width="0.15" >100</text>
<text x="334.1" y="9.3" font-size="8.2" text-anchor="middle" font-weight="normal" fill="#1a1a1a" stroke="#1a1a1a" stroke-width="0.3" textLength="32.4" lengthAdjust="spacingAndGlyphs">p = 0.047</text>
<text transform="translate(238.0,61.2) rotate(-90)" font-size="8.2" text-anchor="middle" fill="#1a1a1a" stroke="#1a1a1a" stroke-width="0.12" textLength="27" lengthAdjust="spacing">SPM{F}</text>
<line x1="247.1" y1="233.4" x2="418.1" y2="233.4" stroke="#c8c8c8" stroke-width="0.9"/>
<line x1="247.1" y1="150.40" x2="418.1" y2="150.40" stroke="#3a3a3a" stroke-width="0.8" stroke-dasharray="1.4,1.05"/>
<text x="248.3" y="157.8" font-size="6.4" fill="#b3282d" textLength="86.9" lengthAdjust="spacingAndGlyphs" xml:space="preserve">Critical threshold at <tspan font-style="italic">α</tspan> = 0.05:  <tspan font-style="italic">F</tspan>* =6.382</text>
<polyline points="247.1,184.8 247.8,184.2 248.4,183.7 249.1,183.2 249.8,182.6 250.4,182.1 251.1,181.7 251.8,181.2 252.4,180.8 253.1,180.5 253.8,180.1 254.4,179.9 255.1,179.6 255.7,179.5 256.4,179.4 257.1,179.4 257.7,179.5 258.4,179.6 259.1,179.8 259.7,180.0 260.4,180.3 261.1,180.6 261.7,180.9 262.4,181.2 263.1,181.5 263.7,181.8 264.4,182.1 265.1,182.4 265.7,182.6 266.4,182.8 267.1,182.9 267.7,183.0 268.4,182.9 269.1,182.8 269.7,182.6 270.4,182.3 271.1,181.9 271.7,181.4 272.4,180.8 273.0,180.2 273.7,179.5 274.4,178.7 275.0,177.8 275.7,177.0 276.4,176.1 277.0,175.1 277.7,174.2 278.4,173.3 279.0,172.3 279.7,171.4 280.4,170.4 281.0,169.5 281.7,168.7 282.4,167.9 283.0,167.1 283.7,166.4 284.4,165.7 285.0,165.2 285.7,164.7 286.4,164.3 287.0,164.0 287.7,163.8 288.4,163.7 289.0,163.8 289.7,164.0 290.3,164.3 291.0,164.7 291.7,165.3 292.3,165.9 293.0,166.6 293.7,167.5 294.3,168.3 295.0,169.3 295.7,170.3 296.3,171.3 297.0,172.4 297.7,173.6 298.3,174.7 299.0,175.9 299.7,177.0 300.3,178.2 301.0,179.3 301.7,180.5 302.3,181.6 303.0,182.6 303.7,183.6 304.3,184.6 305.0,185.5 305.7,186.3 306.3,187.1 307.0,187.8 307.6,188.4 308.3,189.0 309.0,189.5 309.6,189.9 310.3,190.3 311.0,190.7 311.6,191.0 312.3,191.3 313.0,191.5 313.6,191.7 314.3,191.9 315.0,192.0 315.6,192.1 316.3,192.2 317.0,192.2 317.6,192.3 318.3,192.3 319.0,192.3 319.6,192.3 320.3,192.3 321.0,192.3 321.6,192.3 322.3,192.2 323.0,192.2 323.6,192.1 324.3,192.1 324.9,192.0 325.6,191.9 326.3,191.7 326.9,191.5 327.6,191.3 328.3,191.1 328.9,190.9 329.6,190.6 330.3,190.2 330.9,189.8 331.6,189.4 332.3,189.0 332.9,188.5 333.6,188.0 334.3,187.5 334.9,186.9 335.6,186.4 336.3,185.9 336.9,185.4 337.6,185.0 338.3,184.5 338.9,184.1 339.6,183.8 340.3,183.5 340.9,183.3 341.6,183.2 342.2,183.2 342.9,183.2 343.6,183.4 344.2,183.6 344.9,183.9 345.6,184.3 346.2,184.7 346.9,185.2 347.6,185.8 348.2,186.4 348.9,187.0 349.6,187.7 350.2,188.3 350.9,189.0 351.6,189.7 352.2,190.4 352.9,191.0 353.6,191.6 354.2,192.3 354.9,192.8 355.6,193.3 356.2,193.8 356.9,194.2 357.6,194.5 358.2,194.8 358.9,194.9 359.5,195.0 360.2,195.0 360.9,194.8 361.5,194.7 362.2,194.4 362.9,194.1 363.5,193.7 364.2,193.3 364.9,192.9 365.5,192.4 366.2,192.0 366.9,191.6 367.5,191.1 368.2,190.8 368.9,190.4 369.5,190.2 370.2,190.0 370.9,189.8 371.5,189.8 372.2,189.8 372.9,190.0 373.5,190.3 374.2,190.6 374.9,191.0 375.5,191.5 376.2,192.1 376.8,192.7 377.5,193.4 378.2,194.1 378.8,194.9 379.5,195.7 380.2,196.5 380.8,197.3 381.5,198.1 382.2,199.0 382.8,199.8 383.5,200.6 384.2,201.4 384.8,202.2 385.5,203.0 386.2,203.7 386.8,204.4 387.5,205.1 388.2,205.7 388.8,206.2 389.5,206.7 390.2,207.1 390.8,207.5 391.5,207.7 392.2,207.9 392.8,208.0 393.5,208.0 394.1,207.9 394.8,207.8 395.5,207.5 396.1,207.2 396.8,206.9 397.5,206.5 398.1,206.0 398.8,205.5 399.5,204.9 400.1,204.4 400.8,203.8 401.5,203.1 402.1,202.5 402.8,201.9 403.5,201.3 404.1,200.6 404.8,200.0 405.5,199.5 406.1,198.9 406.8,198.4 407.5,197.9 408.1,197.4 408.8,197.0 409.5,196.6 410.1,196.2 410.8,195.8 411.4,195.4 412.1,195.1 412.8,194.8 413.4,194.5 414.1,194.2 414.8,193.9 415.4,193.6 416.1,193.4 416.8,193.1 417.4,192.9 418.1,192.6" fill="none" stroke="#1e1e1e" stroke-width="1.45" stroke-linejoin="round"/>
<rect x="247.1" y="144.3" width="171.00000000000003" height="95.0" fill="none" stroke="#a4a4a4" stroke-width="1.1"/>
<line x1="244.6" y1="233.40" x2="247.1" y2="233.40" stroke="#555" stroke-width="0.6"/>
<text x="243.5" y="235.15" font-size="4.9" text-anchor="end" font-weight="normal" fill="#333" stroke="#333" stroke-width="0.15" >0</text>
<line x1="244.6" y1="220.53" x2="247.1" y2="220.53" stroke="#555" stroke-width="0.6"/>
<text x="243.5" y="222.28" font-size="4.9" text-anchor="end" font-weight="normal" fill="#333" stroke="#333" stroke-width="0.15" >1</text>
<line x1="244.6" y1="207.66" x2="247.1" y2="207.66" stroke="#555" stroke-width="0.6"/>
<text x="243.5" y="209.41" font-size="4.9" text-anchor="end" font-weight="normal" fill="#333" stroke="#333" stroke-width="0.15" >2</text>
<line x1="244.6" y1="194.79" x2="247.1" y2="194.79" stroke="#555" stroke-width="0.6"/>
<text x="243.5" y="196.54000000000002" font-size="4.9" text-anchor="end" font-weight="normal" fill="#333" stroke="#333" stroke-width="0.15" >3</text>
<line x1="244.6" y1="181.92" x2="247.1" y2="181.92" stroke="#555" stroke-width="0.6"/>
<text x="243.5" y="183.67000000000002" font-size="4.9" text-anchor="end" font-weight="normal" fill="#333" stroke="#333" stroke-width="0.15" >4</text>
<line x1="244.6" y1="169.05" x2="247.1" y2="169.05" stroke="#555" stroke-width="0.6"/>
<text x="243.5" y="170.8" font-size="4.9" text-anchor="end" font-weight="normal" fill="#333" stroke="#333" stroke-width="0.15" >5</text>
<line x1="244.6" y1="156.18" x2="247.1" y2="156.18" stroke="#555" stroke-width="0.6"/>
<text x="243.5" y="157.93" font-size="4.9" text-anchor="end" font-weight="normal" fill="#333" stroke="#333" stroke-width="0.15" >6</text>
<line x1="247.10" y1="239.3" x2="247.10" y2="241.5" stroke="#555" stroke-width="0.6"/>
<text x="247.1" y="246.70000000000002" font-size="4.9" text-anchor="middle" font-weight="normal" fill="#333" stroke="#333" stroke-width="0.15" >0</text>
<line x1="281.30" y1="239.3" x2="281.30" y2="241.5" stroke="#555" stroke-width="0.6"/>
<text x="281.3" y="246.70000000000002" font-size="4.9" text-anchor="middle" font-weight="normal" fill="#333" stroke="#333" stroke-width="0.15" >20</text>
<line x1="315.50" y1="239.3" x2="315.50" y2="241.5" stroke="#555" stroke-width="0.6"/>
<text x="315.5" y="246.70000000000002" font-size="4.9" text-anchor="middle" font-weight="normal" fill="#333" stroke="#333" stroke-width="0.15" >40</text>
<line x1="349.70" y1="239.3" x2="349.70" y2="241.5" stroke="#555" stroke-width="0.6"/>
<text x="349.70000000000005" y="246.70000000000002" font-size="4.9" text-anchor="middle" font-weight="normal" fill="#333" stroke="#333" stroke-width="0.15" >60</text>
<line x1="383.90" y1="239.3" x2="383.90" y2="241.5" stroke="#555" stroke-width="0.6"/>
<text x="383.9" y="246.70000000000002" font-size="4.9" text-anchor="middle" font-weight="normal" fill="#333" stroke="#333" stroke-width="0.15" >80</text>
<line x1="418.10" y1="239.3" x2="418.10" y2="241.5" stroke="#555" stroke-width="0.6"/>
<text x="418.1" y="246.70000000000002" font-size="4.9" text-anchor="middle" font-weight="normal" fill="#333" stroke="#333" stroke-width="0.15" >100</text>
<text transform="translate(238.0,192.7) rotate(-90)" font-size="8.2" text-anchor="middle" fill="#1a1a1a" stroke="#1a1a1a" stroke-width="0.12" textLength="27" lengthAdjust="spacing">SPM{F}</text>
<rect x="254.0" y="275.6" width="25.69999999999999" height="95.29999999999995" fill="rgba(160,225,240,0.28)"/>
<rect x="341.5" y="275.6" width="19.30000000000001" height="95.29999999999995" fill="rgba(160,225,240,0.28)"/>
<polygon points="255.4,335.4 255.4,333.8 255.7,331.8 256.1,329.7 256.4,327.6 256.8,325.5 257.1,323.3 257.4,321.1 257.8,318.8 258.1,316.5 258.5,314.3 258.8,312.0 259.2,309.7 259.5,307.5 259.8,305.2 260.2,303.0 260.5,300.9 260.9,298.8 261.2,296.8 261.6,294.9 261.9,293.1 262.2,291.3 262.6,289.7 262.9,288.2 263.3,286.8 263.6,285.6 264.0,284.5 264.3,283.6 264.7,282.8 265.0,282.2 265.3,281.7 265.7,281.4 266.0,281.3 266.4,281.3 266.7,281.5 267.1,281.9 267.4,282.4 267.7,283.0 268.1,283.8 268.4,284.7 268.8,285.8 269.1,287.0 269.5,288.3 269.8,289.7 270.1,291.2 270.5,292.9 270.8,294.6 271.2,296.4 271.5,298.3 271.9,300.3 272.2,302.3 272.5,304.3 272.9,306.4 273.2,308.5 273.6,310.7 273.9,312.9 274.3,315.0 274.6,317.2 274.9,319.3 275.3,321.5 275.6,323.6 276.0,325.6 276.3,327.7 276.7,329.7 277.0,331.6 277.4,333.5 277.7,335.3 277.7,335.4" fill="rgba(70,85,90,0.2)"/>
<polygon points="341.2,335.4 341.2,335.2 341.5,333.9 341.9,332.6 342.2,331.3 342.6,329.9 342.9,328.6 343.3,327.3 343.6,326.1 344.0,324.8 344.3,323.6 344.6,322.4 345.0,321.2 345.3,320.1 345.7,319.0 346.0,318.0 346.4,317.0 346.7,316.1 347.0,315.3 347.4,314.5 347.7,313.8 348.1,313.2 348.4,312.6 348.8,312.1 349.1,311.8 349.4,311.5 349.8,311.2 350.1,311.1 350.5,311.1 350.8,311.1 351.2,311.2 351.5,311.4 351.8,311.6 352.2,312.0 352.5,312.3 352.9,312.8 353.2,313.3 353.6,313.9 353.9,314.5 354.2,315.2 354.6,316.0 354.9,316.8 355.3,317.6 355.6,318.5 356.0,319.4 356.3,320.4 356.7,321.4 357.0,322.5 357.3,323.5 357.7,324.6 358.0,325.7 358.4,326.9 358.7,328.0 359.1,329.2 359.4,330.4 359.7,331.5 360.1,332.7 360.4,333.9 360.8,335.1 360.8,335.4" fill="rgba(70,85,90,0.2)"/>
<line x1="247.1" y1="364.9" x2="418.1" y2="364.9" stroke="#c8c8c8" stroke-width="0.9"/>
<line x1="247.1" y1="335.40" x2="418.1" y2="335.40" stroke="#3a3a3a" stroke-width="0.8" stroke-dasharray="1.4,1.05"/>
<text x="248.1" y="327.1" font-size="7.1" fill="#b3282d" textLength="90.6" lengthAdjust="spacingAndGlyphs" xml:space="preserve">Critical threshold at <tspan font-style="italic">α</tspan>=0.05:  <tspan font-style="italic">F</tspan>* =7.644</text>
<polyline points="246.8,361.3 247.1,360.9 247.5,360.4 247.8,360.0 248.2,359.4 248.5,358.9 248.9,358.2 249.2,357.6 249.5,356.8 249.9,356.0 250.2,355.2 250.6,354.2 250.9,353.3 251.3,352.2 251.6,351.1 251.9,349.9 252.3,348.6 252.6,347.2 253.0,345.8 253.3,344.3 253.7,342.7 254.0,341.1 254.4,339.4 254.7,337.6 255.0,335.7 255.4,333.8 255.7,331.8 256.1,329.7 256.4,327.6 256.8,325.5 257.1,323.3 257.4,321.1 257.8,318.8 258.1,316.5 258.5,314.3 258.8,312.0 259.2,309.7 259.5,307.5 259.8,305.2 260.2,303.0 260.5,300.9 260.9,298.8 261.2,296.8 261.6,294.9 261.9,293.1 262.2,291.3 262.6,289.7 262.9,288.2 263.3,286.8 263.6,285.6 264.0,284.5 264.3,283.6 264.7,282.8 265.0,282.2 265.3,281.7 265.7,281.4 266.0,281.3 266.4,281.3 266.7,281.5 267.1,281.9 267.4,282.4 267.7,283.0 268.1,283.8 268.4,284.7 268.8,285.8 269.1,287.0 269.5,288.3 269.8,289.7 270.1,291.2 270.5,292.9 270.8,294.6 271.2,296.4 271.5,298.3 271.9,300.3 272.2,302.3 272.5,304.3 272.9,306.4 273.2,308.5 273.6,310.7 273.9,312.9 274.3,315.0 274.6,317.2 274.9,319.3 275.3,321.5 275.6,323.6 276.0,325.6 276.3,327.7 276.7,329.7 277.0,331.6 277.4,333.5 277.7,335.3 278.0,337.1 278.4,338.8 278.7,340.5 279.1,342.1 279.4,343.6 279.8,345.1 280.1,346.4 280.4,347.8 280.8,349.0 281.1,350.2 281.5,351.3 281.8,352.3 282.2,353.3 282.5,354.3 282.8,355.1 283.2,355.9 283.5,356.7 283.9,357.4 284.2,358.0 284.6,358.6 284.9,359.2 285.2,359.7 285.6,360.1 285.9,360.6 286.3,361.0 286.6,361.3 287.0,361.6 287.3,361.9 287.7,362.2 288.0,362.4 288.3,362.7 288.7,362.9 289.0,363.0 289.4,363.2 289.7,363.3 290.1,363.5 290.4,363.6 290.7,363.7 291.1,363.8 291.4,363.9 291.8,363.9 292.1,364.0 292.5,364.0 292.8,364.1 293.1,364.1 293.5,364.2 293.8,364.2 294.2,364.2 294.5,364.3 294.9,364.3 295.2,364.3 295.5,364.3 295.9,364.3 296.2,364.3 296.6,364.3 296.9,364.4 297.3,364.4 297.6,364.4 297.9,364.4 298.3,364.4 298.6,364.4 299.0,364.4 299.3,364.4 299.7,364.4 300.0,364.4 300.4,364.4 300.7,364.4 301.0,364.4 301.4,364.4 301.7,364.4 302.1,364.4 302.4,364.4 302.8,364.4 303.1,364.4 303.4,364.4 303.8,364.4 304.1,364.4 304.5,364.4 304.8,364.4 305.2,364.4 305.5,364.4 305.8,364.4 306.2,364.4 306.5,364.4 306.9,364.4 307.2,364.4 307.6,364.4 307.9,364.4 308.2,364.4 308.6,364.4 308.9,364.4 309.3,364.4 309.6,364.4 310.0,364.4 310.3,364.4 310.7,364.4 311.0,364.4 311.3,364.4 311.7,364.4 312.0,364.4 312.4,364.4 312.7,364.4 313.1,364.4 313.4,364.4 313.7,364.4 314.1,364.4 314.4,364.4 314.8,364.4 315.1,364.4 315.5,364.4 315.8,364.4 316.1,364.4 316.5,364.4 316.8,364.4 317.2,364.4 317.5,364.4 317.9,364.4 318.2,364.4 318.5,364.4 318.9,364.4 319.2,364.3 319.6,364.3 319.9,364.3 320.3,364.3 320.6,364.3 320.9,364.3 321.3,364.3 321.6,364.3 322.0,364.2 322.3,364.2 322.7,364.2 323.0,364.1 323.4,364.1 323.7,364.1 324.0,364.0 324.4,364.0 324.7,363.9 325.1,363.8 325.4,363.8 325.8,363.7 326.1,363.6 326.4,363.5 326.8,363.4 327.1,363.3 327.5,363.1 327.8,363.0 328.2,362.8 328.5,362.6 328.8,362.4 329.2,362.2 329.5,362.0 329.9,361.7 330.2,361.5 330.6,361.2 330.9,360.8 331.2,360.5 331.6,360.1 331.9,359.7 332.3,359.3 332.6,358.8 333.0,358.3 333.3,357.7 333.7,357.2 334.0,356.5 334.3,355.9 334.7,355.2 335.0,354.5 335.4,353.7 335.7,352.9 336.1,352.1 336.4,351.2 336.7,350.2 337.1,349.3 337.4,348.3 337.8,347.2 338.1,346.2 338.5,345.1 338.8,343.9 339.1,342.7 339.5,341.5 339.8,340.3 340.2,339.1 340.5,337.8 340.9,336.5 341.2,335.2 341.5,333.9 341.9,332.6 342.2,331.3 342.6,329.9 342.9,328.6 343.3,327.3 343.6,326.1 344.0,324.8 344.3,323.6 344.6,322.4 345.0,321.2 345.3,320.1 345.7,319.0 346.0,318.0 346.4,317.0 346.7,316.1 347.0,315.3 347.4,314.5 347.7,313.8 348.1,313.2 348.4,312.6 348.8,312.1 349.1,311.8 349.4,311.5 349.8,311.2 350.1,311.1 350.5,311.1 350.8,311.1 351.2,311.2 351.5,311.4 351.8,311.6 352.2,312.0 352.5,312.3 352.9,312.8 353.2,313.3 353.6,313.9 353.9,314.5 354.2,315.2 354.6,316.0 354.9,316.8 355.3,317.6 355.6,318.5 356.0,319.4 356.3,320.4 356.7,321.4 357.0,322.5 357.3,323.5 357.7,324.6 358.0,325.7 358.4,326.9 358.7,328.0 359.1,329.2 359.4,330.4 359.7,331.5 360.1,332.7 360.4,333.9 360.8,335.1 361.1,336.2 361.5,337.4 361.8,338.5 362.1,339.6 362.5,340.7 362.8,341.8 363.2,342.8 363.5,343.8 363.9,344.8 364.2,345.8 364.5,346.8 364.9,347.7 365.2,348.6 365.6,349.4 365.9,350.2 366.3,351.0 366.6,351.8 367.0,352.5 367.3,353.2 367.6,353.9 368.0,354.5 368.3,355.0 368.7,355.5 369.0,356.0 369.4,356.4 369.7,356.8 370.0,357.1 370.4,357.4 370.7,357.7 371.1,357.9 371.4,358.2 371.8,358.4 372.1,358.6 372.4,358.8 372.8,358.9 373.1,359.1 373.5,359.3 373.8,359.4 374.2,359.6 374.5,359.8 374.8,359.9 375.2,360.1 375.5,360.2 375.9,360.4 376.2,360.5 376.6,360.6 376.9,360.7 377.2,360.9 377.6,361.0 377.9,361.0 378.3,361.1 378.6,361.2 379.0,361.3 379.3,361.4 379.7,361.4 380.0,361.5 380.3,361.6 380.7,361.6 381.0,361.7 381.4,361.7 381.7,361.8 382.1,361.8 382.4,361.9 382.7,361.9 383.1,361.9 383.4,362.0 383.8,362.0 384.1,362.0 384.5,362.1 384.8,362.1 385.1,362.2 385.5,362.2 385.8,362.2 386.2,362.3 386.5,362.3 386.9,362.4 387.2,362.4 387.5,362.5 387.9,362.5 388.2,362.6 388.6,362.6 388.9,362.6 389.3,362.7 389.6,362.7 390.0,362.8 390.3,362.8 390.6,362.9 391.0,362.9 391.3,363.0 391.7,363.0 392.0,363.0 392.4,363.1 392.7,363.1 393.0,363.2 393.4,363.2 393.7,363.2 394.1,363.3 394.4,363.3 394.8,363.3 395.1,363.4 395.4,363.4 395.8,363.4 396.1,363.4 396.5,363.5 396.8,363.5 397.2,363.5 397.5,363.5 397.8,363.5 398.2,363.6 398.5,363.6 398.9,363.6 399.2,363.6 399.6,363.7 399.9,363.7 400.2,363.7 400.6,363.7 400.9,363.7 401.3,363.8 401.6,363.8 402.0,363.8 402.3,363.8 402.7,363.8 403.0,363.8 403.3,363.8 403.7,363.9 404.0,363.9 404.4,363.9 404.7,363.9 405.1,363.9 405.4,363.9 405.7,363.9 406.1,363.9 406.4,363.9 406.8,363.9 407.1,363.8 407.5,363.8 407.8,363.7 408.1,363.6 408.5,363.5 408.8,363.3 409.2,363.2 409.5,363.1 409.9,362.9 410.2,362.8 410.5,362.6 410.9,362.4 411.2,362.3 411.6,362.1 411.9,361.8 412.3,361.5 412.6,361.2 413.0,360.9 413.3,360.5 413.6,360.2 414.0,359.9 414.3,359.6 414.7,359.4 415.0,359.1 415.4,359.0 415.7,358.9 416.0,358.8 416.4,358.7 416.7,358.6 417.1,358.6 417.4,358.5 417.8,358.5 418.1,358.5" fill="none" stroke="#1e1e1e" stroke-width="1.45" stroke-linejoin="round"/>
<rect x="247.1" y="275.6" width="171.00000000000003" height="95.29999999999995" fill="none" stroke="#a4a4a4" stroke-width="1.1"/>
<line x1="244.6" y1="364.90" x2="247.1" y2="364.90" stroke="#555" stroke-width="0.6"/>
<text x="243.5" y="366.65" font-size="4.9" text-anchor="end" font-weight="normal" fill="#333" stroke="#333" stroke-width="0.15" >0</text>
<line x1="244.6" y1="345.80" x2="247.1" y2="345.80" stroke="#555" stroke-width="0.6"/>
<text x="243.5" y="347.54999999999995" font-size="4.9" text-anchor="end" font-weight="normal" fill="#333" stroke="#333" stroke-width="0.15" >5</text>
<line x1="244.6" y1="326.70" x2="247.1" y2="326.70" stroke="#555" stroke-width="0.6"/>
<text x="243.5" y="328.45" font-size="4.9" text-anchor="end" font-weight="normal" fill="#333" stroke="#333" stroke-width="0.15" >10</text>
<line x1="244.6" y1="307.60" x2="247.1" y2="307.60" stroke="#555" stroke-width="0.6"/>
<text x="243.5" y="309.34999999999997" font-size="4.9" text-anchor="end" font-weight="normal" fill="#333" stroke="#333" stroke-width="0.15" >15</text>
<line x1="244.6" y1="288.50" x2="247.1" y2="288.50" stroke="#555" stroke-width="0.6"/>
<text x="243.5" y="290.25" font-size="4.9" text-anchor="end" font-weight="normal" fill="#333" stroke="#333" stroke-width="0.15" >20</text>
<line x1="247.10" y1="370.9" x2="247.10" y2="373.09999999999997" stroke="#555" stroke-width="0.6"/>
<text x="247.1" y="378.29999999999995" font-size="4.9" text-anchor="middle" font-weight="normal" fill="#333" stroke="#333" stroke-width="0.15" >0</text>
<line x1="281.30" y1="370.9" x2="281.30" y2="373.09999999999997" stroke="#555" stroke-width="0.6"/>
<text x="281.3" y="378.29999999999995" font-size="4.9" text-anchor="middle" font-weight="normal" fill="#333" stroke="#333" stroke-width="0.15" >20</text>
<line x1="315.50" y1="370.9" x2="315.50" y2="373.09999999999997" stroke="#555" stroke-width="0.6"/>
<text x="315.5" y="378.29999999999995" font-size="4.9" text-anchor="middle" font-weight="normal" fill="#333" stroke="#333" stroke-width="0.15" >40</text>
<line x1="349.70" y1="370.9" x2="349.70" y2="373.09999999999997" stroke="#555" stroke-width="0.6"/>
<text x="349.70000000000005" y="378.29999999999995" font-size="4.9" text-anchor="middle" font-weight="normal" fill="#333" stroke="#333" stroke-width="0.15" >60</text>
<line x1="383.90" y1="370.9" x2="383.90" y2="373.09999999999997" stroke="#555" stroke-width="0.6"/>
<text x="383.9" y="378.29999999999995" font-size="4.9" text-anchor="middle" font-weight="normal" fill="#333" stroke="#333" stroke-width="0.15" >80</text>
<line x1="418.10" y1="370.9" x2="418.10" y2="373.09999999999997" stroke="#555" stroke-width="0.6"/>
<text x="418.1" y="378.29999999999995" font-size="4.9" text-anchor="middle" font-weight="normal" fill="#333" stroke="#333" stroke-width="0.15" >100</text>
<text x="334.2" y="273.2" font-size="8.2" text-anchor="middle" font-weight="normal" fill="#1a1a1a" stroke="#1a1a1a" stroke-width="0.3" textLength="60.8" lengthAdjust="spacingAndGlyphs">p = (0.024, 0.033)</text>
<text transform="translate(234.4,323.7) rotate(-90)" font-size="8.2" text-anchor="middle" fill="#1a1a1a" stroke="#1a1a1a" stroke-width="0.12" textLength="27" lengthAdjust="spacing">SPM{F}</text>
<rect x="260.7" y="407.3" width="11.900000000000034" height="95.59999999999997" fill="rgba(160,225,240,0.28)"/>
<rect x="335.6" y="407.3" width="29.399999999999977" height="95.59999999999997" fill="rgba(160,225,240,0.28)"/>
<polygon points="260.9,473.3 260.9,473.3 261.2,472.5 261.6,471.7 261.9,470.9 262.2,470.2 262.6,469.5 262.9,468.9 263.3,468.3 263.6,467.8 264.0,467.3 264.3,467.0 264.7,466.6 265.0,466.4 265.3,466.2 265.7,466.0 266.0,466.0 266.4,466.0 266.7,466.1 267.1,466.2 267.4,466.5 267.7,466.7 268.1,467.1 268.4,467.5 268.8,468.0 269.1,468.5 269.5,469.1 269.8,469.7 270.1,470.3 270.5,471.1 270.8,471.8 271.2,472.6 271.2,473.3" fill="rgba(70,85,90,0.2)"/>
<polygon points="335.7,473.3 335.7,472.6 336.1,471.1 336.4,469.6 336.7,467.9 337.1,466.3 337.4,464.5 337.8,462.8 338.1,461.0 338.5,459.1 338.8,457.2 339.1,455.3 339.5,453.3 339.8,451.3 340.2,449.3 340.5,447.3 340.9,445.3 341.2,443.3 341.5,441.3 341.9,439.3 342.2,437.3 342.6,435.4 342.9,433.5 343.3,431.6 343.6,429.8 344.0,428.1 344.3,426.4 344.6,424.8 345.0,423.3 345.3,421.8 345.7,420.5 346.0,419.2 346.4,418.1 346.7,417.1 347.0,416.1 347.4,415.4 347.7,414.7 348.1,414.1 348.4,413.7 348.8,413.4 349.1,413.3 349.4,413.3 349.8,413.4 350.1,413.6 350.5,414.0 350.8,414.4 351.2,415.0 351.5,415.7 351.8,416.5 352.2,417.4 352.5,418.5 352.9,419.6 353.2,420.8 353.6,422.1 353.9,423.5 354.2,425.0 354.6,426.5 354.9,428.1 355.3,429.8 355.6,431.5 356.0,433.2 356.3,435.0 356.7,436.9 357.0,438.8 357.3,440.6 357.7,442.5 358.0,444.5 358.4,446.4 358.7,448.3 359.1,450.2 359.4,452.1 359.7,454.0 360.1,455.8 360.4,457.6 360.8,459.4 361.1,461.2 361.5,462.9 361.8,464.6 362.1,466.2 362.5,467.8 362.8,469.3 363.2,470.8 363.5,472.2 363.5,473.3" fill="rgba(70,85,90,0.2)"/>
<line x1="247.1" y1="496.6" x2="418.1" y2="496.6" stroke="#c8c8c8" stroke-width="0.9"/>
<line x1="247.1" y1="473.30" x2="418.1" y2="473.30" stroke="#3a3a3a" stroke-width="0.8" stroke-dasharray="1.4,1.05"/>
<text x="248.9" y="466.0" font-size="7.1" fill="#b3282d" textLength="88.7" lengthAdjust="spacingAndGlyphs" xml:space="preserve">Critical threshold at <tspan font-style="italic">α</tspan>=0.05:  <tspan font-style="italic">F</tspan>* =7.53</text>
<polyline points="246.8,495.3 247.1,495.2 247.5,495.1 247.8,495.0 248.2,494.9 248.5,494.7 248.9,494.6 249.2,494.4 249.5,494.2 249.9,493.9 250.2,493.7 250.6,493.4 250.9,493.1 251.3,492.8 251.6,492.5 251.9,492.1 252.3,491.7 252.6,491.3 253.0,490.8 253.3,490.3 253.7,489.8 254.0,489.2 254.4,488.7 254.7,488.0 255.0,487.4 255.4,486.7 255.7,486.0 256.1,485.3 256.4,484.5 256.8,483.7 257.1,482.9 257.4,482.0 257.8,481.2 258.1,480.3 258.5,479.4 258.8,478.5 259.2,477.6 259.5,476.8 259.8,475.9 260.2,475.0 260.5,474.1 260.9,473.3 261.2,472.5 261.6,471.7 261.9,470.9 262.2,470.2 262.6,469.5 262.9,468.9 263.3,468.3 263.6,467.8 264.0,467.3 264.3,467.0 264.7,466.6 265.0,466.4 265.3,466.2 265.7,466.0 266.0,466.0 266.4,466.0 266.7,466.1 267.1,466.2 267.4,466.5 267.7,466.7 268.1,467.1 268.4,467.5 268.8,468.0 269.1,468.5 269.5,469.1 269.8,469.7 270.1,470.3 270.5,471.1 270.8,471.8 271.2,472.6 271.5,473.4 271.9,474.2 272.2,475.0 272.5,475.9 272.9,476.7 273.2,477.6 273.6,478.5 273.9,479.3 274.3,480.2 274.6,481.0 274.9,481.9 275.3,482.7 275.6,483.5 276.0,484.3 276.3,485.0 276.7,485.7 277.0,486.4 277.4,487.1 277.7,487.7 278.0,488.4 278.4,488.9 278.7,489.5 279.1,490.0 279.4,490.5 279.8,491.0 280.1,491.4 280.4,491.8 280.8,492.2 281.1,492.5 281.5,492.9 281.8,493.2 282.2,493.4 282.5,493.7 282.8,493.9 283.2,494.1 283.5,494.3 283.9,494.5 284.2,494.7 284.6,494.8 284.9,494.9 285.2,495.0 285.6,495.2 285.9,495.2 286.3,495.3 286.6,495.4 287.0,495.5 287.3,495.5 287.7,495.6 288.0,495.6 288.3,495.7 288.7,495.7 289.0,495.7 289.4,495.7 289.7,495.8 290.1,495.8 290.4,495.8 290.7,495.8 291.1,495.8 291.4,495.8 291.8,495.8 292.1,495.8 292.5,495.8 292.8,495.8 293.1,495.8 293.5,495.8 293.8,495.8 294.2,495.8 294.5,495.8 294.9,495.8 295.2,495.8 295.5,495.8 295.9,495.8 296.2,495.8 296.6,495.8 296.9,495.8 297.3,495.7 297.6,495.7 297.9,495.7 298.3,495.7 298.6,495.7 299.0,495.7 299.3,495.7 299.7,495.7 300.0,495.7 300.4,495.6 300.7,495.6 301.0,495.6 301.4,495.6 301.7,495.6 302.1,495.6 302.4,495.6 302.8,495.6 303.1,495.6 303.4,495.5 303.8,495.5 304.1,495.5 304.5,495.5 304.8,495.5 305.2,495.5 305.5,495.5 305.8,495.5 306.2,495.5 306.5,495.5 306.9,495.4 307.2,495.4 307.6,495.4 307.9,495.4 308.2,495.4 308.6,495.4 308.9,495.4 309.3,495.4 309.6,495.4 310.0,495.4 310.3,495.4 310.7,495.4 311.0,495.4 311.3,495.4 311.7,495.4 312.0,495.4 312.4,495.4 312.7,495.4 313.1,495.4 313.4,495.4 313.7,495.5 314.1,495.5 314.4,495.5 314.8,495.5 315.1,495.5 315.5,495.6 315.8,495.6 316.1,495.6 316.5,495.6 316.8,495.6 317.2,495.6 317.5,495.6 317.9,495.7 318.2,495.7 318.5,495.7 318.9,495.7 319.2,495.7 319.6,495.7 319.9,495.6 320.3,495.6 320.6,495.6 320.9,495.6 321.3,495.5 321.6,495.5 322.0,495.4 322.3,495.4 322.7,495.3 323.0,495.2 323.4,495.1 323.7,495.0 324.0,494.9 324.4,494.7 324.7,494.6 325.1,494.4 325.4,494.2 325.8,494.0 326.1,493.8 326.4,493.5 326.8,493.3 327.1,493.0 327.5,492.7 327.8,492.3 328.2,491.9 328.5,491.5 328.8,491.1 329.2,490.6 329.5,490.1 329.9,489.6 330.2,489.0 330.6,488.4 330.9,487.7 331.2,487.0 331.6,486.2 331.9,485.4 332.3,484.5 332.6,483.6 333.0,482.6 333.3,481.6 333.7,480.5 334.0,479.3 334.3,478.1 334.7,476.8 335.0,475.5 335.4,474.1 335.7,472.6 336.1,471.1 336.4,469.6 336.7,467.9 337.1,466.3 337.4,464.5 337.8,462.8 338.1,461.0 338.5,459.1 338.8,457.2 339.1,455.3 339.5,453.3 339.8,451.3 340.2,449.3 340.5,447.3 340.9,445.3 341.2,443.3 341.5,441.3 341.9,439.3 342.2,437.3 342.6,435.4 342.9,433.5 343.3,431.6 343.6,429.8 344.0,428.1 344.3,426.4 344.6,424.8 345.0,423.3 345.3,421.8 345.7,420.5 346.0,419.2 346.4,418.1 346.7,417.1 347.0,416.1 347.4,415.4 347.7,414.7 348.1,414.1 348.4,413.7 348.8,413.4 349.1,413.3 349.4,413.3 349.8,413.4 350.1,413.6 350.5,414.0 350.8,414.4 351.2,415.0 351.5,415.7 351.8,416.5 352.2,417.4 352.5,418.5 352.9,419.6 353.2,420.8 353.6,422.1 353.9,423.5 354.2,425.0 354.6,426.5 354.9,428.1 355.3,429.8 355.6,431.5 356.0,433.2 356.3,435.0 356.7,436.9 357.0,438.8 357.3,440.6 357.7,442.5 358.0,444.5 358.4,446.4 358.7,448.3 359.1,450.2 359.4,452.1 359.7,454.0 360.1,455.8 360.4,457.6 360.8,459.4 361.1,461.2 361.5,462.9 361.8,464.6 362.1,466.2 362.5,467.8 362.8,469.3 363.2,470.8 363.5,472.2 363.9,473.6 364.2,474.9 364.5,476.2 364.9,477.4 365.2,478.6 365.6,479.7 365.9,480.8 366.3,481.8 366.6,482.7 367.0,483.6 367.3,484.5 367.6,485.3 368.0,486.0 368.3,486.8 368.7,487.4 369.0,488.0 369.4,488.6 369.7,489.2 370.0,489.7 370.4,490.1 370.7,490.6 371.1,491.0 371.4,491.4 371.8,491.7 372.1,492.0 372.4,492.3 372.8,492.6 373.1,492.8 373.5,493.1 373.8,493.3 374.2,493.5 374.5,493.8 374.8,494.0 375.2,494.2 375.5,494.5 375.9,494.7 376.2,494.9 376.6,495.1 376.9,495.2 377.2,495.4 377.6,495.6 377.9,495.7 378.3,495.8 378.6,495.9 379.0,496.0 379.3,496.0 379.7,496.1 380.0,496.1 380.3,496.1 380.7,496.1 381.0,496.0 381.4,496.0 381.7,496.0 382.1,495.9 382.4,495.9 382.7,495.8 383.1,495.8 383.4,495.7 383.8,495.6 384.1,495.5 384.5,495.4 384.8,495.4 385.1,495.3 385.5,495.2 385.8,495.1 386.2,495.0 386.5,494.9 386.9,494.8 387.2,494.7 387.5,494.6 387.9,494.5 388.2,494.4 388.6,494.3 388.9,494.2 389.3,494.1 389.6,494.0 390.0,493.9 390.3,493.9 390.6,493.8 391.0,493.7 391.3,493.7 391.7,493.6 392.0,493.5 392.4,493.5 392.7,493.5 393.0,493.4 393.4,493.4 393.7,493.4 394.1,493.4 394.4,493.4 394.8,493.4 395.1,493.4 395.4,493.4 395.8,493.4 396.1,493.4 396.5,493.4 396.8,493.4 397.2,493.4 397.5,493.4 397.8,493.4 398.2,493.4 398.5,493.4 398.9,493.4 399.2,493.4 399.6,493.4 399.9,493.4 400.2,493.4 400.6,493.4 400.9,493.4 401.3,493.4 401.6,493.4 402.0,493.4 402.3,493.4 402.7,493.4 403.0,493.4 403.3,493.4 403.7,493.4 404.0,493.4 404.4,493.4 404.7,493.4 405.1,493.4 405.4,493.4 405.7,493.4 406.1,493.4 406.4,493.4 406.8,493.4 407.1,493.4 407.5,493.4 407.8,493.4 408.1,493.4 408.5,493.4 408.8,493.4 409.2,493.4 409.5,493.4 409.9,493.4 410.2,493.4 410.5,493.3 410.9,493.3 411.2,493.3 411.6,493.2 411.9,493.2 412.3,493.2 412.6,493.1 413.0,493.1 413.3,493.0 413.6,493.0 414.0,492.9 414.3,492.8 414.7,492.8 415.0,492.7 415.4,492.6 415.7,492.6 416.0,492.5 416.4,492.4 416.7,492.4 417.1,492.3 417.4,492.2 417.8,492.2 418.1,492.1" fill="none" stroke="#1e1e1e" stroke-width="1.45" stroke-linejoin="round"/>
<rect x="247.1" y="407.3" width="171.00000000000003" height="95.59999999999997" fill="none" stroke="#a4a4a4" stroke-width="1.1"/>
<line x1="244.6" y1="496.60" x2="247.1" y2="496.60" stroke="#555" stroke-width="0.6"/>
<text x="243.5" y="498.35" font-size="4.9" text-anchor="end" font-weight="normal" fill="#333" stroke="#333" stroke-width="0.15" >0</text>
<line x1="244.6" y1="481.14" x2="247.1" y2="481.14" stroke="#555" stroke-width="0.6"/>
<text x="243.5" y="482.89000000000004" font-size="4.9" text-anchor="end" font-weight="normal" fill="#333" stroke="#333" stroke-width="0.15" >5</text>
<line x1="244.6" y1="465.68" x2="247.1" y2="465.68" stroke="#555" stroke-width="0.6"/>
<text x="243.5" y="467.43" font-size="4.9" text-anchor="end" font-weight="normal" fill="#333" stroke="#333" stroke-width="0.15" >10</text>
<line x1="244.6" y1="450.22" x2="247.1" y2="450.22" stroke="#555" stroke-width="0.6"/>
<text x="243.5" y="451.97" font-size="4.9" text-anchor="end" font-weight="normal" fill="#333" stroke="#333" stroke-width="0.15" >15</text>
<line x1="244.6" y1="434.76" x2="247.1" y2="434.76" stroke="#555" stroke-width="0.6"/>
<text x="243.5" y="436.51" font-size="4.9" text-anchor="end" font-weight="normal" fill="#333" stroke="#333" stroke-width="0.15" >20</text>
<line x1="244.6" y1="419.30" x2="247.1" y2="419.30" stroke="#555" stroke-width="0.6"/>
<text x="243.5" y="421.05" font-size="4.9" text-anchor="end" font-weight="normal" fill="#333" stroke="#333" stroke-width="0.15" >25</text>
<line x1="247.10" y1="502.9" x2="247.10" y2="505.09999999999997" stroke="#555" stroke-width="0.6"/>
<text x="247.1" y="510.29999999999995" font-size="4.9" text-anchor="middle" font-weight="normal" fill="#333" stroke="#333" stroke-width="0.15" >0</text>
<line x1="281.30" y1="502.9" x2="281.30" y2="505.09999999999997" stroke="#555" stroke-width="0.6"/>
<text x="281.3" y="510.29999999999995" font-size="4.9" text-anchor="middle" font-weight="normal" fill="#333" stroke="#333" stroke-width="0.15" >20</text>
<line x1="315.50" y1="502.9" x2="315.50" y2="505.09999999999997" stroke="#555" stroke-width="0.6"/>
<text x="315.5" y="510.29999999999995" font-size="4.9" text-anchor="middle" font-weight="normal" fill="#333" stroke="#333" stroke-width="0.15" >40</text>
<line x1="349.70" y1="502.9" x2="349.70" y2="505.09999999999997" stroke="#555" stroke-width="0.6"/>
<text x="349.70000000000005" y="510.29999999999995" font-size="4.9" text-anchor="middle" font-weight="normal" fill="#333" stroke="#333" stroke-width="0.15" >60</text>
<line x1="383.90" y1="502.9" x2="383.90" y2="505.09999999999997" stroke="#555" stroke-width="0.6"/>
<text x="383.9" y="510.29999999999995" font-size="4.9" text-anchor="middle" font-weight="normal" fill="#333" stroke="#333" stroke-width="0.15" >80</text>
<line x1="418.10" y1="502.9" x2="418.10" y2="505.09999999999997" stroke="#555" stroke-width="0.6"/>
<text x="418.1" y="510.29999999999995" font-size="4.9" text-anchor="middle" font-weight="normal" fill="#333" stroke="#333" stroke-width="0.15" >100</text>
<text x="336.8" y="405.0" font-size="8.2" text-anchor="middle" font-weight="normal" fill="#1a1a1a" stroke="#1a1a1a" stroke-width="0.3" textLength="59.8" lengthAdjust="spacingAndGlyphs">p = (0.044, 0.022)</text>
<text transform="translate(234.6,456.2) rotate(-90)" font-size="8.2" text-anchor="middle" fill="#1a1a1a" stroke="#1a1a1a" stroke-width="0.12" textLength="27" lengthAdjust="spacing">SPM{F}</text>
<line x1="345.7" y1="532.7" x2="363" y2="532.7" stroke="#6a2ea6" stroke-width="3"/>
<line x1="345.7" y1="542.7" x2="363" y2="542.7" stroke="#f7892e" stroke-width="3"/>
<text x="367.1" y="535.5" font-size="7.9" text-anchor="start" font-weight="normal" fill="#1a1a1a" stroke="#1a1a1a" stroke-width="0.2" textLength="25.2" lengthAdjust="spacingAndGlyphs">Control</text>
<text x="367.1" y="545.5" font-size="7.9" text-anchor="start" font-weight="normal" fill="#1a1a1a" stroke="#1a1a1a" stroke-width="0.2" textLength="20.3" lengthAdjust="spacingAndGlyphs">pwMS</text>
</svg>
</body></html>
